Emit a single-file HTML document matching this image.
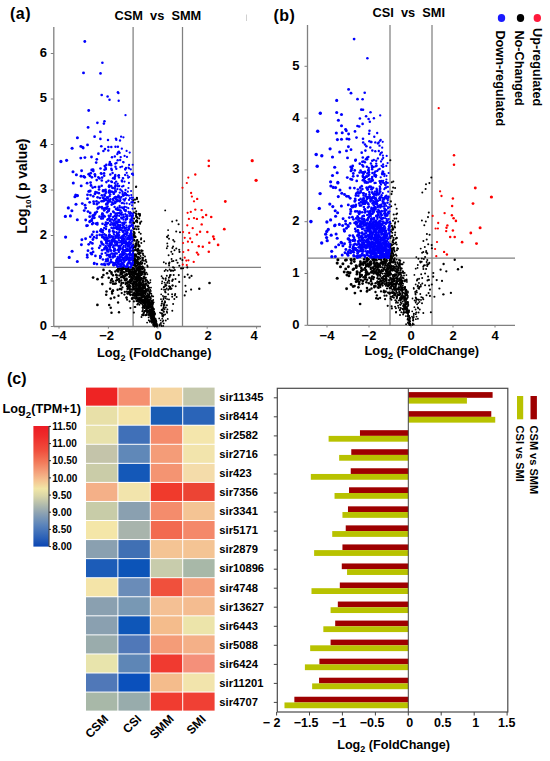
<!DOCTYPE html><html><head><meta charset="utf-8"><style>html,body{margin:0;padding:0;background:#fff;}svg{display:block;}text{font-family:"Liberation Sans",sans-serif;}</style></head><body><svg width="550" height="761" viewBox="0 0 550 761"><rect width="550" height="761" fill="#fff"/><text x="10" y="18.7" font-size="16" letter-spacing="0.5" font-family="Liberation Sans, sans-serif" font-weight="bold">(a)</text><text x="273.4" y="20.6" font-size="16" letter-spacing="0.5" font-family="Liberation Sans, sans-serif" font-weight="bold">(b)</text><text x="7" y="383.5" font-size="16" font-family="Liberation Sans, sans-serif" font-weight="bold">(c)</text><line x1="246.5" y1="14.5" x2="246.5" y2="21" stroke="#d0d0d0" stroke-width="1"/><text x="114.5" y="20.3" font-size="12.8" font-family="Liberation Sans, sans-serif" font-weight="bold" xml:space="preserve">CSM  vs  SMM</text><text x="372.5" y="17" font-size="12.8" font-family="Liberation Sans, sans-serif" font-weight="bold" xml:space="preserve">CSI  vs  SMI</text><line x1="133.1" y1="27" x2="133.1" y2="326.5" stroke="#808080" stroke-width="1.25"/><line x1="182.5" y1="27" x2="182.5" y2="326.5" stroke="#808080" stroke-width="1.25"/><line x1="53.8" y1="267.4" x2="261" y2="267.4" stroke="#808080" stroke-width="1.25"/><line x1="53.8" y1="27" x2="53.8" y2="326.5" stroke="#808080" stroke-width="1.3"/><line x1="53.8" y1="326.5" x2="261" y2="326.5" stroke="#808080" stroke-width="1.3"/><line x1="50.8" y1="326.5" x2="53.8" y2="326.5" stroke="#808080" stroke-width="1"/><text x="47.0" y="329.9" text-anchor="end" font-size="13" font-family="Liberation Sans, sans-serif" font-weight="bold">0</text><line x1="50.8" y1="281.0" x2="53.8" y2="281.0" stroke="#808080" stroke-width="1"/><text x="47.0" y="284.4" text-anchor="end" font-size="13" font-family="Liberation Sans, sans-serif" font-weight="bold">1</text><line x1="50.8" y1="235.5" x2="53.8" y2="235.5" stroke="#808080" stroke-width="1"/><text x="47.0" y="238.9" text-anchor="end" font-size="13" font-family="Liberation Sans, sans-serif" font-weight="bold">2</text><line x1="50.8" y1="190.0" x2="53.8" y2="190.0" stroke="#808080" stroke-width="1"/><text x="47.0" y="193.4" text-anchor="end" font-size="13" font-family="Liberation Sans, sans-serif" font-weight="bold">3</text><line x1="50.8" y1="144.5" x2="53.8" y2="144.5" stroke="#808080" stroke-width="1"/><text x="47.0" y="147.9" text-anchor="end" font-size="13" font-family="Liberation Sans, sans-serif" font-weight="bold">4</text><line x1="50.8" y1="99.0" x2="53.8" y2="99.0" stroke="#808080" stroke-width="1"/><text x="47.0" y="102.4" text-anchor="end" font-size="13" font-family="Liberation Sans, sans-serif" font-weight="bold">5</text><line x1="50.8" y1="53.5" x2="53.8" y2="53.5" stroke="#808080" stroke-width="1"/><text x="47.0" y="56.9" text-anchor="end" font-size="13" font-family="Liberation Sans, sans-serif" font-weight="bold">6</text><line x1="59.0" y1="326.5" x2="59.0" y2="328.7" stroke="#808080" stroke-width="1"/><text x="59.0" y="339.8" text-anchor="middle" font-size="13" font-family="Liberation Sans, sans-serif" font-weight="bold">−4</text><line x1="108.4" y1="326.5" x2="108.4" y2="328.7" stroke="#808080" stroke-width="1"/><text x="106.6" y="339.8" text-anchor="middle" font-size="13" font-family="Liberation Sans, sans-serif" font-weight="bold">−2</text><line x1="157.8" y1="326.5" x2="157.8" y2="328.7" stroke="#808080" stroke-width="1"/><text x="158.1" y="339.8" text-anchor="middle" font-size="13" font-family="Liberation Sans, sans-serif" font-weight="bold">0</text><line x1="207.2" y1="326.5" x2="207.2" y2="328.7" stroke="#808080" stroke-width="1"/><text x="208.2" y="339.8" text-anchor="middle" font-size="13" font-family="Liberation Sans, sans-serif" font-weight="bold">2</text><line x1="256.6" y1="326.5" x2="256.6" y2="328.7" stroke="#808080" stroke-width="1"/><text x="254.1" y="339.8" text-anchor="middle" font-size="13" font-family="Liberation Sans, sans-serif" font-weight="bold">4</text><line x1="390.0" y1="25" x2="390.0" y2="325.3" stroke="#808080" stroke-width="1.25"/><line x1="432.0" y1="25" x2="432.0" y2="325.3" stroke="#808080" stroke-width="1.25"/><line x1="307.5" y1="258.0" x2="515" y2="258.0" stroke="#808080" stroke-width="1.25"/><line x1="307.5" y1="25" x2="307.5" y2="325.3" stroke="#808080" stroke-width="1.3"/><line x1="307.5" y1="325.3" x2="515" y2="325.3" stroke="#808080" stroke-width="1.3"/><line x1="304.5" y1="325.3" x2="307.5" y2="325.3" stroke="#808080" stroke-width="1"/><text x="299.4" y="328.7" text-anchor="end" font-size="13" font-family="Liberation Sans, sans-serif" font-weight="bold">0</text><line x1="304.5" y1="273.5" x2="307.5" y2="273.5" stroke="#808080" stroke-width="1"/><text x="299.4" y="276.9" text-anchor="end" font-size="13" font-family="Liberation Sans, sans-serif" font-weight="bold">1</text><line x1="304.5" y1="221.7" x2="307.5" y2="221.7" stroke="#808080" stroke-width="1"/><text x="299.4" y="225.1" text-anchor="end" font-size="13" font-family="Liberation Sans, sans-serif" font-weight="bold">2</text><line x1="304.5" y1="169.9" x2="307.5" y2="169.9" stroke="#808080" stroke-width="1"/><text x="299.4" y="173.3" text-anchor="end" font-size="13" font-family="Liberation Sans, sans-serif" font-weight="bold">3</text><line x1="304.5" y1="118.1" x2="307.5" y2="118.1" stroke="#808080" stroke-width="1"/><text x="299.4" y="121.5" text-anchor="end" font-size="13" font-family="Liberation Sans, sans-serif" font-weight="bold">4</text><line x1="304.5" y1="66.3" x2="307.5" y2="66.3" stroke="#808080" stroke-width="1"/><text x="299.4" y="69.7" text-anchor="end" font-size="13" font-family="Liberation Sans, sans-serif" font-weight="bold">5</text><line x1="327.0" y1="325.3" x2="327.0" y2="327.5" stroke="#808080" stroke-width="1"/><text x="327.0" y="340.3" text-anchor="middle" font-size="13" font-family="Liberation Sans, sans-serif" font-weight="bold">−4</text><line x1="369.0" y1="325.3" x2="369.0" y2="327.5" stroke="#808080" stroke-width="1"/><text x="369.0" y="340.3" text-anchor="middle" font-size="13" font-family="Liberation Sans, sans-serif" font-weight="bold">−2</text><line x1="411.0" y1="325.3" x2="411.0" y2="327.5" stroke="#808080" stroke-width="1"/><text x="411.0" y="340.3" text-anchor="middle" font-size="13" font-family="Liberation Sans, sans-serif" font-weight="bold">0</text><line x1="453.0" y1="325.3" x2="453.0" y2="327.5" stroke="#808080" stroke-width="1"/><text x="453.0" y="340.3" text-anchor="middle" font-size="13" font-family="Liberation Sans, sans-serif" font-weight="bold">2</text><line x1="495.0" y1="325.3" x2="495.0" y2="327.5" stroke="#808080" stroke-width="1"/><text x="495.0" y="340.3" text-anchor="middle" font-size="13" font-family="Liberation Sans, sans-serif" font-weight="bold">4</text><g fill="#000"><circle cx="149.8" cy="321.8" r="0.94"/><circle cx="155.0" cy="323.1" r="0.9"/><circle cx="154.1" cy="322.3" r="0.91"/><circle cx="154.1" cy="324.7" r="0.91"/><circle cx="156.8" cy="325.1" r="0.89"/><circle cx="155.1" cy="324.5" r="0.9"/><circle cx="155.9" cy="320.2" r="0.89"/><circle cx="153.3" cy="325.5" r="0.91"/><circle cx="154.0" cy="315.4" r="0.91"/><circle cx="155.1" cy="324.8" r="0.9"/><circle cx="152.3" cy="318.3" r="0.92"/><circle cx="155.7" cy="326.2" r="0.9"/><circle cx="147.1" cy="322.6" r="0.96"/><circle cx="154.1" cy="318.0" r="0.91"/><circle cx="154.6" cy="326.5" r="0.9"/><circle cx="154.3" cy="317.7" r="0.91"/><circle cx="154.6" cy="324.5" r="0.9"/><circle cx="150.5" cy="316.4" r="0.94"/><circle cx="153.9" cy="319.9" r="0.91"/><circle cx="155.1" cy="320.5" r="0.9"/><circle cx="151.0" cy="318.4" r="0.93"/><circle cx="156.7" cy="323.9" r="0.89"/><circle cx="151.3" cy="316.6" r="0.93"/><circle cx="148.8" cy="320.2" r="0.95"/><circle cx="156.5" cy="324.4" r="0.89"/><circle cx="153.4" cy="315.6" r="0.91"/><circle cx="154.8" cy="326.0" r="0.9"/><circle cx="141.5" cy="317.0" r="1.01"/><circle cx="155.7" cy="324.8" r="0.9"/><circle cx="154.1" cy="324.7" r="0.91"/><circle cx="152.0" cy="322.8" r="0.92"/><circle cx="155.7" cy="325.6" r="0.9"/><circle cx="145.6" cy="315.2" r="0.97"/><circle cx="154.4" cy="317.7" r="0.91"/><circle cx="155.7" cy="322.3" r="0.9"/><circle cx="156.1" cy="321.0" r="0.89"/><circle cx="156.7" cy="325.8" r="0.89"/><circle cx="154.7" cy="319.6" r="0.9"/><circle cx="153.3" cy="321.7" r="0.91"/><circle cx="153.3" cy="317.8" r="0.91"/><circle cx="153.9" cy="318.6" r="0.91"/><circle cx="155.9" cy="324.6" r="0.89"/><circle cx="151.7" cy="315.5" r="0.93"/><circle cx="154.3" cy="323.2" r="0.91"/><circle cx="154.1" cy="320.4" r="0.91"/><circle cx="156.6" cy="326.5" r="0.89"/><circle cx="153.1" cy="320.9" r="0.92"/><circle cx="148.7" cy="317.4" r="0.95"/><circle cx="156.8" cy="325.4" r="0.89"/><circle cx="152.8" cy="317.5" r="0.92"/><circle cx="153.4" cy="315.6" r="0.91"/><circle cx="151.3" cy="316.5" r="0.93"/><circle cx="156.7" cy="326.2" r="0.89"/><circle cx="154.6" cy="324.5" r="0.9"/><circle cx="154.6" cy="318.8" r="0.9"/><circle cx="154.7" cy="321.8" r="0.9"/><circle cx="153.6" cy="318.6" r="0.91"/><circle cx="153.7" cy="321.3" r="0.91"/><circle cx="156.1" cy="324.3" r="0.89"/><circle cx="156.3" cy="325.0" r="0.89"/><circle cx="153.2" cy="316.3" r="0.92"/><circle cx="152.4" cy="320.4" r="0.92"/><circle cx="154.7" cy="318.6" r="0.9"/><circle cx="156.6" cy="323.5" r="0.89"/><circle cx="155.5" cy="321.6" r="0.9"/><circle cx="151.6" cy="320.0" r="0.93"/><circle cx="151.3" cy="319.3" r="0.93"/><circle cx="152.2" cy="318.4" r="0.92"/><circle cx="156.4" cy="326.1" r="0.89"/><circle cx="156.3" cy="321.9" r="0.89"/><circle cx="154.6" cy="321.4" r="0.9"/><circle cx="150.1" cy="321.0" r="0.94"/><circle cx="153.9" cy="323.5" r="0.91"/><circle cx="151.7" cy="316.0" r="0.93"/><circle cx="155.7" cy="318.8" r="0.9"/><circle cx="157.2" cy="326.2" r="0.88"/><circle cx="152.8" cy="319.6" r="0.92"/><circle cx="154.5" cy="324.4" r="0.91"/><circle cx="152.3" cy="322.5" r="0.92"/><circle cx="154.3" cy="316.9" r="0.91"/><circle cx="156.6" cy="325.6" r="0.89"/><circle cx="154.5" cy="326.0" r="0.91"/><circle cx="153.1" cy="324.3" r="0.92"/><circle cx="154.1" cy="323.9" r="0.91"/><circle cx="153.6" cy="321.7" r="0.91"/><circle cx="154.0" cy="320.7" r="0.91"/><circle cx="153.7" cy="317.5" r="0.91"/><circle cx="155.7" cy="326.0" r="0.9"/><circle cx="155.7" cy="325.4" r="0.9"/><circle cx="152.6" cy="320.0" r="0.92"/><circle cx="153.4" cy="322.4" r="0.91"/><circle cx="152.7" cy="316.8" r="0.92"/><circle cx="156.9" cy="325.5" r="0.89"/><circle cx="153.8" cy="319.0" r="0.91"/><circle cx="156.4" cy="321.8" r="0.89"/><circle cx="156.1" cy="324.8" r="0.89"/><circle cx="155.9" cy="320.5" r="0.89"/><circle cx="156.5" cy="324.6" r="0.89"/><circle cx="151.3" cy="321.8" r="0.93"/><circle cx="151.8" cy="316.6" r="0.93"/><circle cx="153.9" cy="322.5" r="0.91"/><circle cx="157.1" cy="326.3" r="0.89"/><circle cx="152.6" cy="321.2" r="0.92"/><circle cx="152.1" cy="317.4" r="0.92"/><circle cx="156.2" cy="325.1" r="0.89"/><circle cx="156.1" cy="325.3" r="0.89"/><circle cx="150.4" cy="315.7" r="0.94"/><circle cx="151.0" cy="315.8" r="0.93"/><circle cx="154.9" cy="323.0" r="0.9"/><circle cx="153.3" cy="320.8" r="0.91"/><circle cx="156.2" cy="325.8" r="0.89"/><circle cx="151.1" cy="318.0" r="0.93"/><circle cx="156.3" cy="324.7" r="0.89"/><circle cx="152.7" cy="315.2" r="0.92"/><circle cx="143.5" cy="315.2" r="0.99"/><circle cx="155.3" cy="320.2" r="0.9"/><circle cx="153.0" cy="315.9" r="0.92"/><circle cx="153.9" cy="318.2" r="0.91"/><circle cx="150.6" cy="316.8" r="0.94"/><circle cx="152.6" cy="317.6" r="0.92"/><circle cx="149.7" cy="306.4" r="0.94"/><circle cx="151.0" cy="312.1" r="0.93"/><circle cx="147.9" cy="312.4" r="0.96"/><circle cx="150.2" cy="310.9" r="0.94"/><circle cx="150.6" cy="307.3" r="0.94"/><circle cx="152.0" cy="307.7" r="0.92"/><circle cx="145.3" cy="305.3" r="0.98"/><circle cx="152.2" cy="314.8" r="0.92"/><circle cx="142.7" cy="304.7" r="1.0"/><circle cx="151.4" cy="310.6" r="0.93"/><circle cx="149.9" cy="307.3" r="0.94"/><circle cx="149.7" cy="312.3" r="0.94"/><circle cx="151.9" cy="311.7" r="0.93"/><circle cx="149.0" cy="306.8" r="0.95"/><circle cx="150.5" cy="304.1" r="0.94"/><circle cx="144.5" cy="307.9" r="0.98"/><circle cx="150.7" cy="306.0" r="0.93"/><circle cx="151.1" cy="306.9" r="0.93"/><circle cx="142.6" cy="314.9" r="1.0"/><circle cx="151.0" cy="307.2" r="0.93"/><circle cx="151.3" cy="312.8" r="0.93"/><circle cx="150.4" cy="310.6" r="0.94"/><circle cx="152.6" cy="312.7" r="0.92"/><circle cx="152.1" cy="314.1" r="0.92"/><circle cx="147.7" cy="306.1" r="0.96"/><circle cx="146.8" cy="314.9" r="0.96"/><circle cx="147.2" cy="308.7" r="0.96"/><circle cx="154.2" cy="311.4" r="0.91"/><circle cx="152.8" cy="313.7" r="0.92"/><circle cx="151.9" cy="311.9" r="0.93"/><circle cx="153.6" cy="312.7" r="0.91"/><circle cx="145.7" cy="310.6" r="0.97"/><circle cx="149.5" cy="307.8" r="0.94"/><circle cx="153.7" cy="308.6" r="0.91"/><circle cx="151.2" cy="303.9" r="0.93"/><circle cx="148.5" cy="307.6" r="0.95"/><circle cx="149.4" cy="304.1" r="0.94"/><circle cx="155.1" cy="313.3" r="0.9"/><circle cx="151.2" cy="310.3" r="0.93"/><circle cx="152.5" cy="305.7" r="0.92"/><circle cx="151.6" cy="312.1" r="0.93"/><circle cx="145.8" cy="310.7" r="0.97"/><circle cx="153.8" cy="314.1" r="0.91"/><circle cx="143.3" cy="306.7" r="0.99"/><circle cx="153.6" cy="312.5" r="0.91"/><circle cx="153.7" cy="313.4" r="0.91"/><circle cx="149.0" cy="315.0" r="0.95"/><circle cx="139.4" cy="304.7" r="1.02"/><circle cx="151.5" cy="310.7" r="0.93"/><circle cx="144.4" cy="311.5" r="0.98"/><circle cx="151.4" cy="314.7" r="0.93"/><circle cx="142.9" cy="309.9" r="0.99"/><circle cx="151.4" cy="311.2" r="0.93"/><circle cx="146.3" cy="306.4" r="0.97"/><circle cx="151.4" cy="310.9" r="0.93"/><circle cx="151.4" cy="304.9" r="0.93"/><circle cx="144.0" cy="306.1" r="0.99"/><circle cx="149.0" cy="315.0" r="0.95"/><circle cx="146.4" cy="306.5" r="0.97"/><circle cx="133.9" cy="312.6" r="1.06"/><circle cx="154.0" cy="309.3" r="0.91"/><circle cx="148.4" cy="308.4" r="0.95"/><circle cx="148.1" cy="305.1" r="0.95"/><circle cx="149.4" cy="313.0" r="0.94"/><circle cx="152.5" cy="314.6" r="0.92"/><circle cx="152.5" cy="306.5" r="0.92"/><circle cx="146.6" cy="306.2" r="0.97"/><circle cx="147.3" cy="307.6" r="0.96"/><circle cx="153.4" cy="315.1" r="0.91"/><circle cx="142.7" cy="307.7" r="1.0"/><circle cx="130.4" cy="308.1" r="1.09"/><circle cx="152.6" cy="311.6" r="0.92"/><circle cx="148.3" cy="311.5" r="0.95"/><circle cx="149.4" cy="310.1" r="0.94"/><circle cx="148.4" cy="307.8" r="0.95"/><circle cx="146.3" cy="307.3" r="0.97"/><circle cx="150.3" cy="307.5" r="0.94"/><circle cx="150.8" cy="312.9" r="0.93"/><circle cx="144.3" cy="312.1" r="0.98"/><circle cx="155.0" cy="314.6" r="0.9"/><circle cx="137.3" cy="304.5" r="1.04"/><circle cx="153.0" cy="312.5" r="0.92"/><circle cx="145.8" cy="304.1" r="0.97"/><circle cx="152.8" cy="314.7" r="0.92"/><circle cx="150.5" cy="310.8" r="0.94"/><circle cx="147.3" cy="304.3" r="0.96"/><circle cx="152.0" cy="307.5" r="0.92"/><circle cx="151.6" cy="313.9" r="0.93"/><circle cx="148.0" cy="306.6" r="0.96"/><circle cx="148.5" cy="305.9" r="0.95"/><circle cx="146.6" cy="311.1" r="0.97"/><circle cx="151.8" cy="312.7" r="0.93"/><circle cx="151.3" cy="312.9" r="0.93"/><circle cx="149.8" cy="313.3" r="0.94"/><circle cx="152.8" cy="309.8" r="0.92"/><circle cx="152.2" cy="313.6" r="0.92"/><circle cx="146.7" cy="314.8" r="0.97"/><circle cx="143.4" cy="313.6" r="0.99"/><circle cx="152.3" cy="307.3" r="0.92"/><circle cx="148.9" cy="304.5" r="0.95"/><circle cx="151.5" cy="312.2" r="0.93"/><circle cx="153.0" cy="310.9" r="0.92"/><circle cx="149.3" cy="310.6" r="0.95"/><circle cx="144.8" cy="304.6" r="0.98"/><circle cx="144.4" cy="307.8" r="0.98"/><circle cx="143.8" cy="313.0" r="0.99"/><circle cx="152.9" cy="307.6" r="0.92"/><circle cx="152.4" cy="310.4" r="0.92"/><circle cx="147.8" cy="304.3" r="0.96"/><circle cx="153.7" cy="313.7" r="0.91"/><circle cx="147.3" cy="312.2" r="0.96"/><circle cx="143.0" cy="306.0" r="0.99"/><circle cx="150.5" cy="306.7" r="0.94"/><circle cx="152.6" cy="312.0" r="0.92"/><circle cx="150.3" cy="306.0" r="0.94"/><circle cx="152.7" cy="308.8" r="0.92"/><circle cx="150.2" cy="306.1" r="0.94"/><circle cx="151.2" cy="310.9" r="0.93"/><circle cx="151.9" cy="311.6" r="0.93"/><circle cx="134.6" cy="307.0" r="1.06"/><circle cx="152.1" cy="308.1" r="0.92"/><circle cx="150.1" cy="313.9" r="0.94"/><circle cx="151.8" cy="309.7" r="0.93"/><circle cx="150.9" cy="309.4" r="0.93"/><circle cx="144.9" cy="303.8" r="0.98"/><circle cx="147.8" cy="304.4" r="0.96"/><circle cx="144.3" cy="306.1" r="0.98"/><circle cx="154.4" cy="312.8" r="0.91"/><circle cx="153.8" cy="313.6" r="0.91"/><circle cx="154.4" cy="314.0" r="0.91"/><circle cx="142.1" cy="315.0" r="1.0"/><circle cx="152.4" cy="312.2" r="0.92"/><circle cx="149.7" cy="305.7" r="0.94"/><circle cx="143.8" cy="315.0" r="0.99"/><circle cx="147.8" cy="308.2" r="0.96"/><circle cx="146.1" cy="314.8" r="0.97"/><circle cx="144.3" cy="307.8" r="0.98"/><circle cx="149.3" cy="314.3" r="0.95"/><circle cx="148.0" cy="310.8" r="0.96"/><circle cx="146.3" cy="309.8" r="0.97"/><circle cx="151.2" cy="307.6" r="0.93"/><circle cx="150.7" cy="305.4" r="0.93"/><circle cx="145.7" cy="310.5" r="0.97"/><circle cx="144.7" cy="311.1" r="0.98"/><circle cx="147.5" cy="304.5" r="0.96"/><circle cx="149.7" cy="311.2" r="0.94"/><circle cx="152.7" cy="304.2" r="0.92"/><circle cx="149.0" cy="310.9" r="0.95"/><circle cx="146.1" cy="308.2" r="0.97"/><circle cx="150.2" cy="313.9" r="0.94"/><circle cx="151.5" cy="310.5" r="0.93"/><circle cx="142.6" cy="307.7" r="1.0"/><circle cx="150.6" cy="312.4" r="0.94"/><circle cx="150.4" cy="313.7" r="0.94"/><circle cx="147.9" cy="310.8" r="0.96"/><circle cx="151.0" cy="310.5" r="0.93"/><circle cx="153.7" cy="315.0" r="0.91"/><circle cx="151.8" cy="311.4" r="0.93"/><circle cx="150.3" cy="310.7" r="0.94"/><circle cx="146.9" cy="313.0" r="0.96"/><circle cx="135.3" cy="307.0" r="1.05"/><circle cx="152.5" cy="311.0" r="0.92"/><circle cx="151.3" cy="315.0" r="0.93"/><circle cx="152.4" cy="308.9" r="0.92"/><circle cx="146.4" cy="307.7" r="0.97"/><circle cx="152.8" cy="310.2" r="0.92"/><circle cx="149.1" cy="313.6" r="0.95"/><circle cx="150.5" cy="313.4" r="0.94"/><circle cx="147.9" cy="304.4" r="0.96"/><circle cx="150.5" cy="311.5" r="0.94"/><circle cx="147.7" cy="310.4" r="0.96"/><circle cx="151.8" cy="308.9" r="0.93"/><circle cx="151.0" cy="312.1" r="0.93"/><circle cx="146.1" cy="306.2" r="0.97"/><circle cx="149.9" cy="309.6" r="0.94"/><circle cx="154.2" cy="314.1" r="0.91"/><circle cx="152.5" cy="312.1" r="0.92"/><circle cx="142.3" cy="311.2" r="1.0"/><circle cx="144.5" cy="304.1" r="0.98"/><circle cx="153.2" cy="309.1" r="0.92"/><circle cx="144.4" cy="295.9" r="0.98"/><circle cx="139.5" cy="294.0" r="1.02"/><circle cx="131.8" cy="298.5" r="1.08"/><circle cx="145.8" cy="297.2" r="0.97"/><circle cx="145.8" cy="298.9" r="0.97"/><circle cx="147.9" cy="299.7" r="0.96"/><circle cx="138.1" cy="300.1" r="1.03"/><circle cx="153.2" cy="302.6" r="0.92"/><circle cx="150.1" cy="303.5" r="0.94"/><circle cx="135.5" cy="298.8" r="1.05"/><circle cx="130.6" cy="295.1" r="1.09"/><circle cx="144.8" cy="296.2" r="0.98"/><circle cx="150.6" cy="302.1" r="0.94"/><circle cx="148.7" cy="301.5" r="0.95"/><circle cx="151.4" cy="303.5" r="0.93"/><circle cx="153.2" cy="296.4" r="0.92"/><circle cx="142.0" cy="301.5" r="1.0"/><circle cx="147.8" cy="299.9" r="0.96"/><circle cx="137.9" cy="294.5" r="1.03"/><circle cx="151.3" cy="293.7" r="0.93"/><circle cx="145.7" cy="303.7" r="0.97"/><circle cx="136.4" cy="301.1" r="1.04"/><circle cx="143.1" cy="294.1" r="0.99"/><circle cx="149.6" cy="293.0" r="0.94"/><circle cx="134.6" cy="295.7" r="1.06"/><circle cx="147.1" cy="302.2" r="0.96"/><circle cx="134.0" cy="297.9" r="1.06"/><circle cx="147.0" cy="300.1" r="0.96"/><circle cx="144.3" cy="302.6" r="0.98"/><circle cx="140.4" cy="295.7" r="1.01"/><circle cx="153.2" cy="300.0" r="0.92"/><circle cx="137.4" cy="300.0" r="1.04"/><circle cx="146.2" cy="296.3" r="0.97"/><circle cx="139.0" cy="298.9" r="1.02"/><circle cx="136.8" cy="298.7" r="1.04"/><circle cx="136.9" cy="297.4" r="1.04"/><circle cx="118.1" cy="302.5" r="1.19"/><circle cx="147.4" cy="300.6" r="0.96"/><circle cx="143.5" cy="299.9" r="0.99"/><circle cx="149.0" cy="297.3" r="0.95"/><circle cx="142.6" cy="295.1" r="1.0"/><circle cx="147.8" cy="298.2" r="0.96"/><circle cx="129.8" cy="294.5" r="1.1"/><circle cx="148.9" cy="294.7" r="0.95"/><circle cx="136.3" cy="296.3" r="1.05"/><circle cx="141.9" cy="295.7" r="1.0"/><circle cx="136.9" cy="301.0" r="1.04"/><circle cx="139.1" cy="295.0" r="1.02"/><circle cx="142.4" cy="292.4" r="1.0"/><circle cx="150.6" cy="303.4" r="0.94"/><circle cx="136.2" cy="296.0" r="1.05"/><circle cx="147.4" cy="297.3" r="0.96"/><circle cx="148.6" cy="302.7" r="0.95"/><circle cx="132.8" cy="294.6" r="1.07"/><circle cx="140.8" cy="300.1" r="1.01"/><circle cx="149.0" cy="297.4" r="0.95"/><circle cx="146.4" cy="301.5" r="0.97"/><circle cx="146.9" cy="299.0" r="0.96"/><circle cx="127.6" cy="293.7" r="1.11"/><circle cx="151.9" cy="301.5" r="0.93"/><circle cx="145.3" cy="293.5" r="0.98"/><circle cx="141.2" cy="293.6" r="1.01"/><circle cx="134.5" cy="292.9" r="1.06"/><circle cx="146.2" cy="301.2" r="0.97"/><circle cx="144.9" cy="293.2" r="0.98"/><circle cx="151.7" cy="295.5" r="0.93"/><circle cx="143.0" cy="292.5" r="0.99"/><circle cx="150.2" cy="293.3" r="0.94"/><circle cx="138.2" cy="298.9" r="1.03"/><circle cx="144.6" cy="292.8" r="0.98"/><circle cx="144.2" cy="297.6" r="0.98"/><circle cx="145.3" cy="299.9" r="0.98"/><circle cx="139.7" cy="300.6" r="1.02"/><circle cx="144.9" cy="300.8" r="0.98"/><circle cx="146.3" cy="302.5" r="0.97"/><circle cx="129.6" cy="301.3" r="1.1"/><circle cx="142.1" cy="295.8" r="1.0"/><circle cx="142.9" cy="295.7" r="0.99"/><circle cx="144.0" cy="302.2" r="0.99"/><circle cx="136.0" cy="293.3" r="1.05"/><circle cx="129.3" cy="293.8" r="1.1"/><circle cx="140.4" cy="302.8" r="1.01"/><circle cx="127.1" cy="299.7" r="1.12"/><circle cx="146.0" cy="302.5" r="0.97"/><circle cx="149.5" cy="297.3" r="0.94"/><circle cx="137.0" cy="294.0" r="1.04"/><circle cx="126.6" cy="297.4" r="1.12"/><circle cx="149.4" cy="301.9" r="0.94"/><circle cx="144.3" cy="303.1" r="0.98"/><circle cx="134.4" cy="295.8" r="1.06"/><circle cx="143.2" cy="294.0" r="0.99"/><circle cx="149.8" cy="296.9" r="0.94"/><circle cx="148.8" cy="296.3" r="0.95"/><circle cx="135.8" cy="294.2" r="1.05"/><circle cx="143.9" cy="294.0" r="0.99"/><circle cx="151.5" cy="302.9" r="0.93"/><circle cx="148.6" cy="300.0" r="0.95"/><circle cx="144.3" cy="301.5" r="0.98"/><circle cx="142.2" cy="299.5" r="1.0"/><circle cx="145.6" cy="293.1" r="0.97"/><circle cx="151.6" cy="303.7" r="0.93"/><circle cx="137.3" cy="295.2" r="1.04"/><circle cx="145.1" cy="303.6" r="0.98"/><circle cx="142.1" cy="297.3" r="1.0"/><circle cx="148.9" cy="302.7" r="0.95"/><circle cx="143.4" cy="302.6" r="0.99"/><circle cx="149.7" cy="299.5" r="0.94"/><circle cx="141.6" cy="299.8" r="1.0"/><circle cx="149.3" cy="303.0" r="0.95"/><circle cx="138.0" cy="303.7" r="1.03"/><circle cx="126.4" cy="297.8" r="1.12"/><circle cx="144.2" cy="301.5" r="0.98"/><circle cx="136.2" cy="297.7" r="1.05"/><circle cx="137.6" cy="294.7" r="1.04"/><circle cx="138.2" cy="293.3" r="1.03"/><circle cx="153.0" cy="303.7" r="0.92"/><circle cx="124.4" cy="294.6" r="1.14"/><circle cx="137.0" cy="292.4" r="1.04"/><circle cx="148.9" cy="295.6" r="0.95"/><circle cx="150.1" cy="302.8" r="0.94"/><circle cx="137.6" cy="293.9" r="1.04"/><circle cx="142.9" cy="300.7" r="0.99"/><circle cx="147.0" cy="295.9" r="0.96"/><circle cx="140.0" cy="298.0" r="1.02"/><circle cx="134.9" cy="295.2" r="1.06"/><circle cx="151.3" cy="300.5" r="0.93"/><circle cx="144.2" cy="303.2" r="0.98"/><circle cx="140.9" cy="295.3" r="1.01"/><circle cx="146.1" cy="302.8" r="0.97"/><circle cx="143.4" cy="295.9" r="0.99"/><circle cx="149.6" cy="300.9" r="0.94"/><circle cx="149.3" cy="296.3" r="0.95"/><circle cx="140.4" cy="302.9" r="1.01"/><circle cx="141.1" cy="293.4" r="1.01"/><circle cx="144.6" cy="298.5" r="0.98"/><circle cx="133.5" cy="294.4" r="1.07"/><circle cx="133.9" cy="301.4" r="1.06"/><circle cx="132.1" cy="298.9" r="1.08"/><circle cx="145.7" cy="298.7" r="0.97"/><circle cx="137.1" cy="293.9" r="1.04"/><circle cx="142.7" cy="294.6" r="1.0"/><circle cx="127.5" cy="293.3" r="1.11"/><circle cx="141.7" cy="299.0" r="1.0"/><circle cx="142.6" cy="294.2" r="1.0"/><circle cx="142.3" cy="294.1" r="1.0"/><circle cx="140.1" cy="300.7" r="1.02"/><circle cx="142.6" cy="302.2" r="1.0"/><circle cx="149.2" cy="294.8" r="0.95"/><circle cx="143.4" cy="296.4" r="0.99"/><circle cx="142.8" cy="300.8" r="1.0"/><circle cx="132.8" cy="294.8" r="1.07"/><circle cx="144.0" cy="300.1" r="0.99"/><circle cx="148.2" cy="300.5" r="0.95"/><circle cx="138.2" cy="301.8" r="1.03"/><circle cx="139.7" cy="301.9" r="1.02"/><circle cx="150.3" cy="299.7" r="0.94"/><circle cx="152.3" cy="300.9" r="0.92"/><circle cx="148.3" cy="294.8" r="0.95"/><circle cx="147.3" cy="298.7" r="0.96"/><circle cx="146.6" cy="295.7" r="0.97"/><circle cx="132.3" cy="297.9" r="1.08"/><circle cx="140.4" cy="293.8" r="1.01"/><circle cx="141.2" cy="298.2" r="1.01"/><circle cx="141.3" cy="301.6" r="1.01"/><circle cx="142.7" cy="294.2" r="1.0"/><circle cx="148.7" cy="300.3" r="0.95"/><circle cx="153.7" cy="302.3" r="0.91"/><circle cx="135.1" cy="295.1" r="1.05"/><circle cx="121.7" cy="293.1" r="1.16"/><circle cx="133.8" cy="293.4" r="1.06"/><circle cx="130.8" cy="294.5" r="1.09"/><circle cx="128.9" cy="292.6" r="1.1"/><circle cx="147.4" cy="295.3" r="0.96"/><circle cx="142.6" cy="293.8" r="1.0"/><circle cx="144.5" cy="296.9" r="0.98"/><circle cx="144.6" cy="303.6" r="0.98"/><circle cx="143.8" cy="295.8" r="0.99"/><circle cx="141.9" cy="300.3" r="1.0"/><circle cx="139.9" cy="298.5" r="1.02"/><circle cx="149.7" cy="302.3" r="0.94"/><circle cx="145.5" cy="294.3" r="0.97"/><circle cx="147.7" cy="293.5" r="0.96"/><circle cx="145.7" cy="299.1" r="0.97"/><circle cx="141.6" cy="295.8" r="1.0"/><circle cx="142.6" cy="296.7" r="1.0"/><circle cx="144.6" cy="299.1" r="0.98"/><circle cx="145.6" cy="298.8" r="0.97"/><circle cx="141.4" cy="294.5" r="1.01"/><circle cx="148.7" cy="303.3" r="0.95"/><circle cx="147.5" cy="298.9" r="0.96"/><circle cx="140.0" cy="294.2" r="1.02"/><circle cx="137.5" cy="300.7" r="1.04"/><circle cx="149.7" cy="296.8" r="0.94"/><circle cx="147.9" cy="302.7" r="0.96"/><circle cx="144.4" cy="296.6" r="0.98"/><circle cx="143.6" cy="292.7" r="0.99"/><circle cx="139.0" cy="294.1" r="1.02"/><circle cx="150.9" cy="298.1" r="0.93"/><circle cx="134.7" cy="293.3" r="1.06"/><circle cx="129.9" cy="292.6" r="1.09"/><circle cx="151.9" cy="303.0" r="0.93"/><circle cx="152.9" cy="302.1" r="0.92"/><circle cx="139.5" cy="297.4" r="1.02"/><circle cx="147.6" cy="301.4" r="0.96"/><circle cx="138.3" cy="295.6" r="1.03"/><circle cx="152.0" cy="296.3" r="0.92"/><circle cx="144.5" cy="303.1" r="0.98"/><circle cx="147.3" cy="297.3" r="0.96"/><circle cx="133.0" cy="295.5" r="1.07"/><circle cx="146.6" cy="302.1" r="0.97"/><circle cx="150.5" cy="297.9" r="0.94"/><circle cx="148.1" cy="301.6" r="0.95"/><circle cx="114.3" cy="297.5" r="1.21"/><circle cx="141.4" cy="303.5" r="1.01"/><circle cx="141.5" cy="297.6" r="1.01"/><circle cx="139.9" cy="299.2" r="1.02"/><circle cx="145.5" cy="300.9" r="0.97"/><circle cx="138.1" cy="298.1" r="1.03"/><circle cx="140.7" cy="292.9" r="1.01"/><circle cx="143.1" cy="303.3" r="0.99"/><circle cx="139.2" cy="293.3" r="1.02"/><circle cx="152.2" cy="302.0" r="0.92"/><circle cx="147.1" cy="298.7" r="0.96"/><circle cx="148.1" cy="295.4" r="0.95"/><circle cx="138.5" cy="301.5" r="1.03"/><circle cx="147.2" cy="296.8" r="0.96"/><circle cx="144.3" cy="297.1" r="0.98"/><circle cx="145.4" cy="301.9" r="0.98"/><circle cx="135.5" cy="298.3" r="1.05"/><circle cx="141.7" cy="301.6" r="1.0"/><circle cx="145.6" cy="284.6" r="0.97"/><circle cx="133.5" cy="289.4" r="1.07"/><circle cx="146.2" cy="291.0" r="0.97"/><circle cx="148.6" cy="290.0" r="0.95"/><circle cx="131.9" cy="292.0" r="1.08"/><circle cx="145.4" cy="283.7" r="0.98"/><circle cx="149.0" cy="283.4" r="0.95"/><circle cx="126.0" cy="283.2" r="1.12"/><circle cx="114.8" cy="283.8" r="1.21"/><circle cx="143.9" cy="285.9" r="0.99"/><circle cx="146.6" cy="291.7" r="0.97"/><circle cx="145.0" cy="292.2" r="0.98"/><circle cx="135.2" cy="288.8" r="1.05"/><circle cx="145.1" cy="281.8" r="0.98"/><circle cx="132.8" cy="283.8" r="1.07"/><circle cx="128.3" cy="291.8" r="1.11"/><circle cx="142.5" cy="282.5" r="1.0"/><circle cx="112.0" cy="291.8" r="1.23"/><circle cx="121.4" cy="283.9" r="1.16"/><circle cx="126.4" cy="283.1" r="1.12"/><circle cx="143.2" cy="286.5" r="0.99"/><circle cx="141.5" cy="288.2" r="1.01"/><circle cx="143.4" cy="290.7" r="0.99"/><circle cx="135.9" cy="285.2" r="1.05"/><circle cx="142.8" cy="286.8" r="1.0"/><circle cx="130.7" cy="281.5" r="1.09"/><circle cx="128.5" cy="281.6" r="1.11"/><circle cx="141.9" cy="291.4" r="1.0"/><circle cx="136.2" cy="290.5" r="1.05"/><circle cx="145.0" cy="290.7" r="0.98"/><circle cx="135.5" cy="281.5" r="1.05"/><circle cx="127.8" cy="287.7" r="1.11"/><circle cx="147.3" cy="290.8" r="0.96"/><circle cx="127.0" cy="286.2" r="1.12"/><circle cx="133.6" cy="282.6" r="1.07"/><circle cx="139.0" cy="287.5" r="1.02"/><circle cx="143.0" cy="285.1" r="0.99"/><circle cx="134.3" cy="283.1" r="1.06"/><circle cx="139.9" cy="282.7" r="1.02"/><circle cx="141.1" cy="283.9" r="1.01"/><circle cx="139.8" cy="285.5" r="1.02"/><circle cx="147.7" cy="286.0" r="0.96"/><circle cx="128.8" cy="288.0" r="1.1"/><circle cx="148.0" cy="281.6" r="0.96"/><circle cx="138.9" cy="288.9" r="1.03"/><circle cx="133.0" cy="284.6" r="1.07"/><circle cx="136.6" cy="281.4" r="1.04"/><circle cx="129.0" cy="286.2" r="1.1"/><circle cx="145.0" cy="287.6" r="0.98"/><circle cx="140.8" cy="285.7" r="1.01"/><circle cx="135.3" cy="281.2" r="1.05"/><circle cx="151.0" cy="287.6" r="0.93"/><circle cx="139.2" cy="290.7" r="1.02"/><circle cx="132.0" cy="283.6" r="1.08"/><circle cx="150.2" cy="289.8" r="0.94"/><circle cx="144.7" cy="287.6" r="0.98"/><circle cx="117.6" cy="289.7" r="1.19"/><circle cx="149.7" cy="291.6" r="0.94"/><circle cx="130.4" cy="283.0" r="1.09"/><circle cx="140.7" cy="288.3" r="1.01"/><circle cx="138.0" cy="290.2" r="1.03"/><circle cx="122.4" cy="287.4" r="1.15"/><circle cx="147.6" cy="288.9" r="0.96"/><circle cx="119.3" cy="281.0" r="1.18"/><circle cx="140.5" cy="288.7" r="1.01"/><circle cx="131.0" cy="283.5" r="1.09"/><circle cx="136.1" cy="282.0" r="1.05"/><circle cx="136.5" cy="288.6" r="1.04"/><circle cx="123.5" cy="282.9" r="1.14"/><circle cx="149.4" cy="287.6" r="0.94"/><circle cx="124.8" cy="291.9" r="1.13"/><circle cx="135.6" cy="288.1" r="1.05"/><circle cx="141.3" cy="290.4" r="1.01"/><circle cx="133.6" cy="282.0" r="1.07"/><circle cx="143.6" cy="287.5" r="0.99"/><circle cx="139.2" cy="286.4" r="1.02"/><circle cx="121.4" cy="289.5" r="1.16"/><circle cx="143.1" cy="284.2" r="0.99"/><circle cx="139.2" cy="286.0" r="1.02"/><circle cx="142.4" cy="288.3" r="1.0"/><circle cx="135.8" cy="282.4" r="1.05"/><circle cx="144.7" cy="288.0" r="0.98"/><circle cx="113.0" cy="290.8" r="1.22"/><circle cx="140.5" cy="290.3" r="1.01"/><circle cx="133.9" cy="283.3" r="1.06"/><circle cx="130.1" cy="286.2" r="1.09"/><circle cx="141.3" cy="290.3" r="1.01"/><circle cx="137.6" cy="292.3" r="1.04"/><circle cx="136.8" cy="288.2" r="1.04"/><circle cx="143.2" cy="287.5" r="0.99"/><circle cx="143.9" cy="287.9" r="0.99"/><circle cx="141.7" cy="291.8" r="1.0"/><circle cx="127.9" cy="288.6" r="1.11"/><circle cx="140.5" cy="287.2" r="1.01"/><circle cx="140.8" cy="289.0" r="1.01"/><circle cx="142.3" cy="285.4" r="1.0"/><circle cx="129.5" cy="286.7" r="1.1"/><circle cx="136.0" cy="288.5" r="1.05"/><circle cx="145.1" cy="292.3" r="0.98"/><circle cx="139.5" cy="291.2" r="1.02"/><circle cx="144.2" cy="284.6" r="0.98"/><circle cx="140.6" cy="284.4" r="1.01"/><circle cx="142.9" cy="282.4" r="0.99"/><circle cx="129.1" cy="282.2" r="1.1"/><circle cx="146.4" cy="289.3" r="0.97"/><circle cx="137.1" cy="288.3" r="1.04"/><circle cx="135.1" cy="286.0" r="1.05"/><circle cx="149.3" cy="287.7" r="0.95"/><circle cx="138.8" cy="289.2" r="1.03"/><circle cx="148.2" cy="289.3" r="0.95"/><circle cx="139.2" cy="287.3" r="1.02"/><circle cx="129.8" cy="290.0" r="1.1"/><circle cx="141.4" cy="291.6" r="1.01"/><circle cx="136.8" cy="289.0" r="1.04"/><circle cx="145.0" cy="288.6" r="0.98"/><circle cx="113.0" cy="283.7" r="1.22"/><circle cx="132.2" cy="289.4" r="1.08"/><circle cx="145.1" cy="292.2" r="0.98"/><circle cx="133.5" cy="287.0" r="1.07"/><circle cx="133.8" cy="281.4" r="1.06"/><circle cx="129.3" cy="286.3" r="1.1"/><circle cx="140.5" cy="288.6" r="1.01"/><circle cx="140.2" cy="289.8" r="1.02"/><circle cx="120.8" cy="285.7" r="1.16"/><circle cx="148.4" cy="282.6" r="0.95"/><circle cx="135.4" cy="282.1" r="1.05"/><circle cx="142.3" cy="291.5" r="1.0"/><circle cx="142.0" cy="288.4" r="1.0"/><circle cx="143.0" cy="290.9" r="0.99"/><circle cx="143.4" cy="291.4" r="0.99"/><circle cx="143.6" cy="284.0" r="0.99"/><circle cx="147.3" cy="282.0" r="0.96"/><circle cx="135.1" cy="284.3" r="1.05"/><circle cx="143.8" cy="287.2" r="0.99"/><circle cx="144.4" cy="286.2" r="0.98"/><circle cx="133.7" cy="286.9" r="1.07"/><circle cx="134.6" cy="286.5" r="1.06"/><circle cx="136.9" cy="283.6" r="1.04"/><circle cx="136.6" cy="282.5" r="1.04"/><circle cx="136.8" cy="289.7" r="1.04"/><circle cx="150.3" cy="282.4" r="0.94"/><circle cx="130.6" cy="286.7" r="1.09"/><circle cx="140.6" cy="291.1" r="1.01"/><circle cx="141.7" cy="284.5" r="1.0"/><circle cx="137.6" cy="281.0" r="1.04"/><circle cx="148.8" cy="287.5" r="0.95"/><circle cx="139.1" cy="291.7" r="1.02"/><circle cx="115.8" cy="283.4" r="1.2"/><circle cx="136.1" cy="285.8" r="1.05"/><circle cx="127.5" cy="283.1" r="1.11"/><circle cx="138.6" cy="291.1" r="1.03"/><circle cx="139.9" cy="284.2" r="1.02"/><circle cx="137.5" cy="292.2" r="1.04"/><circle cx="143.3" cy="286.1" r="0.99"/><circle cx="149.4" cy="291.9" r="0.94"/><circle cx="137.8" cy="288.9" r="1.03"/><circle cx="144.2" cy="292.0" r="0.98"/><circle cx="139.9" cy="284.8" r="1.02"/><circle cx="126.8" cy="291.6" r="1.12"/><circle cx="143.8" cy="290.9" r="0.99"/><circle cx="130.8" cy="289.6" r="1.09"/><circle cx="135.2" cy="290.9" r="1.05"/><circle cx="136.6" cy="291.7" r="1.04"/><circle cx="127.9" cy="286.2" r="1.11"/><circle cx="138.3" cy="288.8" r="1.03"/><circle cx="130.0" cy="291.9" r="1.09"/><circle cx="136.8" cy="284.3" r="1.04"/><circle cx="143.0" cy="290.3" r="0.99"/><circle cx="140.5" cy="287.1" r="1.01"/><circle cx="134.4" cy="283.1" r="1.06"/><circle cx="127.6" cy="282.1" r="1.11"/><circle cx="139.6" cy="289.3" r="1.02"/><circle cx="142.7" cy="289.3" r="1.0"/><circle cx="133.2" cy="283.5" r="1.07"/><circle cx="143.4" cy="287.7" r="0.99"/><circle cx="137.5" cy="288.6" r="1.04"/><circle cx="130.2" cy="282.8" r="1.09"/><circle cx="132.7" cy="285.8" r="1.07"/><circle cx="145.0" cy="284.7" r="0.98"/><circle cx="136.8" cy="286.1" r="1.04"/><circle cx="129.8" cy="288.5" r="1.1"/><circle cx="145.6" cy="289.8" r="0.97"/><circle cx="113.0" cy="281.4" r="1.22"/><circle cx="142.4" cy="281.4" r="1.0"/><circle cx="141.2" cy="288.2" r="1.01"/><circle cx="119.8" cy="289.0" r="1.17"/><circle cx="141.2" cy="283.4" r="1.01"/><circle cx="147.8" cy="286.5" r="0.96"/><circle cx="136.3" cy="282.3" r="1.05"/><circle cx="125.7" cy="284.2" r="1.13"/><circle cx="140.8" cy="282.8" r="1.01"/><circle cx="148.1" cy="285.5" r="0.95"/><circle cx="143.0" cy="287.3" r="0.99"/><circle cx="138.7" cy="282.8" r="1.03"/><circle cx="102.3" cy="284.1" r="1.31"/><circle cx="142.6" cy="290.2" r="1.0"/><circle cx="145.4" cy="291.3" r="0.98"/><circle cx="150.8" cy="290.9" r="0.93"/><circle cx="132.0" cy="289.7" r="1.08"/><circle cx="142.7" cy="286.2" r="1.0"/><circle cx="136.5" cy="284.5" r="1.04"/><circle cx="120.8" cy="288.9" r="1.16"/><circle cx="133.4" cy="283.7" r="1.07"/><circle cx="145.9" cy="291.8" r="0.97"/><circle cx="136.4" cy="284.9" r="1.04"/><circle cx="140.6" cy="288.8" r="1.01"/><circle cx="139.6" cy="282.0" r="1.02"/><circle cx="146.9" cy="285.0" r="0.96"/><circle cx="127.8" cy="284.0" r="1.11"/><circle cx="129.2" cy="288.8" r="1.1"/><circle cx="133.1" cy="287.5" r="1.07"/><circle cx="127.0" cy="282.5" r="1.12"/><circle cx="121.9" cy="282.8" r="1.16"/><circle cx="140.8" cy="290.0" r="1.01"/><circle cx="127.4" cy="289.1" r="1.11"/><circle cx="145.1" cy="286.8" r="0.98"/><circle cx="142.2" cy="291.0" r="1.0"/><circle cx="134.8" cy="289.1" r="1.06"/><circle cx="149.1" cy="291.2" r="0.95"/><circle cx="129.2" cy="284.5" r="1.1"/><circle cx="143.4" cy="281.4" r="0.99"/><circle cx="144.8" cy="285.7" r="0.98"/><circle cx="137.2" cy="285.7" r="1.04"/><circle cx="133.7" cy="284.9" r="1.07"/><circle cx="140.1" cy="288.7" r="1.02"/><circle cx="139.9" cy="282.2" r="1.02"/><circle cx="143.8" cy="286.0" r="0.99"/><circle cx="140.0" cy="291.7" r="1.02"/><circle cx="135.9" cy="282.8" r="1.05"/><circle cx="144.5" cy="290.8" r="0.98"/><circle cx="132.9" cy="284.5" r="1.07"/><circle cx="136.5" cy="291.5" r="1.04"/><circle cx="138.6" cy="285.9" r="1.03"/><circle cx="133.8" cy="288.4" r="1.06"/><circle cx="137.4" cy="289.4" r="1.04"/><circle cx="138.5" cy="284.1" r="1.03"/><circle cx="139.2" cy="282.9" r="1.02"/><circle cx="145.8" cy="291.2" r="0.97"/><circle cx="136.7" cy="292.0" r="1.04"/><circle cx="141.5" cy="291.1" r="1.01"/><circle cx="146.7" cy="283.4" r="0.97"/><circle cx="131.5" cy="281.4" r="1.08"/><circle cx="142.1" cy="284.9" r="1.0"/><circle cx="136.6" cy="284.9" r="1.04"/><circle cx="119.4" cy="282.0" r="1.18"/><circle cx="133.4" cy="272.9" r="1.07"/><circle cx="140.0" cy="269.5" r="1.02"/><circle cx="138.8" cy="276.5" r="1.03"/><circle cx="121.8" cy="272.7" r="1.16"/><circle cx="127.1" cy="274.6" r="1.12"/><circle cx="144.4" cy="273.8" r="0.98"/><circle cx="140.0" cy="268.9" r="1.02"/><circle cx="128.0" cy="267.6" r="1.11"/><circle cx="121.6" cy="276.7" r="1.16"/><circle cx="118.1" cy="271.6" r="1.19"/><circle cx="130.7" cy="276.6" r="1.09"/><circle cx="144.3" cy="274.8" r="0.98"/><circle cx="122.5" cy="273.8" r="1.15"/><circle cx="139.4" cy="279.6" r="1.02"/><circle cx="141.2" cy="275.0" r="1.01"/><circle cx="103.4" cy="275.0" r="1.3"/><circle cx="133.9" cy="275.5" r="1.06"/><circle cx="146.6" cy="279.9" r="0.97"/><circle cx="121.6" cy="271.7" r="1.16"/><circle cx="139.6" cy="277.2" r="1.02"/><circle cx="122.5" cy="268.3" r="1.15"/><circle cx="132.0" cy="278.3" r="1.08"/><circle cx="145.4" cy="273.4" r="0.98"/><circle cx="124.7" cy="280.0" r="1.13"/><circle cx="136.0" cy="274.7" r="1.05"/><circle cx="129.7" cy="269.5" r="1.1"/><circle cx="140.0" cy="272.1" r="1.02"/><circle cx="125.2" cy="274.9" r="1.13"/><circle cx="137.7" cy="280.2" r="1.03"/><circle cx="134.6" cy="279.6" r="1.06"/><circle cx="132.6" cy="269.4" r="1.07"/><circle cx="142.5" cy="280.8" r="1.0"/><circle cx="127.3" cy="269.0" r="1.11"/><circle cx="131.2" cy="269.4" r="1.08"/><circle cx="145.1" cy="273.2" r="0.98"/><circle cx="127.4" cy="268.5" r="1.11"/><circle cx="131.8" cy="273.1" r="1.08"/><circle cx="136.4" cy="273.9" r="1.04"/><circle cx="128.3" cy="271.6" r="1.11"/><circle cx="141.3" cy="272.4" r="1.01"/><circle cx="136.9" cy="277.1" r="1.04"/><circle cx="142.7" cy="267.5" r="1.0"/><circle cx="129.0" cy="273.8" r="1.1"/><circle cx="116.1" cy="274.8" r="1.2"/><circle cx="125.1" cy="279.2" r="1.13"/><circle cx="138.3" cy="278.7" r="1.03"/><circle cx="136.5" cy="278.3" r="1.04"/><circle cx="103.5" cy="269.9" r="1.3"/><circle cx="138.9" cy="280.5" r="1.03"/><circle cx="141.3" cy="275.0" r="1.01"/><circle cx="136.1" cy="270.9" r="1.05"/><circle cx="125.7" cy="268.3" r="1.13"/><circle cx="126.2" cy="270.2" r="1.12"/><circle cx="143.5" cy="267.9" r="0.99"/><circle cx="134.5" cy="270.7" r="1.06"/><circle cx="140.5" cy="271.4" r="1.01"/><circle cx="143.5" cy="268.2" r="0.99"/><circle cx="141.1" cy="278.6" r="1.01"/><circle cx="145.2" cy="274.6" r="0.98"/><circle cx="137.3" cy="273.9" r="1.04"/><circle cx="124.3" cy="277.8" r="1.14"/><circle cx="137.3" cy="279.4" r="1.04"/><circle cx="144.7" cy="269.5" r="0.98"/><circle cx="116.1" cy="280.6" r="1.2"/><circle cx="139.4" cy="270.6" r="1.02"/><circle cx="145.6" cy="280.5" r="0.97"/><circle cx="141.1" cy="274.1" r="1.01"/><circle cx="136.8" cy="279.8" r="1.04"/><circle cx="146.4" cy="272.6" r="0.97"/><circle cx="108.7" cy="277.8" r="1.26"/><circle cx="137.6" cy="275.7" r="1.04"/><circle cx="139.6" cy="279.0" r="1.02"/><circle cx="126.8" cy="279.8" r="1.12"/><circle cx="145.3" cy="279.4" r="0.98"/><circle cx="137.1" cy="277.2" r="1.04"/><circle cx="139.0" cy="280.2" r="1.02"/><circle cx="135.1" cy="278.4" r="1.05"/><circle cx="139.9" cy="270.8" r="1.02"/><circle cx="142.9" cy="278.8" r="0.99"/><circle cx="142.4" cy="272.3" r="1.0"/><circle cx="141.4" cy="278.6" r="1.01"/><circle cx="134.1" cy="276.6" r="1.06"/><circle cx="130.5" cy="276.5" r="1.09"/><circle cx="138.0" cy="275.6" r="1.03"/><circle cx="116.8" cy="270.3" r="1.2"/><circle cx="125.5" cy="268.6" r="1.13"/><circle cx="124.7" cy="272.5" r="1.13"/><circle cx="138.1" cy="270.4" r="1.03"/><circle cx="141.5" cy="267.4" r="1.01"/><circle cx="133.4" cy="268.0" r="1.07"/><circle cx="141.6" cy="271.5" r="1.0"/><circle cx="134.6" cy="271.2" r="1.06"/><circle cx="141.7" cy="267.7" r="1.0"/><circle cx="135.2" cy="274.1" r="1.05"/><circle cx="130.4" cy="280.4" r="1.09"/><circle cx="144.1" cy="272.4" r="0.99"/><circle cx="130.9" cy="271.5" r="1.09"/><circle cx="141.8" cy="273.2" r="1.0"/><circle cx="144.6" cy="277.7" r="0.98"/><circle cx="138.7" cy="273.3" r="1.03"/><circle cx="136.5" cy="278.3" r="1.04"/><circle cx="132.8" cy="275.3" r="1.07"/><circle cx="141.3" cy="273.1" r="1.01"/><circle cx="123.0" cy="275.8" r="1.15"/><circle cx="131.8" cy="274.6" r="1.08"/><circle cx="124.0" cy="278.0" r="1.14"/><circle cx="144.3" cy="278.0" r="0.98"/><circle cx="129.2" cy="274.0" r="1.1"/><circle cx="144.8" cy="277.9" r="0.98"/><circle cx="140.8" cy="278.1" r="1.01"/><circle cx="130.9" cy="279.4" r="1.09"/><circle cx="139.9" cy="273.3" r="1.02"/><circle cx="141.2" cy="274.3" r="1.01"/><circle cx="136.8" cy="278.9" r="1.04"/><circle cx="141.7" cy="271.5" r="1.0"/><circle cx="147.3" cy="274.2" r="0.96"/><circle cx="134.5" cy="269.4" r="1.06"/><circle cx="140.1" cy="278.7" r="1.02"/><circle cx="116.7" cy="275.2" r="1.2"/><circle cx="130.0" cy="273.3" r="1.09"/><circle cx="140.0" cy="280.1" r="1.02"/><circle cx="147.1" cy="280.8" r="0.96"/><circle cx="145.9" cy="277.7" r="0.97"/><circle cx="142.3" cy="274.1" r="1.0"/><circle cx="129.3" cy="269.8" r="1.1"/><circle cx="141.0" cy="268.9" r="1.01"/><circle cx="138.3" cy="268.6" r="1.03"/><circle cx="138.1" cy="274.9" r="1.03"/><circle cx="123.4" cy="272.0" r="1.14"/><circle cx="136.1" cy="277.8" r="1.05"/><circle cx="143.2" cy="280.2" r="0.99"/><circle cx="115.3" cy="271.5" r="1.21"/><circle cx="143.5" cy="267.6" r="0.99"/><circle cx="111.2" cy="280.3" r="1.24"/><circle cx="136.8" cy="268.8" r="1.04"/><circle cx="139.3" cy="280.9" r="1.02"/><circle cx="138.4" cy="268.7" r="1.03"/><circle cx="122.7" cy="277.2" r="1.15"/><circle cx="130.1" cy="271.5" r="1.09"/><circle cx="137.4" cy="273.7" r="1.04"/><circle cx="132.6" cy="271.1" r="1.07"/><circle cx="139.9" cy="280.9" r="1.02"/><circle cx="136.9" cy="274.8" r="1.04"/><circle cx="134.4" cy="273.1" r="1.06"/><circle cx="116.8" cy="277.5" r="1.2"/><circle cx="142.3" cy="269.2" r="1.0"/><circle cx="125.7" cy="274.8" r="1.13"/><circle cx="123.7" cy="276.6" r="1.14"/><circle cx="129.9" cy="280.3" r="1.09"/><circle cx="140.2" cy="274.6" r="1.02"/><circle cx="131.7" cy="277.6" r="1.08"/><circle cx="121.0" cy="274.4" r="1.16"/><circle cx="143.6" cy="276.8" r="0.99"/><circle cx="142.3" cy="272.9" r="1.0"/><circle cx="142.7" cy="272.5" r="1.0"/><circle cx="126.0" cy="280.1" r="1.12"/><circle cx="121.0" cy="277.4" r="1.16"/><circle cx="121.5" cy="273.2" r="1.16"/><circle cx="131.8" cy="277.1" r="1.08"/><circle cx="130.2" cy="280.4" r="1.09"/><circle cx="134.4" cy="274.0" r="1.06"/><circle cx="121.9" cy="270.7" r="1.16"/><circle cx="133.5" cy="276.4" r="1.07"/><circle cx="135.7" cy="272.7" r="1.05"/><circle cx="138.9" cy="277.6" r="1.03"/><circle cx="136.5" cy="269.1" r="1.04"/><circle cx="138.9" cy="273.7" r="1.03"/><circle cx="130.1" cy="276.0" r="1.09"/><circle cx="126.6" cy="273.8" r="1.12"/><circle cx="128.9" cy="272.0" r="1.1"/><circle cx="137.9" cy="267.5" r="1.03"/><circle cx="139.8" cy="276.0" r="1.02"/><circle cx="140.9" cy="274.9" r="1.01"/><circle cx="134.6" cy="271.6" r="1.06"/><circle cx="139.7" cy="280.7" r="1.02"/><circle cx="138.8" cy="276.3" r="1.03"/><circle cx="123.4" cy="268.1" r="1.14"/><circle cx="134.3" cy="276.9" r="1.06"/><circle cx="124.9" cy="276.5" r="1.13"/><circle cx="138.9" cy="275.4" r="1.03"/><circle cx="134.9" cy="270.7" r="1.06"/><circle cx="134.4" cy="272.4" r="1.06"/><circle cx="143.3" cy="278.6" r="0.99"/><circle cx="117.8" cy="270.9" r="1.19"/><circle cx="144.3" cy="271.1" r="0.98"/><circle cx="139.5" cy="279.3" r="1.02"/><circle cx="121.3" cy="280.5" r="1.16"/><circle cx="144.4" cy="277.1" r="0.98"/><circle cx="125.4" cy="280.6" r="1.13"/><circle cx="136.2" cy="277.3" r="1.05"/><circle cx="136.1" cy="276.8" r="1.05"/><circle cx="144.7" cy="271.0" r="0.98"/><circle cx="132.7" cy="277.6" r="1.07"/><circle cx="126.7" cy="271.3" r="1.12"/><circle cx="121.6" cy="270.2" r="1.16"/><circle cx="138.1" cy="280.1" r="1.03"/><circle cx="125.0" cy="268.9" r="1.13"/><circle cx="150.4" cy="280.1" r="0.94"/><circle cx="117.2" cy="279.7" r="1.19"/><circle cx="121.7" cy="268.0" r="1.16"/><circle cx="130.0" cy="274.9" r="1.09"/><circle cx="136.5" cy="271.7" r="1.04"/><circle cx="122.3" cy="269.2" r="1.15"/><circle cx="133.2" cy="278.8" r="1.07"/><circle cx="138.3" cy="278.6" r="1.03"/><circle cx="141.8" cy="277.9" r="1.0"/><circle cx="136.7" cy="274.6" r="1.04"/><circle cx="137.0" cy="280.2" r="1.04"/><circle cx="135.7" cy="279.3" r="1.05"/><circle cx="141.9" cy="272.0" r="1.0"/><circle cx="139.8" cy="280.7" r="1.02"/><circle cx="120.5" cy="270.6" r="1.17"/><circle cx="126.5" cy="275.4" r="1.12"/><circle cx="126.4" cy="269.1" r="1.12"/><circle cx="132.2" cy="280.4" r="1.08"/><circle cx="139.0" cy="268.2" r="1.02"/><circle cx="140.6" cy="278.8" r="1.01"/><circle cx="136.5" cy="268.8" r="1.04"/><circle cx="131.4" cy="274.6" r="1.08"/><circle cx="134.1" cy="276.0" r="1.06"/><circle cx="136.8" cy="270.5" r="1.04"/><circle cx="118.1" cy="268.9" r="1.19"/><circle cx="129.1" cy="271.1" r="1.1"/><circle cx="126.8" cy="270.7" r="1.12"/><circle cx="140.6" cy="272.2" r="1.01"/><circle cx="138.6" cy="273.0" r="1.03"/><circle cx="133.2" cy="273.6" r="1.07"/><circle cx="141.4" cy="273.8" r="1.01"/><circle cx="119.1" cy="268.9" r="1.18"/><circle cx="141.2" cy="274.1" r="1.01"/><circle cx="126.1" cy="270.9" r="1.12"/><circle cx="129.3" cy="276.9" r="1.1"/><circle cx="143.3" cy="271.4" r="0.99"/><circle cx="120.5" cy="272.9" r="1.17"/><circle cx="128.3" cy="269.2" r="1.11"/><circle cx="131.8" cy="271.9" r="1.08"/><circle cx="138.7" cy="274.8" r="1.03"/><circle cx="130.8" cy="271.2" r="1.09"/><circle cx="137.1" cy="278.2" r="1.04"/><circle cx="136.2" cy="277.7" r="1.05"/><circle cx="119.4" cy="275.4" r="1.18"/><circle cx="139.2" cy="268.4" r="1.02"/><circle cx="143.2" cy="268.6" r="0.99"/><circle cx="123.2" cy="269.2" r="1.15"/><circle cx="133.0" cy="272.1" r="1.07"/><circle cx="129.1" cy="271.1" r="1.1"/><circle cx="138.0" cy="274.2" r="1.03"/><circle cx="132.9" cy="268.7" r="1.07"/><circle cx="132.8" cy="275.2" r="1.07"/><circle cx="126.7" cy="278.6" r="1.12"/><circle cx="132.8" cy="272.3" r="1.07"/><circle cx="129.9" cy="272.2" r="1.09"/><circle cx="140.3" cy="277.2" r="1.01"/><circle cx="120.0" cy="268.7" r="1.17"/><circle cx="132.4" cy="279.1" r="1.08"/><circle cx="118.4" cy="270.6" r="1.18"/><circle cx="122.3" cy="277.0" r="1.15"/><circle cx="142.0" cy="268.3" r="1.0"/><circle cx="144.2" cy="278.2" r="0.98"/><circle cx="138.8" cy="271.8" r="1.03"/><circle cx="140.9" cy="273.4" r="1.01"/><circle cx="111.6" cy="273.7" r="1.24"/><circle cx="137.8" cy="269.8" r="1.03"/><circle cx="134.6" cy="272.4" r="1.06"/><circle cx="132.6" cy="267.7" r="1.07"/><circle cx="131.4" cy="278.4" r="1.08"/><circle cx="141.3" cy="279.8" r="1.01"/><circle cx="134.4" cy="268.9" r="1.06"/><circle cx="125.3" cy="268.8" r="1.13"/><circle cx="141.5" cy="274.9" r="1.01"/><circle cx="137.8" cy="258.3" r="1.03"/><circle cx="134.7" cy="259.9" r="1.06"/><circle cx="143.0" cy="257.7" r="0.99"/><circle cx="139.0" cy="262.9" r="1.02"/><circle cx="134.8" cy="254.7" r="1.06"/><circle cx="140.8" cy="266.8" r="1.01"/><circle cx="134.3" cy="262.0" r="1.06"/><circle cx="135.0" cy="256.0" r="1.06"/><circle cx="142.2" cy="257.8" r="1.0"/><circle cx="135.3" cy="266.5" r="1.05"/><circle cx="140.5" cy="255.9" r="1.01"/><circle cx="138.6" cy="254.3" r="1.03"/><circle cx="140.5" cy="262.4" r="1.01"/><circle cx="135.0" cy="261.8" r="1.06"/><circle cx="133.6" cy="258.4" r="1.07"/><circle cx="143.4" cy="255.3" r="0.99"/><circle cx="142.1" cy="266.6" r="1.0"/><circle cx="140.1" cy="263.3" r="1.02"/><circle cx="133.1" cy="258.5" r="1.07"/><circle cx="137.2" cy="259.6" r="1.04"/><circle cx="135.5" cy="254.2" r="1.05"/><circle cx="133.4" cy="264.3" r="1.07"/><circle cx="144.8" cy="263.7" r="0.98"/><circle cx="136.1" cy="265.5" r="1.05"/><circle cx="134.2" cy="258.7" r="1.06"/><circle cx="139.5" cy="254.2" r="1.02"/><circle cx="133.3" cy="254.0" r="1.07"/><circle cx="138.9" cy="262.7" r="1.03"/><circle cx="136.2" cy="255.1" r="1.05"/><circle cx="133.2" cy="260.3" r="1.07"/><circle cx="136.2" cy="255.9" r="1.05"/><circle cx="139.9" cy="264.8" r="1.02"/><circle cx="137.1" cy="260.0" r="1.04"/><circle cx="134.3" cy="255.8" r="1.06"/><circle cx="137.5" cy="262.0" r="1.04"/><circle cx="145.7" cy="259.7" r="0.97"/><circle cx="137.1" cy="262.2" r="1.04"/><circle cx="142.3" cy="263.5" r="1.0"/><circle cx="133.7" cy="256.7" r="1.07"/><circle cx="142.4" cy="260.3" r="1.0"/><circle cx="147.3" cy="265.4" r="0.96"/><circle cx="134.2" cy="259.4" r="1.06"/><circle cx="138.1" cy="264.1" r="1.03"/><circle cx="145.7" cy="260.9" r="0.97"/><circle cx="140.3" cy="258.5" r="1.01"/><circle cx="134.8" cy="255.1" r="1.06"/><circle cx="138.1" cy="263.7" r="1.03"/><circle cx="136.1" cy="266.9" r="1.05"/><circle cx="136.4" cy="256.3" r="1.04"/><circle cx="138.8" cy="259.8" r="1.03"/><circle cx="135.8" cy="260.5" r="1.05"/><circle cx="133.2" cy="265.1" r="1.07"/><circle cx="134.3" cy="263.3" r="1.06"/><circle cx="134.6" cy="264.6" r="1.06"/><circle cx="139.7" cy="267.2" r="1.02"/><circle cx="135.1" cy="259.2" r="1.05"/><circle cx="137.0" cy="261.0" r="1.04"/><circle cx="135.5" cy="261.4" r="1.05"/><circle cx="138.8" cy="257.6" r="1.03"/><circle cx="138.3" cy="266.5" r="1.03"/><circle cx="139.1" cy="263.7" r="1.02"/><circle cx="133.7" cy="258.5" r="1.07"/><circle cx="142.8" cy="253.8" r="1.0"/><circle cx="142.9" cy="258.9" r="0.99"/><circle cx="139.4" cy="266.3" r="1.02"/><circle cx="139.3" cy="257.8" r="1.02"/><circle cx="143.9" cy="260.7" r="0.99"/><circle cx="146.4" cy="262.0" r="0.97"/><circle cx="142.3" cy="260.3" r="1.0"/><circle cx="142.2" cy="262.5" r="1.0"/><circle cx="140.8" cy="261.5" r="1.01"/><circle cx="142.6" cy="266.6" r="1.0"/><circle cx="147.6" cy="266.8" r="0.96"/><circle cx="135.0" cy="258.0" r="1.06"/><circle cx="145.0" cy="256.4" r="0.98"/><circle cx="134.5" cy="259.1" r="1.06"/><circle cx="137.6" cy="264.4" r="1.04"/><circle cx="135.3" cy="263.0" r="1.05"/><circle cx="140.1" cy="266.3" r="1.02"/><circle cx="136.0" cy="261.6" r="1.05"/><circle cx="137.7" cy="265.3" r="1.03"/><circle cx="137.8" cy="263.2" r="1.03"/><circle cx="141.3" cy="264.1" r="1.01"/><circle cx="135.0" cy="265.7" r="1.06"/><circle cx="137.9" cy="261.7" r="1.03"/><circle cx="135.3" cy="260.0" r="1.05"/><circle cx="138.1" cy="257.1" r="1.03"/><circle cx="135.0" cy="264.8" r="1.06"/><circle cx="134.5" cy="261.0" r="1.06"/><circle cx="134.6" cy="261.5" r="1.06"/><circle cx="137.2" cy="257.2" r="1.04"/><circle cx="139.0" cy="267.0" r="1.02"/><circle cx="136.7" cy="263.3" r="1.04"/><circle cx="139.1" cy="253.9" r="1.02"/><circle cx="141.2" cy="267.3" r="1.01"/><circle cx="133.1" cy="250.9" r="1.07"/><circle cx="144.2" cy="241.2" r="0.98"/><circle cx="137.3" cy="240.1" r="1.04"/><circle cx="133.4" cy="250.3" r="1.07"/><circle cx="139.6" cy="246.4" r="1.02"/><circle cx="133.9" cy="247.3" r="1.06"/><circle cx="137.1" cy="250.2" r="1.04"/><circle cx="135.6" cy="243.9" r="1.05"/><circle cx="138.6" cy="250.1" r="1.03"/><circle cx="136.6" cy="250.2" r="1.04"/><circle cx="137.8" cy="249.4" r="1.03"/><circle cx="133.9" cy="240.1" r="1.06"/><circle cx="133.3" cy="236.0" r="1.07"/><circle cx="135.4" cy="245.7" r="1.05"/><circle cx="135.2" cy="237.3" r="1.05"/><circle cx="134.7" cy="240.6" r="1.06"/><circle cx="141.3" cy="243.0" r="1.01"/><circle cx="136.4" cy="244.1" r="1.04"/><circle cx="141.5" cy="251.6" r="1.01"/><circle cx="133.5" cy="240.0" r="1.07"/><circle cx="141.0" cy="239.4" r="1.01"/><circle cx="134.4" cy="236.6" r="1.06"/><circle cx="139.4" cy="245.6" r="1.02"/><circle cx="137.6" cy="253.3" r="1.04"/><circle cx="134.0" cy="239.9" r="1.06"/><circle cx="137.6" cy="250.8" r="1.04"/><circle cx="133.8" cy="237.5" r="1.06"/><circle cx="139.8" cy="250.7" r="1.02"/><circle cx="137.6" cy="251.1" r="1.04"/><circle cx="138.2" cy="244.1" r="1.03"/><circle cx="139.3" cy="252.7" r="1.02"/><circle cx="138.6" cy="241.8" r="1.03"/><circle cx="137.3" cy="250.5" r="1.04"/><circle cx="133.5" cy="253.7" r="1.07"/><circle cx="133.9" cy="246.3" r="1.06"/><circle cx="138.6" cy="246.4" r="1.03"/><circle cx="135.6" cy="246.8" r="1.05"/><circle cx="136.3" cy="242.0" r="1.05"/><circle cx="135.1" cy="249.8" r="1.05"/><circle cx="135.9" cy="249.2" r="1.05"/><circle cx="136.6" cy="245.8" r="1.04"/><circle cx="138.2" cy="242.2" r="1.03"/><circle cx="135.4" cy="247.6" r="1.05"/><circle cx="133.8" cy="250.7" r="1.06"/><circle cx="133.1" cy="248.9" r="1.07"/><circle cx="133.4" cy="244.9" r="1.07"/><circle cx="133.5" cy="239.7" r="1.07"/><circle cx="136.3" cy="243.7" r="1.05"/><circle cx="142.6" cy="250.7" r="1.0"/><circle cx="141.4" cy="250.3" r="1.01"/><circle cx="138.8" cy="252.4" r="1.03"/><circle cx="135.6" cy="236.9" r="1.05"/><circle cx="138.1" cy="248.8" r="1.03"/><circle cx="142.7" cy="253.4" r="1.0"/><circle cx="137.1" cy="240.3" r="1.04"/><circle cx="140.7" cy="253.1" r="1.01"/><circle cx="138.4" cy="244.9" r="1.03"/><circle cx="141.2" cy="238.3" r="1.01"/><circle cx="135.6" cy="250.1" r="1.05"/><circle cx="141.3" cy="221.5" r="1.01"/><circle cx="135.8" cy="221.4" r="1.05"/><circle cx="134.7" cy="228.7" r="1.06"/><circle cx="139.9" cy="214.2" r="1.02"/><circle cx="133.7" cy="222.8" r="1.07"/><circle cx="134.1" cy="223.0" r="1.06"/><circle cx="136.0" cy="215.7" r="1.05"/><circle cx="133.8" cy="228.5" r="1.06"/><circle cx="133.2" cy="227.8" r="1.07"/><circle cx="138.6" cy="226.5" r="1.03"/><circle cx="135.8" cy="213.4" r="1.05"/><circle cx="137.2" cy="222.1" r="1.04"/><circle cx="136.4" cy="220.8" r="1.04"/><circle cx="139.1" cy="232.2" r="1.02"/><circle cx="137.1" cy="220.7" r="1.04"/><circle cx="133.6" cy="234.3" r="1.07"/><circle cx="137.3" cy="226.6" r="1.04"/><circle cx="136.7" cy="216.9" r="1.04"/><circle cx="138.5" cy="213.9" r="1.03"/><circle cx="140.1" cy="223.8" r="1.02"/><circle cx="134.3" cy="232.5" r="1.06"/><circle cx="134.5" cy="235.5" r="1.06"/><circle cx="136.5" cy="229.2" r="1.04"/><circle cx="140.1" cy="222.4" r="1.02"/><circle cx="133.8" cy="231.7" r="1.06"/><circle cx="133.9" cy="228.8" r="1.06"/><circle cx="140.7" cy="233.7" r="1.01"/><circle cx="137.5" cy="217.9" r="1.04"/><circle cx="134.2" cy="235.0" r="1.06"/><circle cx="133.6" cy="222.6" r="1.07"/><circle cx="139.2" cy="218.6" r="1.02"/><circle cx="138.6" cy="229.1" r="1.03"/><circle cx="136.3" cy="216.9" r="1.05"/><circle cx="134.1" cy="218.6" r="1.06"/><circle cx="140.0" cy="215.6" r="1.02"/><circle cx="139.8" cy="213.9" r="1.02"/><circle cx="136.4" cy="214.2" r="1.04"/><circle cx="139.6" cy="215.7" r="1.02"/><circle cx="136.7" cy="220.2" r="1.04"/><circle cx="133.6" cy="223.4" r="1.07"/><circle cx="135.6" cy="226.4" r="1.05"/><circle cx="134.6" cy="233.3" r="1.06"/><circle cx="134.0" cy="212.6" r="1.06"/><circle cx="138.3" cy="201.7" r="1.03"/><circle cx="133.3" cy="200.3" r="1.07"/><circle cx="137.0" cy="199.1" r="1.04"/><circle cx="136.2" cy="211.3" r="1.05"/><circle cx="135.0" cy="208.5" r="1.06"/><circle cx="136.9" cy="198.0" r="1.04"/><circle cx="136.9" cy="197.7" r="1.04"/><circle cx="135.0" cy="199.6" r="1.06"/><circle cx="134.8" cy="202.7" r="1.06"/><circle cx="136.2" cy="186.6" r="1.05"/><circle cx="136.0" cy="187.0" r="1.05"/><circle cx="111.9" cy="279.0" r="1.23"/><circle cx="110.1" cy="288.8" r="1.25"/><circle cx="113.0" cy="275.2" r="1.22"/><circle cx="110.7" cy="307.8" r="1.24"/><circle cx="93.1" cy="277.6" r="1.38"/><circle cx="112.2" cy="293.6" r="1.23"/><circle cx="109.2" cy="304.9" r="1.25"/><circle cx="97.5" cy="279.2" r="1.34"/><circle cx="97.4" cy="304.9" r="1.34"/><circle cx="110.6" cy="282.6" r="1.24"/><circle cx="118.9" cy="279.0" r="1.18"/><circle cx="111.5" cy="312.8" r="1.24"/><circle cx="111.4" cy="272.2" r="1.24"/><circle cx="110.8" cy="298.6" r="1.24"/><circle cx="118.5" cy="295.8" r="1.18"/><circle cx="119.0" cy="312.3" r="1.18"/><circle cx="102.1" cy="277.3" r="1.31"/><circle cx="109.7" cy="271.0" r="1.25"/><circle cx="106.5" cy="291.4" r="1.27"/><circle cx="107.1" cy="273.2" r="1.27"/><circle cx="106.2" cy="294.7" r="1.28"/><circle cx="112.9" cy="290.4" r="1.23"/><circle cx="159.2" cy="318.4" r="0.89"/><circle cx="161.7" cy="326.1" r="0.91"/><circle cx="163.3" cy="320.5" r="0.92"/><circle cx="163.8" cy="314.9" r="0.93"/><circle cx="161.1" cy="313.2" r="0.91"/><circle cx="163.7" cy="323.4" r="0.93"/><circle cx="163.2" cy="325.9" r="0.92"/><circle cx="162.2" cy="318.7" r="0.91"/><circle cx="162.3" cy="315.3" r="0.91"/><circle cx="159.6" cy="325.5" r="0.89"/><circle cx="162.4" cy="316.3" r="0.92"/><circle cx="167.8" cy="318.9" r="0.96"/><circle cx="163.4" cy="315.3" r="0.92"/><circle cx="165.1" cy="314.4" r="0.94"/><circle cx="159.3" cy="324.9" r="0.89"/><circle cx="162.5" cy="313.7" r="0.92"/><circle cx="160.2" cy="323.9" r="0.9"/><circle cx="160.6" cy="320.3" r="0.9"/><circle cx="162.6" cy="321.6" r="0.92"/><circle cx="165.8" cy="320.5" r="0.94"/><circle cx="163.0" cy="316.6" r="0.92"/><circle cx="161.8" cy="313.8" r="0.91"/><circle cx="162.0" cy="313.4" r="0.91"/><circle cx="161.0" cy="323.0" r="0.9"/><circle cx="161.2" cy="325.1" r="0.91"/><circle cx="166.9" cy="305.3" r="0.95"/><circle cx="166.8" cy="311.5" r="0.95"/><circle cx="162.3" cy="309.4" r="0.91"/><circle cx="160.0" cy="312.6" r="0.9"/><circle cx="162.2" cy="301.2" r="0.91"/><circle cx="163.7" cy="304.4" r="0.93"/><circle cx="163.5" cy="307.5" r="0.92"/><circle cx="169.0" cy="299.4" r="0.97"/><circle cx="173.1" cy="304.1" r="1.0"/><circle cx="161.8" cy="303.6" r="0.91"/><circle cx="165.2" cy="302.2" r="0.94"/><circle cx="164.4" cy="303.0" r="0.93"/><circle cx="163.8" cy="306.9" r="0.93"/><circle cx="167.4" cy="309.4" r="0.95"/><circle cx="165.8" cy="307.5" r="0.94"/><circle cx="163.4" cy="299.3" r="0.92"/><circle cx="172.3" cy="310.8" r="0.99"/><circle cx="163.6" cy="305.4" r="0.92"/><circle cx="163.5" cy="311.5" r="0.92"/><circle cx="164.7" cy="305.1" r="0.93"/><circle cx="162.7" cy="310.2" r="0.92"/><circle cx="162.1" cy="301.7" r="0.91"/><circle cx="161.2" cy="305.5" r="0.91"/><circle cx="162.5" cy="309.5" r="0.92"/><circle cx="164.9" cy="301.2" r="0.93"/><circle cx="167.1" cy="312.8" r="0.95"/><circle cx="163.9" cy="311.7" r="0.93"/><circle cx="163.7" cy="308.3" r="0.93"/><circle cx="161.7" cy="303.6" r="0.91"/><circle cx="164.6" cy="309.3" r="0.93"/><circle cx="163.9" cy="304.4" r="0.93"/><circle cx="161.6" cy="310.0" r="0.91"/><circle cx="167.1" cy="299.1" r="0.95"/><circle cx="165.2" cy="286.0" r="0.94"/><circle cx="161.0" cy="299.2" r="0.9"/><circle cx="165.6" cy="289.8" r="0.94"/><circle cx="163.6" cy="298.2" r="0.92"/><circle cx="164.1" cy="289.8" r="0.93"/><circle cx="170.2" cy="286.7" r="0.98"/><circle cx="170.1" cy="287.5" r="0.97"/><circle cx="174.3" cy="298.9" r="1.01"/><circle cx="174.8" cy="295.2" r="1.01"/><circle cx="165.9" cy="296.6" r="0.94"/><circle cx="165.6" cy="292.4" r="0.94"/><circle cx="170.8" cy="288.9" r="0.98"/><circle cx="162.9" cy="295.9" r="0.92"/><circle cx="164.1" cy="286.7" r="0.93"/><circle cx="172.2" cy="296.7" r="0.99"/><circle cx="172.1" cy="294.3" r="0.99"/><circle cx="166.7" cy="288.5" r="0.95"/><circle cx="169.7" cy="286.8" r="0.97"/><circle cx="199.3" cy="288.8" r="1.2"/><circle cx="164.2" cy="296.7" r="0.93"/><circle cx="165.6" cy="298.3" r="0.94"/><circle cx="171.5" cy="288.5" r="0.99"/><circle cx="168.2" cy="289.7" r="0.96"/><circle cx="175.2" cy="294.1" r="1.01"/><circle cx="169.1" cy="286.3" r="0.97"/><circle cx="165.1" cy="291.7" r="0.94"/><circle cx="176.6" cy="296.9" r="1.02"/><circle cx="161.6" cy="289.2" r="0.91"/><circle cx="169.3" cy="288.7" r="0.97"/><circle cx="172.8" cy="285.6" r="1.0"/><circle cx="168.2" cy="294.3" r="0.96"/><circle cx="163.7" cy="287.4" r="0.93"/><circle cx="175.7" cy="286.2" r="1.02"/><circle cx="161.2" cy="294.3" r="0.91"/><circle cx="169.2" cy="283.1" r="0.97"/><circle cx="162.5" cy="277.9" r="0.92"/><circle cx="163.6" cy="278.7" r="0.92"/><circle cx="161.9" cy="283.3" r="0.91"/><circle cx="173.3" cy="270.8" r="1.0"/><circle cx="164.6" cy="271.0" r="0.93"/><circle cx="173.7" cy="275.0" r="1.0"/><circle cx="165.8" cy="269.7" r="0.94"/><circle cx="181.1" cy="268.4" r="1.06"/><circle cx="174.0" cy="267.8" r="1.0"/><circle cx="175.5" cy="278.9" r="1.02"/><circle cx="170.7" cy="274.9" r="0.98"/><circle cx="169.3" cy="280.9" r="0.97"/><circle cx="168.6" cy="280.2" r="0.96"/><circle cx="170.8" cy="270.8" r="0.98"/><circle cx="172.6" cy="280.0" r="0.99"/><circle cx="167.7" cy="282.0" r="0.96"/><circle cx="162.2" cy="281.4" r="0.91"/><circle cx="174.8" cy="270.0" r="1.01"/><circle cx="165.8" cy="278.3" r="0.94"/><circle cx="169.6" cy="269.5" r="0.97"/><circle cx="183.0" cy="268.3" r="1.07"/><circle cx="169.9" cy="275.2" r="0.97"/><circle cx="178.8" cy="275.1" r="1.04"/><circle cx="169.8" cy="276.8" r="0.97"/><circle cx="172.0" cy="270.4" r="0.99"/><circle cx="166.4" cy="285.5" r="0.95"/><circle cx="165.7" cy="280.0" r="0.94"/><circle cx="165.5" cy="284.6" r="0.94"/><circle cx="167.1" cy="282.9" r="0.95"/><circle cx="166.8" cy="275.8" r="0.95"/><circle cx="172.2" cy="281.0" r="0.99"/><circle cx="168.9" cy="277.7" r="0.97"/><circle cx="161.6" cy="276.2" r="0.91"/><circle cx="172.8" cy="279.6" r="1.0"/><circle cx="179.2" cy="281.9" r="1.04"/><circle cx="164.6" cy="282.6" r="0.93"/><circle cx="165.5" cy="284.5" r="0.94"/><circle cx="172.3" cy="285.5" r="0.99"/><circle cx="170.9" cy="270.4" r="0.98"/><circle cx="167.6" cy="270.8" r="0.96"/><circle cx="189.5" cy="277.7" r="1.12"/><circle cx="172.5" cy="254.0" r="0.99"/><circle cx="169.2" cy="263.2" r="0.97"/><circle cx="172.4" cy="248.0" r="0.99"/><circle cx="182.4" cy="260.0" r="1.07"/><circle cx="169.1" cy="265.5" r="0.97"/><circle cx="173.4" cy="260.9" r="1.0"/><circle cx="169.5" cy="262.5" r="0.97"/><circle cx="173.0" cy="267.2" r="1.0"/><circle cx="168.6" cy="255.2" r="0.96"/><circle cx="176.3" cy="248.4" r="1.02"/><circle cx="179.2" cy="249.7" r="1.04"/><circle cx="167.6" cy="246.3" r="0.96"/><circle cx="166.8" cy="248.2" r="0.95"/><circle cx="177.6" cy="262.7" r="1.03"/><circle cx="179.3" cy="265.7" r="1.05"/><circle cx="172.0" cy="261.3" r="0.99"/><circle cx="171.6" cy="258.9" r="0.99"/><circle cx="171.3" cy="251.8" r="0.98"/><circle cx="180.4" cy="258.6" r="1.05"/><circle cx="174.5" cy="250.3" r="1.01"/><circle cx="169.0" cy="263.8" r="0.97"/><circle cx="163.8" cy="262.3" r="0.93"/><circle cx="173.1" cy="246.4" r="1.0"/><circle cx="179.5" cy="251.9" r="1.05"/><circle cx="165.9" cy="263.5" r="0.94"/><circle cx="176.3" cy="260.3" r="1.02"/><circle cx="174.4" cy="241.6" r="1.01"/><circle cx="167.0" cy="236.6" r="0.95"/><circle cx="176.2" cy="231.6" r="1.02"/><circle cx="176.6" cy="220.4" r="1.02"/><circle cx="168.1" cy="230.1" r="0.96"/><circle cx="180.0" cy="232.2" r="1.05"/><circle cx="167.3" cy="243.4" r="0.95"/><circle cx="178.6" cy="224.2" r="1.04"/><circle cx="169.0" cy="238.8" r="0.97"/><circle cx="167.3" cy="237.3" r="0.95"/><circle cx="165.2" cy="210.4" r="0.94"/><circle cx="168.2" cy="235.5" r="0.96"/><circle cx="172.2" cy="221.6" r="0.99"/><circle cx="173.2" cy="239.9" r="1.0"/><circle cx="209.5" cy="283.0" r="1.3"/><circle cx="184.7" cy="276.9" r="1.05"/><circle cx="187.7" cy="274.6" r="1.05"/><circle cx="191.5" cy="275.9" r="1.1"/><circle cx="185.4" cy="285.8" r="1.05"/><circle cx="186.0" cy="291.5" r="1.05"/><circle cx="191.1" cy="289.6" r="1.1"/><circle cx="184.7" cy="295.4" r="1.05"/><circle cx="187.3" cy="267.4" r="1.05"/><circle cx="406.1" cy="324.2" r="0.92"/><circle cx="410.5" cy="324.8" r="0.88"/><circle cx="409.7" cy="319.6" r="0.89"/><circle cx="409.2" cy="317.7" r="0.9"/><circle cx="407.9" cy="316.7" r="0.91"/><circle cx="407.6" cy="316.1" r="0.91"/><circle cx="396.0" cy="312.4" r="1.02"/><circle cx="410.2" cy="321.6" r="0.89"/><circle cx="408.1" cy="315.4" r="0.91"/><circle cx="408.9" cy="319.4" r="0.9"/><circle cx="409.3" cy="322.5" r="0.9"/><circle cx="409.3" cy="318.1" r="0.9"/><circle cx="410.2" cy="318.0" r="0.89"/><circle cx="410.2" cy="323.9" r="0.89"/><circle cx="408.7" cy="316.2" r="0.9"/><circle cx="407.2" cy="313.2" r="0.91"/><circle cx="409.5" cy="320.8" r="0.89"/><circle cx="409.9" cy="323.8" r="0.89"/><circle cx="403.1" cy="314.5" r="0.95"/><circle cx="404.1" cy="312.7" r="0.94"/><circle cx="407.9" cy="322.3" r="0.91"/><circle cx="409.1" cy="324.0" r="0.9"/><circle cx="405.7" cy="312.4" r="0.93"/><circle cx="409.3" cy="324.8" r="0.9"/><circle cx="407.9" cy="312.4" r="0.91"/><circle cx="409.9" cy="325.2" r="0.89"/><circle cx="408.9" cy="319.8" r="0.9"/><circle cx="400.0" cy="315.1" r="0.98"/><circle cx="402.8" cy="309.2" r="0.95"/><circle cx="406.6" cy="310.4" r="0.92"/><circle cx="405.2" cy="309.4" r="0.93"/><circle cx="395.1" cy="306.7" r="1.02"/><circle cx="398.9" cy="300.6" r="0.99"/><circle cx="407.8" cy="306.2" r="0.91"/><circle cx="398.1" cy="305.8" r="1.0"/><circle cx="405.6" cy="306.8" r="0.93"/><circle cx="399.8" cy="310.3" r="0.98"/><circle cx="407.3" cy="303.6" r="0.91"/><circle cx="407.7" cy="302.2" r="0.91"/><circle cx="400.1" cy="309.7" r="0.98"/><circle cx="408.7" cy="312.3" r="0.9"/><circle cx="408.4" cy="304.9" r="0.9"/><circle cx="405.4" cy="305.4" r="0.93"/><circle cx="404.5" cy="305.1" r="0.94"/><circle cx="396.5" cy="301.2" r="1.01"/><circle cx="404.0" cy="305.6" r="0.94"/><circle cx="406.0" cy="307.2" r="0.93"/><circle cx="406.0" cy="304.4" r="0.93"/><circle cx="403.1" cy="305.9" r="0.95"/><circle cx="408.0" cy="303.5" r="0.91"/><circle cx="402.2" cy="308.6" r="0.96"/><circle cx="405.8" cy="304.4" r="0.93"/><circle cx="400.7" cy="308.0" r="0.97"/><circle cx="408.1" cy="304.9" r="0.91"/><circle cx="395.3" cy="300.3" r="1.02"/><circle cx="407.4" cy="308.9" r="0.91"/><circle cx="405.5" cy="308.2" r="0.93"/><circle cx="403.9" cy="311.0" r="0.94"/><circle cx="407.8" cy="302.5" r="0.91"/><circle cx="401.3" cy="312.2" r="0.97"/><circle cx="391.9" cy="308.4" r="1.05"/><circle cx="404.3" cy="299.5" r="0.94"/><circle cx="391.4" cy="299.8" r="1.06"/><circle cx="406.1" cy="299.8" r="0.92"/><circle cx="409.1" cy="310.5" r="0.9"/><circle cx="400.8" cy="302.2" r="0.97"/><circle cx="400.4" cy="304.8" r="0.98"/><circle cx="387.7" cy="305.8" r="1.09"/><circle cx="360.1" cy="304.0" r="1.34"/><circle cx="406.5" cy="312.0" r="0.92"/><circle cx="405.5" cy="299.6" r="0.93"/><circle cx="406.7" cy="304.0" r="0.92"/><circle cx="391.6" cy="306.2" r="1.06"/><circle cx="408.5" cy="312.2" r="0.9"/><circle cx="407.3" cy="306.8" r="0.91"/><circle cx="395.9" cy="308.2" r="1.02"/><circle cx="398.7" cy="307.8" r="0.99"/><circle cx="406.9" cy="308.0" r="0.92"/><circle cx="403.4" cy="309.3" r="0.95"/><circle cx="406.2" cy="309.8" r="0.92"/><circle cx="396.0" cy="302.7" r="1.02"/><circle cx="407.6" cy="311.5" r="0.91"/><circle cx="396.1" cy="312.1" r="1.02"/><circle cx="393.7" cy="288.0" r="1.04"/><circle cx="400.8" cy="290.1" r="0.97"/><circle cx="397.9" cy="294.9" r="1.0"/><circle cx="392.5" cy="293.1" r="1.05"/><circle cx="374.3" cy="287.2" r="1.21"/><circle cx="403.6" cy="292.7" r="0.95"/><circle cx="397.0" cy="292.8" r="1.01"/><circle cx="400.0" cy="287.8" r="0.98"/><circle cx="401.9" cy="287.4" r="0.96"/><circle cx="397.8" cy="289.6" r="1.0"/><circle cx="406.7" cy="294.0" r="0.92"/><circle cx="396.2" cy="291.5" r="1.01"/><circle cx="346.6" cy="288.8" r="1.46"/><circle cx="405.3" cy="293.2" r="0.93"/><circle cx="407.5" cy="295.3" r="0.91"/><circle cx="383.6" cy="291.9" r="1.13"/><circle cx="405.1" cy="298.4" r="0.93"/><circle cx="390.9" cy="296.8" r="1.06"/><circle cx="396.8" cy="298.6" r="1.01"/><circle cx="392.3" cy="289.8" r="1.05"/><circle cx="400.0" cy="298.7" r="0.98"/><circle cx="400.2" cy="298.9" r="0.98"/><circle cx="399.3" cy="294.6" r="0.99"/><circle cx="387.0" cy="288.5" r="1.1"/><circle cx="405.1" cy="299.2" r="0.93"/><circle cx="402.2" cy="288.4" r="0.96"/><circle cx="405.4" cy="290.4" r="0.93"/><circle cx="401.8" cy="289.6" r="0.96"/><circle cx="402.2" cy="291.3" r="0.96"/><circle cx="400.1" cy="297.9" r="0.98"/><circle cx="358.4" cy="287.3" r="1.36"/><circle cx="397.0" cy="297.3" r="1.01"/><circle cx="384.6" cy="292.1" r="1.12"/><circle cx="367.0" cy="288.0" r="1.28"/><circle cx="354.9" cy="293.1" r="1.39"/><circle cx="405.6" cy="298.7" r="0.93"/><circle cx="397.9" cy="294.2" r="1.0"/><circle cx="378.7" cy="287.8" r="1.17"/><circle cx="393.6" cy="292.3" r="1.04"/><circle cx="406.0" cy="294.8" r="0.93"/><circle cx="395.7" cy="293.4" r="1.02"/><circle cx="402.6" cy="298.2" r="0.96"/><circle cx="398.5" cy="294.9" r="0.99"/><circle cx="393.0" cy="289.7" r="1.04"/><circle cx="392.3" cy="297.0" r="1.05"/><circle cx="404.4" cy="299.1" r="0.94"/><circle cx="396.2" cy="289.9" r="1.01"/><circle cx="390.6" cy="298.5" r="1.06"/><circle cx="381.0" cy="291.4" r="1.15"/><circle cx="384.5" cy="295.7" r="1.12"/><circle cx="366.9" cy="291.4" r="1.28"/><circle cx="389.2" cy="293.2" r="1.08"/><circle cx="385.8" cy="291.4" r="1.11"/><circle cx="407.8" cy="297.5" r="0.91"/><circle cx="402.2" cy="294.1" r="0.96"/><circle cx="399.2" cy="292.4" r="0.99"/><circle cx="392.4" cy="292.3" r="1.05"/><circle cx="376.2" cy="298.3" r="1.19"/><circle cx="402.5" cy="287.5" r="0.96"/><circle cx="391.2" cy="288.1" r="1.06"/><circle cx="369.6" cy="289.7" r="1.25"/><circle cx="400.3" cy="293.8" r="0.98"/><circle cx="406.8" cy="298.5" r="0.92"/><circle cx="378.1" cy="298.8" r="1.18"/><circle cx="402.8" cy="290.1" r="0.95"/><circle cx="387.8" cy="292.6" r="1.09"/><circle cx="406.1" cy="289.6" r="0.92"/><circle cx="383.9" cy="290.6" r="1.12"/><circle cx="395.7" cy="295.1" r="1.02"/><circle cx="400.1" cy="293.5" r="0.98"/><circle cx="353.1" cy="286.5" r="1.4"/><circle cx="394.2" cy="294.3" r="1.03"/><circle cx="399.9" cy="289.3" r="0.98"/><circle cx="401.3" cy="296.0" r="0.97"/><circle cx="389.2" cy="292.5" r="1.08"/><circle cx="394.1" cy="295.4" r="1.03"/><circle cx="395.0" cy="287.8" r="1.03"/><circle cx="396.4" cy="296.6" r="1.01"/><circle cx="367.4" cy="290.6" r="1.27"/><circle cx="404.4" cy="297.5" r="0.94"/><circle cx="399.4" cy="291.5" r="0.98"/><circle cx="400.4" cy="293.9" r="0.98"/><circle cx="400.3" cy="298.2" r="0.98"/><circle cx="371.5" cy="288.4" r="1.24"/><circle cx="376.9" cy="295.4" r="1.19"/><circle cx="401.7" cy="290.6" r="0.96"/><circle cx="392.7" cy="296.1" r="1.05"/><circle cx="386.5" cy="295.7" r="1.1"/><circle cx="385.1" cy="299.2" r="1.11"/><circle cx="389.5" cy="288.1" r="1.07"/><circle cx="403.8" cy="296.8" r="0.95"/><circle cx="398.2" cy="288.7" r="1.0"/><circle cx="392.2" cy="292.4" r="1.05"/><circle cx="377.8" cy="287.4" r="1.18"/><circle cx="402.2" cy="292.3" r="0.96"/><circle cx="394.7" cy="289.9" r="1.03"/><circle cx="393.1" cy="292.7" r="1.04"/><circle cx="401.5" cy="298.0" r="0.97"/><circle cx="384.5" cy="292.5" r="1.12"/><circle cx="400.9" cy="298.8" r="0.97"/><circle cx="390.0" cy="288.3" r="1.07"/><circle cx="391.0" cy="286.6" r="1.06"/><circle cx="401.4" cy="297.8" r="0.97"/><circle cx="404.0" cy="289.6" r="0.94"/><circle cx="395.2" cy="294.8" r="1.02"/><circle cx="395.5" cy="287.5" r="1.02"/><circle cx="375.5" cy="292.0" r="1.2"/><circle cx="402.4" cy="295.9" r="0.96"/><circle cx="394.0" cy="288.3" r="1.03"/><circle cx="405.3" cy="295.2" r="0.93"/><circle cx="380.1" cy="298.0" r="1.16"/><circle cx="403.1" cy="296.1" r="0.95"/><circle cx="395.5" cy="288.0" r="1.02"/><circle cx="399.6" cy="295.2" r="0.98"/><circle cx="397.2" cy="296.3" r="1.0"/><circle cx="405.8" cy="291.3" r="0.93"/><circle cx="389.5" cy="293.7" r="1.07"/><circle cx="404.5" cy="297.5" r="0.94"/><circle cx="360.8" cy="291.0" r="1.33"/><circle cx="401.7" cy="288.7" r="0.96"/><circle cx="405.2" cy="293.7" r="0.93"/><circle cx="393.9" cy="292.5" r="1.03"/><circle cx="398.9" cy="287.5" r="0.99"/><circle cx="405.5" cy="291.5" r="0.93"/><circle cx="379.4" cy="285.6" r="1.17"/><circle cx="378.4" cy="278.8" r="1.17"/><circle cx="360.1" cy="275.0" r="1.34"/><circle cx="396.4" cy="283.0" r="1.01"/><circle cx="383.4" cy="278.8" r="1.13"/><circle cx="360.7" cy="280.1" r="1.34"/><circle cx="377.1" cy="274.3" r="1.19"/><circle cx="384.4" cy="275.8" r="1.12"/><circle cx="394.3" cy="278.7" r="1.03"/><circle cx="389.8" cy="274.9" r="1.07"/><circle cx="372.2" cy="276.4" r="1.23"/><circle cx="375.6" cy="283.2" r="1.2"/><circle cx="381.9" cy="283.6" r="1.14"/><circle cx="356.1" cy="281.7" r="1.38"/><circle cx="397.1" cy="283.2" r="1.01"/><circle cx="351.1" cy="284.5" r="1.42"/><circle cx="392.7" cy="275.2" r="1.05"/><circle cx="395.8" cy="284.3" r="1.02"/><circle cx="369.3" cy="273.5" r="1.26"/><circle cx="397.6" cy="279.5" r="1.0"/><circle cx="386.5" cy="278.5" r="1.1"/><circle cx="386.3" cy="284.0" r="1.1"/><circle cx="359.2" cy="282.1" r="1.35"/><circle cx="365.1" cy="279.3" r="1.3"/><circle cx="361.7" cy="275.6" r="1.33"/><circle cx="393.8" cy="277.9" r="1.04"/><circle cx="362.6" cy="283.6" r="1.32"/><circle cx="361.7" cy="275.1" r="1.33"/><circle cx="378.6" cy="283.7" r="1.17"/><circle cx="394.2" cy="278.9" r="1.03"/><circle cx="346.9" cy="275.0" r="1.46"/><circle cx="394.2" cy="275.7" r="1.03"/><circle cx="365.8" cy="277.4" r="1.29"/><circle cx="401.6" cy="283.0" r="0.97"/><circle cx="373.3" cy="279.0" r="1.22"/><circle cx="378.0" cy="274.3" r="1.18"/><circle cx="394.6" cy="284.1" r="1.03"/><circle cx="382.2" cy="283.4" r="1.14"/><circle cx="357.4" cy="281.1" r="1.36"/><circle cx="372.1" cy="283.6" r="1.23"/><circle cx="399.2" cy="284.5" r="0.99"/><circle cx="381.6" cy="281.2" r="1.15"/><circle cx="392.4" cy="279.0" r="1.05"/><circle cx="392.3" cy="284.7" r="1.05"/><circle cx="392.9" cy="279.3" r="1.04"/><circle cx="392.2" cy="284.5" r="1.05"/><circle cx="389.6" cy="274.3" r="1.07"/><circle cx="388.4" cy="276.5" r="1.08"/><circle cx="390.3" cy="283.8" r="1.07"/><circle cx="389.2" cy="280.7" r="1.08"/><circle cx="394.3" cy="274.9" r="1.03"/><circle cx="385.0" cy="279.2" r="1.12"/><circle cx="379.1" cy="285.6" r="1.17"/><circle cx="348.9" cy="275.9" r="1.44"/><circle cx="395.5" cy="274.9" r="1.02"/><circle cx="393.6" cy="275.6" r="1.04"/><circle cx="383.7" cy="278.7" r="1.13"/><circle cx="366.1" cy="274.4" r="1.29"/><circle cx="380.3" cy="284.7" r="1.16"/><circle cx="379.9" cy="275.0" r="1.16"/><circle cx="378.9" cy="282.6" r="1.17"/><circle cx="401.3" cy="283.9" r="0.97"/><circle cx="386.5" cy="282.1" r="1.1"/><circle cx="379.0" cy="282.1" r="1.17"/><circle cx="396.6" cy="277.4" r="1.01"/><circle cx="385.9" cy="280.4" r="1.11"/><circle cx="390.4" cy="278.2" r="1.07"/><circle cx="391.8" cy="285.2" r="1.05"/><circle cx="392.7" cy="282.1" r="1.05"/><circle cx="400.8" cy="279.7" r="0.97"/><circle cx="393.1" cy="275.3" r="1.04"/><circle cx="399.2" cy="278.3" r="0.99"/><circle cx="385.8" cy="275.0" r="1.11"/><circle cx="371.5" cy="278.3" r="1.24"/><circle cx="392.4" cy="278.2" r="1.05"/><circle cx="385.9" cy="276.7" r="1.11"/><circle cx="396.8" cy="278.0" r="1.01"/><circle cx="382.6" cy="282.6" r="1.14"/><circle cx="377.5" cy="281.4" r="1.18"/><circle cx="386.8" cy="280.1" r="1.1"/><circle cx="396.1" cy="278.6" r="1.01"/><circle cx="389.2" cy="285.2" r="1.08"/><circle cx="365.2" cy="276.1" r="1.29"/><circle cx="380.4" cy="281.3" r="1.16"/><circle cx="359.2" cy="284.2" r="1.35"/><circle cx="400.6" cy="286.2" r="0.97"/><circle cx="379.4" cy="286.0" r="1.17"/><circle cx="384.7" cy="284.2" r="1.12"/><circle cx="382.3" cy="280.3" r="1.14"/><circle cx="377.9" cy="273.5" r="1.18"/><circle cx="366.0" cy="275.0" r="1.29"/><circle cx="381.8" cy="283.8" r="1.14"/><circle cx="398.6" cy="284.6" r="0.99"/><circle cx="391.5" cy="282.4" r="1.06"/><circle cx="389.0" cy="280.0" r="1.08"/><circle cx="389.0" cy="285.4" r="1.08"/><circle cx="391.9" cy="281.1" r="1.05"/><circle cx="401.7" cy="281.3" r="0.96"/><circle cx="388.0" cy="286.2" r="1.09"/><circle cx="389.8" cy="283.0" r="1.07"/><circle cx="393.4" cy="278.8" r="1.04"/><circle cx="382.8" cy="278.5" r="1.14"/><circle cx="388.3" cy="284.3" r="1.09"/><circle cx="392.9" cy="286.0" r="1.04"/><circle cx="377.6" cy="282.3" r="1.18"/><circle cx="399.7" cy="274.6" r="0.98"/><circle cx="371.0" cy="281.2" r="1.24"/><circle cx="391.1" cy="279.8" r="1.06"/><circle cx="394.2" cy="283.9" r="1.03"/><circle cx="389.1" cy="275.1" r="1.08"/><circle cx="366.4" cy="282.3" r="1.28"/><circle cx="393.9" cy="281.5" r="1.03"/><circle cx="381.6" cy="278.0" r="1.15"/><circle cx="363.0" cy="280.7" r="1.31"/><circle cx="379.5" cy="283.2" r="1.17"/><circle cx="380.4" cy="276.1" r="1.16"/><circle cx="393.9" cy="286.2" r="1.03"/><circle cx="380.4" cy="285.2" r="1.16"/><circle cx="371.1" cy="279.9" r="1.24"/><circle cx="390.7" cy="274.2" r="1.06"/><circle cx="386.6" cy="283.1" r="1.1"/><circle cx="390.8" cy="284.2" r="1.06"/><circle cx="360.1" cy="276.9" r="1.34"/><circle cx="380.5" cy="280.2" r="1.16"/><circle cx="394.8" cy="276.0" r="1.03"/><circle cx="400.5" cy="285.6" r="0.97"/><circle cx="398.9" cy="284.3" r="0.99"/><circle cx="388.9" cy="274.6" r="1.08"/><circle cx="366.9" cy="274.2" r="1.28"/><circle cx="401.4" cy="283.0" r="0.97"/><circle cx="399.1" cy="279.0" r="0.99"/><circle cx="388.2" cy="282.8" r="1.09"/><circle cx="383.7" cy="280.8" r="1.13"/><circle cx="354.5" cy="286.1" r="1.39"/><circle cx="377.8" cy="275.8" r="1.18"/><circle cx="387.2" cy="275.6" r="1.09"/><circle cx="390.9" cy="284.1" r="1.06"/><circle cx="391.0" cy="282.8" r="1.06"/><circle cx="355.4" cy="279.0" r="1.38"/><circle cx="393.3" cy="284.1" r="1.04"/><circle cx="386.0" cy="285.8" r="1.11"/><circle cx="394.0" cy="280.6" r="1.03"/><circle cx="386.1" cy="277.3" r="1.11"/><circle cx="392.4" cy="279.8" r="1.05"/><circle cx="389.7" cy="273.8" r="1.07"/><circle cx="362.9" cy="281.0" r="1.31"/><circle cx="375.7" cy="286.1" r="1.2"/><circle cx="386.3" cy="273.7" r="1.1"/><circle cx="394.6" cy="280.2" r="1.03"/><circle cx="391.9" cy="285.7" r="1.05"/><circle cx="384.0" cy="276.4" r="1.12"/><circle cx="337.2" cy="278.2" r="1.55"/><circle cx="388.1" cy="274.7" r="1.09"/><circle cx="369.4" cy="277.8" r="1.26"/><circle cx="367.1" cy="279.8" r="1.28"/><circle cx="387.2" cy="276.0" r="1.09"/><circle cx="391.6" cy="283.2" r="1.06"/><circle cx="357.4" cy="279.2" r="1.36"/><circle cx="382.8" cy="283.2" r="1.14"/><circle cx="384.7" cy="281.8" r="1.12"/><circle cx="397.2" cy="281.9" r="1.01"/><circle cx="379.6" cy="282.1" r="1.16"/><circle cx="386.3" cy="283.9" r="1.1"/><circle cx="356.9" cy="274.2" r="1.37"/><circle cx="368.3" cy="274.2" r="1.27"/><circle cx="392.3" cy="282.3" r="1.05"/><circle cx="368.9" cy="283.3" r="1.26"/><circle cx="395.1" cy="274.2" r="1.02"/><circle cx="371.3" cy="284.6" r="1.24"/><circle cx="387.5" cy="285.4" r="1.09"/><circle cx="404.6" cy="280.3" r="0.94"/><circle cx="401.2" cy="280.6" r="0.97"/><circle cx="383.1" cy="276.8" r="1.13"/><circle cx="399.4" cy="279.3" r="0.99"/><circle cx="377.3" cy="278.1" r="1.19"/><circle cx="395.9" cy="286.0" r="1.02"/><circle cx="363.6" cy="277.2" r="1.31"/><circle cx="357.6" cy="281.0" r="1.36"/><circle cx="387.9" cy="274.3" r="1.09"/><circle cx="396.5" cy="284.5" r="1.01"/><circle cx="374.2" cy="285.9" r="1.21"/><circle cx="373.8" cy="277.2" r="1.22"/><circle cx="382.6" cy="273.6" r="1.14"/><circle cx="397.2" cy="278.9" r="1.0"/><circle cx="358.5" cy="278.9" r="1.35"/><circle cx="382.6" cy="285.6" r="1.14"/><circle cx="378.3" cy="284.4" r="1.18"/><circle cx="390.4" cy="277.8" r="1.07"/><circle cx="375.3" cy="268.5" r="1.2"/><circle cx="359.9" cy="264.6" r="1.34"/><circle cx="384.8" cy="259.2" r="1.12"/><circle cx="384.9" cy="273.5" r="1.12"/><circle cx="366.3" cy="265.4" r="1.28"/><circle cx="372.5" cy="272.2" r="1.23"/><circle cx="377.6" cy="272.7" r="1.18"/><circle cx="394.2" cy="267.1" r="1.03"/><circle cx="377.7" cy="263.5" r="1.18"/><circle cx="381.1" cy="259.1" r="1.15"/><circle cx="390.9" cy="262.0" r="1.06"/><circle cx="389.5" cy="260.5" r="1.07"/><circle cx="370.1" cy="264.1" r="1.25"/><circle cx="390.2" cy="270.6" r="1.07"/><circle cx="382.9" cy="263.9" r="1.13"/><circle cx="399.7" cy="260.2" r="0.98"/><circle cx="367.8" cy="264.1" r="1.27"/><circle cx="395.4" cy="264.2" r="1.02"/><circle cx="369.7" cy="262.5" r="1.25"/><circle cx="367.3" cy="264.5" r="1.28"/><circle cx="381.6" cy="270.0" r="1.15"/><circle cx="376.2" cy="273.4" r="1.2"/><circle cx="373.1" cy="258.1" r="1.22"/><circle cx="376.8" cy="263.2" r="1.19"/><circle cx="363.3" cy="264.8" r="1.31"/><circle cx="362.6" cy="263.6" r="1.32"/><circle cx="380.6" cy="272.2" r="1.16"/><circle cx="389.3" cy="271.8" r="1.08"/><circle cx="385.2" cy="260.8" r="1.11"/><circle cx="376.6" cy="262.9" r="1.19"/><circle cx="386.9" cy="270.2" r="1.1"/><circle cx="380.8" cy="262.7" r="1.15"/><circle cx="382.5" cy="263.6" r="1.14"/><circle cx="373.5" cy="263.1" r="1.22"/><circle cx="345.7" cy="268.9" r="1.47"/><circle cx="399.5" cy="272.4" r="0.98"/><circle cx="378.7" cy="272.5" r="1.17"/><circle cx="380.6" cy="273.3" r="1.15"/><circle cx="384.1" cy="258.5" r="1.12"/><circle cx="342.9" cy="263.7" r="1.5"/><circle cx="384.7" cy="262.5" r="1.12"/><circle cx="366.0" cy="270.3" r="1.29"/><circle cx="388.4" cy="273.0" r="1.08"/><circle cx="382.1" cy="263.7" r="1.14"/><circle cx="376.5" cy="270.3" r="1.19"/><circle cx="366.5" cy="271.8" r="1.28"/><circle cx="377.6" cy="266.7" r="1.18"/><circle cx="385.1" cy="263.1" r="1.11"/><circle cx="380.6" cy="272.9" r="1.15"/><circle cx="365.1" cy="268.0" r="1.3"/><circle cx="360.4" cy="261.5" r="1.34"/><circle cx="377.5" cy="267.5" r="1.18"/><circle cx="373.9" cy="269.2" r="1.22"/><circle cx="369.4" cy="264.7" r="1.26"/><circle cx="366.8" cy="260.3" r="1.28"/><circle cx="388.3" cy="272.7" r="1.09"/><circle cx="383.5" cy="269.0" r="1.13"/><circle cx="391.4" cy="267.1" r="1.06"/><circle cx="361.5" cy="270.4" r="1.33"/><circle cx="392.8" cy="266.5" r="1.04"/><circle cx="359.6" cy="266.0" r="1.35"/><circle cx="373.8" cy="259.8" r="1.22"/><circle cx="385.3" cy="264.2" r="1.11"/><circle cx="390.2" cy="266.5" r="1.07"/><circle cx="389.4" cy="263.0" r="1.08"/><circle cx="379.7" cy="271.1" r="1.16"/><circle cx="392.0" cy="268.6" r="1.05"/><circle cx="361.3" cy="271.0" r="1.33"/><circle cx="374.7" cy="260.5" r="1.21"/><circle cx="351.2" cy="263.3" r="1.42"/><circle cx="370.7" cy="262.1" r="1.24"/><circle cx="396.5" cy="271.4" r="1.01"/><circle cx="353.9" cy="268.8" r="1.4"/><circle cx="361.1" cy="264.5" r="1.33"/><circle cx="390.1" cy="259.1" r="1.07"/><circle cx="366.3" cy="266.3" r="1.28"/><circle cx="393.5" cy="268.3" r="1.04"/><circle cx="382.3" cy="267.3" r="1.14"/><circle cx="385.8" cy="263.3" r="1.11"/><circle cx="385.1" cy="265.5" r="1.11"/><circle cx="376.0" cy="263.4" r="1.2"/><circle cx="350.1" cy="272.8" r="1.43"/><circle cx="359.7" cy="272.8" r="1.34"/><circle cx="387.1" cy="268.2" r="1.1"/><circle cx="371.8" cy="271.2" r="1.23"/><circle cx="384.9" cy="263.1" r="1.12"/><circle cx="374.8" cy="266.0" r="1.21"/><circle cx="373.3" cy="270.7" r="1.22"/><circle cx="367.3" cy="272.5" r="1.27"/><circle cx="379.8" cy="258.7" r="1.16"/><circle cx="388.6" cy="269.5" r="1.08"/><circle cx="380.4" cy="263.5" r="1.16"/><circle cx="370.8" cy="268.9" r="1.24"/><circle cx="378.7" cy="266.7" r="1.17"/><circle cx="365.9" cy="272.4" r="1.29"/><circle cx="370.9" cy="264.0" r="1.24"/><circle cx="393.0" cy="269.8" r="1.04"/><circle cx="391.6" cy="262.1" r="1.06"/><circle cx="367.1" cy="258.2" r="1.28"/><circle cx="382.9" cy="264.9" r="1.13"/><circle cx="372.4" cy="259.0" r="1.23"/><circle cx="394.5" cy="260.0" r="1.03"/><circle cx="388.9" cy="265.7" r="1.08"/><circle cx="365.2" cy="262.0" r="1.29"/><circle cx="340.5" cy="266.8" r="1.52"/><circle cx="357.1" cy="271.5" r="1.37"/><circle cx="374.9" cy="258.9" r="1.21"/><circle cx="389.6" cy="258.2" r="1.07"/><circle cx="382.9" cy="271.1" r="1.13"/><circle cx="373.7" cy="270.9" r="1.22"/><circle cx="348.4" cy="266.7" r="1.45"/><circle cx="368.7" cy="266.6" r="1.26"/><circle cx="389.6" cy="267.2" r="1.07"/><circle cx="373.2" cy="260.6" r="1.22"/><circle cx="382.6" cy="270.8" r="1.14"/><circle cx="385.9" cy="262.2" r="1.11"/><circle cx="361.3" cy="267.9" r="1.33"/><circle cx="347.7" cy="272.3" r="1.45"/><circle cx="384.4" cy="261.3" r="1.12"/><circle cx="371.3" cy="272.3" r="1.24"/><circle cx="346.4" cy="259.9" r="1.46"/><circle cx="365.5" cy="270.0" r="1.29"/><circle cx="395.6" cy="264.2" r="1.02"/><circle cx="384.6" cy="267.3" r="1.12"/><circle cx="393.0" cy="266.5" r="1.04"/><circle cx="365.0" cy="262.7" r="1.3"/><circle cx="398.9" cy="264.7" r="0.99"/><circle cx="360.6" cy="263.1" r="1.34"/><circle cx="393.1" cy="261.3" r="1.04"/><circle cx="400.9" cy="273.0" r="0.97"/><circle cx="377.3" cy="263.9" r="1.19"/><circle cx="374.2" cy="262.1" r="1.21"/><circle cx="375.8" cy="271.5" r="1.2"/><circle cx="390.9" cy="269.7" r="1.06"/><circle cx="395.5" cy="271.5" r="1.02"/><circle cx="379.4" cy="259.1" r="1.17"/><circle cx="399.8" cy="265.0" r="0.98"/><circle cx="370.6" cy="264.7" r="1.25"/><circle cx="363.6" cy="263.3" r="1.31"/><circle cx="379.1" cy="258.3" r="1.17"/><circle cx="386.9" cy="260.9" r="1.1"/><circle cx="364.2" cy="259.2" r="1.3"/><circle cx="337.9" cy="259.7" r="1.54"/><circle cx="376.0" cy="259.4" r="1.2"/><circle cx="344.2" cy="271.9" r="1.48"/><circle cx="392.8" cy="270.5" r="1.04"/><circle cx="394.3" cy="270.2" r="1.03"/><circle cx="365.2" cy="262.6" r="1.29"/><circle cx="389.7" cy="265.8" r="1.07"/><circle cx="375.0" cy="272.2" r="1.21"/><circle cx="376.0" cy="266.8" r="1.2"/><circle cx="373.1" cy="268.1" r="1.22"/><circle cx="356.1" cy="265.6" r="1.38"/><circle cx="383.0" cy="262.0" r="1.13"/><circle cx="387.7" cy="272.4" r="1.09"/><circle cx="392.1" cy="269.7" r="1.05"/><circle cx="384.0" cy="261.4" r="1.12"/><circle cx="370.7" cy="261.5" r="1.24"/><circle cx="354.3" cy="259.4" r="1.39"/><circle cx="366.3" cy="264.8" r="1.28"/><circle cx="381.3" cy="260.5" r="1.15"/><circle cx="351.0" cy="259.3" r="1.42"/><circle cx="378.9" cy="270.1" r="1.17"/><circle cx="390.2" cy="260.9" r="1.07"/><circle cx="377.4" cy="269.1" r="1.18"/><circle cx="388.2" cy="263.7" r="1.09"/><circle cx="379.2" cy="264.5" r="1.17"/><circle cx="378.5" cy="266.2" r="1.17"/><circle cx="391.4" cy="259.2" r="1.06"/><circle cx="397.5" cy="262.2" r="1.0"/><circle cx="356.2" cy="267.7" r="1.38"/><circle cx="391.3" cy="265.7" r="1.06"/><circle cx="371.2" cy="263.7" r="1.24"/><circle cx="356.5" cy="266.4" r="1.37"/><circle cx="383.9" cy="259.4" r="1.13"/><circle cx="363.1" cy="269.6" r="1.31"/><circle cx="396.6" cy="259.5" r="1.01"/><circle cx="357.1" cy="272.5" r="1.37"/><circle cx="393.8" cy="260.4" r="1.04"/><circle cx="401.8" cy="268.5" r="0.96"/><circle cx="390.1" cy="268.3" r="1.07"/><circle cx="384.0" cy="263.5" r="1.12"/><circle cx="385.6" cy="261.0" r="1.11"/><circle cx="383.9" cy="262.5" r="1.12"/><circle cx="368.6" cy="259.4" r="1.26"/><circle cx="394.9" cy="266.6" r="1.03"/><circle cx="387.9" cy="272.2" r="1.09"/><circle cx="390.3" cy="272.7" r="1.07"/><circle cx="388.0" cy="272.6" r="1.09"/><circle cx="378.1" cy="265.7" r="1.18"/><circle cx="368.4" cy="266.1" r="1.27"/><circle cx="382.0" cy="262.2" r="1.14"/><circle cx="374.4" cy="266.3" r="1.21"/><circle cx="378.6" cy="269.6" r="1.17"/><circle cx="387.3" cy="271.5" r="1.09"/><circle cx="390.3" cy="264.0" r="1.07"/><circle cx="379.3" cy="271.6" r="1.17"/><circle cx="349.4" cy="273.2" r="1.44"/><circle cx="389.4" cy="267.5" r="1.08"/><circle cx="368.1" cy="259.6" r="1.27"/><circle cx="381.3" cy="271.1" r="1.15"/><circle cx="387.8" cy="270.4" r="1.09"/><circle cx="381.7" cy="270.9" r="1.14"/><circle cx="372.7" cy="267.5" r="1.23"/><circle cx="377.4" cy="272.5" r="1.18"/><circle cx="389.2" cy="267.2" r="1.08"/><circle cx="387.9" cy="264.7" r="1.09"/><circle cx="380.0" cy="265.3" r="1.16"/><circle cx="386.4" cy="269.6" r="1.1"/><circle cx="363.7" cy="261.9" r="1.31"/><circle cx="351.3" cy="260.5" r="1.42"/><circle cx="393.1" cy="262.6" r="1.04"/><circle cx="377.3" cy="266.8" r="1.19"/><circle cx="390.2" cy="271.7" r="1.07"/><circle cx="374.4" cy="264.1" r="1.21"/><circle cx="378.4" cy="267.4" r="1.17"/><circle cx="375.4" cy="265.2" r="1.2"/><circle cx="353.0" cy="269.7" r="1.4"/><circle cx="378.8" cy="259.1" r="1.17"/><circle cx="337.2" cy="263.1" r="1.55"/><circle cx="371.8" cy="272.3" r="1.23"/><circle cx="370.7" cy="267.6" r="1.24"/><circle cx="387.1" cy="266.1" r="1.1"/><circle cx="386.0" cy="265.3" r="1.11"/><circle cx="389.9" cy="260.2" r="1.07"/><circle cx="390.1" cy="273.4" r="1.07"/><circle cx="389.2" cy="263.0" r="1.08"/><circle cx="385.9" cy="271.0" r="1.11"/><circle cx="397.4" cy="271.7" r="1.0"/><circle cx="367.1" cy="261.5" r="1.28"/><circle cx="396.9" cy="272.4" r="1.01"/><circle cx="386.3" cy="269.8" r="1.1"/><circle cx="345.5" cy="260.3" r="1.47"/><circle cx="403.4" cy="273.1" r="0.95"/><circle cx="391.1" cy="267.1" r="1.06"/><circle cx="354.3" cy="261.6" r="1.39"/><circle cx="390.6" cy="262.1" r="1.06"/><circle cx="387.8" cy="273.5" r="1.09"/><circle cx="373.7" cy="273.5" r="1.22"/><circle cx="395.6" cy="262.2" r="1.02"/><circle cx="392.0" cy="270.4" r="1.05"/><circle cx="388.3" cy="268.7" r="1.09"/><circle cx="391.2" cy="260.3" r="1.06"/><circle cx="380.6" cy="267.1" r="1.15"/><circle cx="384.6" cy="267.7" r="1.12"/><circle cx="375.6" cy="265.8" r="1.2"/><circle cx="390.9" cy="244.0" r="1.06"/><circle cx="390.9" cy="256.9" r="1.06"/><circle cx="391.8" cy="257.5" r="1.05"/><circle cx="396.9" cy="250.2" r="1.01"/><circle cx="396.0" cy="242.5" r="1.02"/><circle cx="391.9" cy="257.2" r="1.05"/><circle cx="393.1" cy="253.9" r="1.04"/><circle cx="391.7" cy="249.2" r="1.05"/><circle cx="392.0" cy="257.6" r="1.05"/><circle cx="391.7" cy="253.7" r="1.05"/><circle cx="390.4" cy="254.9" r="1.07"/><circle cx="395.0" cy="243.6" r="1.02"/><circle cx="396.6" cy="244.6" r="1.01"/><circle cx="393.9" cy="247.7" r="1.03"/><circle cx="392.1" cy="248.2" r="1.05"/><circle cx="393.7" cy="255.1" r="1.04"/><circle cx="393.8" cy="255.4" r="1.04"/><circle cx="391.8" cy="245.3" r="1.05"/><circle cx="390.0" cy="246.9" r="1.07"/><circle cx="391.3" cy="245.0" r="1.06"/><circle cx="390.4" cy="244.6" r="1.07"/><circle cx="392.0" cy="252.4" r="1.05"/><circle cx="390.9" cy="249.4" r="1.06"/><circle cx="390.9" cy="253.4" r="1.06"/><circle cx="398.0" cy="248.8" r="1.0"/><circle cx="391.7" cy="250.9" r="1.05"/><circle cx="393.6" cy="248.3" r="1.04"/><circle cx="394.2" cy="250.2" r="1.03"/><circle cx="390.3" cy="249.6" r="1.07"/><circle cx="393.5" cy="249.2" r="1.04"/><circle cx="393.1" cy="242.4" r="1.04"/><circle cx="391.1" cy="255.2" r="1.06"/><circle cx="395.8" cy="254.6" r="1.02"/><circle cx="392.6" cy="252.5" r="1.05"/><circle cx="390.3" cy="247.4" r="1.07"/><circle cx="396.5" cy="255.7" r="1.01"/><circle cx="391.5" cy="249.8" r="1.06"/><circle cx="393.0" cy="256.1" r="1.04"/><circle cx="391.2" cy="249.7" r="1.06"/><circle cx="391.4" cy="245.3" r="1.06"/><circle cx="390.0" cy="256.6" r="1.07"/><circle cx="392.3" cy="251.1" r="1.05"/><circle cx="394.6" cy="251.5" r="1.03"/><circle cx="397.3" cy="248.3" r="1.0"/><circle cx="391.9" cy="252.6" r="1.05"/><circle cx="393.2" cy="244.3" r="1.04"/><circle cx="391.3" cy="245.4" r="1.06"/><circle cx="390.1" cy="245.3" r="1.07"/><circle cx="390.5" cy="237.9" r="1.07"/><circle cx="393.5" cy="239.5" r="1.04"/><circle cx="392.8" cy="240.7" r="1.05"/><circle cx="394.5" cy="226.3" r="1.03"/><circle cx="393.7" cy="240.0" r="1.04"/><circle cx="390.3" cy="230.6" r="1.07"/><circle cx="396.5" cy="237.8" r="1.01"/><circle cx="392.4" cy="242.0" r="1.05"/><circle cx="394.9" cy="223.8" r="1.03"/><circle cx="392.6" cy="229.8" r="1.05"/><circle cx="390.8" cy="236.4" r="1.06"/><circle cx="390.6" cy="223.5" r="1.06"/><circle cx="396.9" cy="238.0" r="1.01"/><circle cx="391.1" cy="231.5" r="1.06"/><circle cx="392.1" cy="235.9" r="1.05"/><circle cx="392.3" cy="229.4" r="1.05"/><circle cx="395.2" cy="232.4" r="1.02"/><circle cx="395.2" cy="222.2" r="1.02"/><circle cx="393.4" cy="237.8" r="1.04"/><circle cx="393.2" cy="229.3" r="1.04"/><circle cx="392.3" cy="232.7" r="1.05"/><circle cx="391.9" cy="225.9" r="1.05"/><circle cx="392.6" cy="227.2" r="1.05"/><circle cx="395.8" cy="238.7" r="1.02"/><circle cx="395.0" cy="235.0" r="1.03"/><circle cx="392.9" cy="228.4" r="1.04"/><circle cx="395.0" cy="227.6" r="1.02"/><circle cx="391.2" cy="206.2" r="1.06"/><circle cx="398.2" cy="221.4" r="1.0"/><circle cx="397.1" cy="213.4" r="1.01"/><circle cx="393.0" cy="220.7" r="1.04"/><circle cx="394.5" cy="218.6" r="1.03"/><circle cx="395.2" cy="204.5" r="1.02"/><circle cx="393.7" cy="214.5" r="1.04"/><circle cx="396.3" cy="218.5" r="1.01"/><circle cx="396.3" cy="214.3" r="1.01"/><circle cx="390.9" cy="201.4" r="1.06"/><circle cx="396.6" cy="208.7" r="1.01"/><circle cx="393.1" cy="187.6" r="1.04"/><circle cx="393.3" cy="181.5" r="1.04"/><circle cx="391.8" cy="182.2" r="1.05"/><circle cx="391.5" cy="194.1" r="1.06"/><circle cx="395.1" cy="187.9" r="1.02"/><circle cx="392.1" cy="191.5" r="1.05"/><circle cx="390.3" cy="160.3" r="1.07"/><circle cx="409.1" cy="321.7" r="0.9"/><circle cx="409.2" cy="316.3" r="0.9"/><circle cx="403.2" cy="312.7" r="0.95"/><circle cx="408.1" cy="314.3" r="0.91"/><circle cx="405.9" cy="316.1" r="0.93"/><circle cx="410.2" cy="324.3" r="0.89"/><circle cx="410.2" cy="323.9" r="0.89"/><circle cx="407.8" cy="318.4" r="0.91"/><circle cx="409.7" cy="320.5" r="0.89"/><circle cx="409.5" cy="323.2" r="0.89"/><circle cx="409.2" cy="316.0" r="0.9"/><circle cx="408.0" cy="313.5" r="0.91"/><circle cx="407.5" cy="319.6" r="0.91"/><circle cx="408.2" cy="323.3" r="0.91"/><circle cx="408.4" cy="320.0" r="0.9"/><circle cx="404.0" cy="304.8" r="0.94"/><circle cx="404.0" cy="307.6" r="0.94"/><circle cx="404.7" cy="299.5" r="0.94"/><circle cx="404.2" cy="300.8" r="0.94"/><circle cx="400.2" cy="304.4" r="0.98"/><circle cx="403.9" cy="306.3" r="0.94"/><circle cx="403.9" cy="312.3" r="0.94"/><circle cx="404.8" cy="307.6" r="0.94"/><circle cx="400.2" cy="300.3" r="0.98"/><circle cx="403.5" cy="305.2" r="0.95"/><circle cx="405.5" cy="302.8" r="0.93"/><circle cx="407.3" cy="310.1" r="0.91"/><circle cx="407.3" cy="311.6" r="0.91"/><circle cx="400.8" cy="300.3" r="0.97"/><circle cx="406.9" cy="309.4" r="0.92"/><circle cx="405.6" cy="306.3" r="0.93"/><circle cx="397.9" cy="302.7" r="1.0"/><circle cx="408.3" cy="310.5" r="0.9"/><circle cx="402.7" cy="301.5" r="0.95"/><circle cx="406.0" cy="312.2" r="0.93"/><circle cx="404.0" cy="303.9" r="0.94"/><circle cx="405.1" cy="301.9" r="0.93"/><circle cx="406.0" cy="301.0" r="0.93"/><circle cx="405.3" cy="307.7" r="0.93"/><circle cx="401.7" cy="303.5" r="0.96"/><circle cx="403.6" cy="306.1" r="0.95"/><circle cx="409.0" cy="311.7" r="0.9"/><circle cx="406.6" cy="302.2" r="0.92"/><circle cx="405.0" cy="308.9" r="0.93"/><circle cx="406.8" cy="308.7" r="0.92"/><circle cx="405.6" cy="303.4" r="0.93"/><circle cx="404.2" cy="308.6" r="0.94"/><circle cx="404.9" cy="307.3" r="0.94"/><circle cx="407.8" cy="301.9" r="0.91"/><circle cx="407.7" cy="311.6" r="0.91"/><circle cx="398.7" cy="294.8" r="0.99"/><circle cx="406.6" cy="299.0" r="0.92"/><circle cx="404.2" cy="298.7" r="0.94"/><circle cx="406.3" cy="292.4" r="0.92"/><circle cx="394.8" cy="293.2" r="1.03"/><circle cx="406.7" cy="294.3" r="0.92"/><circle cx="405.1" cy="287.0" r="0.93"/><circle cx="406.0" cy="293.6" r="0.93"/><circle cx="402.5" cy="289.7" r="0.96"/><circle cx="407.9" cy="292.7" r="0.91"/><circle cx="407.9" cy="291.5" r="0.91"/><circle cx="404.9" cy="287.7" r="0.93"/><circle cx="402.7" cy="289.1" r="0.96"/><circle cx="406.7" cy="298.4" r="0.92"/><circle cx="403.9" cy="296.4" r="0.94"/><circle cx="405.9" cy="290.1" r="0.93"/><circle cx="403.9" cy="287.8" r="0.94"/><circle cx="404.9" cy="296.6" r="0.93"/><circle cx="398.6" cy="287.2" r="0.99"/><circle cx="406.8" cy="294.2" r="0.92"/><circle cx="402.2" cy="297.7" r="0.96"/><circle cx="404.8" cy="287.6" r="0.94"/><circle cx="401.1" cy="296.4" r="0.97"/><circle cx="405.9" cy="291.0" r="0.93"/><circle cx="404.9" cy="287.2" r="0.94"/><circle cx="399.6" cy="287.6" r="0.98"/><circle cx="404.3" cy="297.1" r="0.94"/><circle cx="401.8" cy="299.2" r="0.96"/><circle cx="398.7" cy="289.7" r="0.99"/><circle cx="402.3" cy="290.0" r="0.96"/><circle cx="393.9" cy="297.7" r="1.03"/><circle cx="404.9" cy="293.5" r="0.93"/><circle cx="404.8" cy="288.0" r="0.94"/><circle cx="407.9" cy="296.1" r="0.91"/><circle cx="380.3" cy="287.1" r="1.16"/><circle cx="406.6" cy="290.4" r="0.92"/><circle cx="391.2" cy="292.8" r="1.06"/><circle cx="405.6" cy="298.2" r="0.93"/><circle cx="390.1" cy="293.1" r="1.07"/><circle cx="404.8" cy="288.7" r="0.94"/><circle cx="399.8" cy="293.6" r="0.98"/><circle cx="402.4" cy="293.9" r="0.96"/><circle cx="404.7" cy="298.2" r="0.94"/><circle cx="402.3" cy="298.2" r="0.96"/><circle cx="403.7" cy="296.8" r="0.95"/><circle cx="404.8" cy="296.5" r="0.94"/><circle cx="406.9" cy="295.7" r="0.92"/><circle cx="405.2" cy="298.8" r="0.93"/><circle cx="400.4" cy="289.5" r="0.98"/><circle cx="407.0" cy="295.1" r="0.92"/><circle cx="407.1" cy="294.7" r="0.91"/><circle cx="395.9" cy="289.6" r="1.02"/><circle cx="399.4" cy="291.7" r="0.99"/><circle cx="405.2" cy="293.6" r="0.93"/><circle cx="397.0" cy="288.6" r="1.01"/><circle cx="395.8" cy="283.3" r="1.02"/><circle cx="400.8" cy="278.1" r="0.97"/><circle cx="402.8" cy="277.5" r="0.95"/><circle cx="393.8" cy="283.7" r="1.04"/><circle cx="403.6" cy="278.3" r="0.95"/><circle cx="387.6" cy="274.9" r="1.09"/><circle cx="396.8" cy="274.7" r="1.01"/><circle cx="401.7" cy="281.2" r="0.96"/><circle cx="404.2" cy="280.9" r="0.94"/><circle cx="401.6" cy="275.7" r="0.96"/><circle cx="402.0" cy="283.2" r="0.96"/><circle cx="395.8" cy="275.6" r="1.02"/><circle cx="402.8" cy="285.7" r="0.95"/><circle cx="402.6" cy="280.9" r="0.96"/><circle cx="406.1" cy="279.8" r="0.92"/><circle cx="406.7" cy="279.4" r="0.92"/><circle cx="399.9" cy="282.9" r="0.98"/><circle cx="392.1" cy="285.1" r="1.05"/><circle cx="401.0" cy="280.9" r="0.97"/><circle cx="406.9" cy="281.9" r="0.92"/><circle cx="401.9" cy="278.1" r="0.96"/><circle cx="394.6" cy="276.1" r="1.03"/><circle cx="401.9" cy="280.9" r="0.96"/><circle cx="401.3" cy="280.7" r="0.97"/><circle cx="396.0" cy="277.9" r="1.02"/><circle cx="405.0" cy="281.4" r="0.93"/><circle cx="402.2" cy="282.7" r="0.96"/><circle cx="379.6" cy="278.7" r="1.16"/><circle cx="400.2" cy="282.2" r="0.98"/><circle cx="391.4" cy="278.9" r="1.06"/><circle cx="401.6" cy="279.8" r="0.97"/><circle cx="398.8" cy="281.0" r="0.99"/><circle cx="394.3" cy="281.0" r="1.03"/><circle cx="393.6" cy="275.2" r="1.04"/><circle cx="397.1" cy="278.3" r="1.01"/><circle cx="397.4" cy="276.6" r="1.0"/><circle cx="400.3" cy="283.8" r="0.98"/><circle cx="395.6" cy="285.8" r="1.02"/><circle cx="398.7" cy="274.1" r="0.99"/><circle cx="406.7" cy="280.6" r="0.92"/><circle cx="397.7" cy="281.4" r="1.0"/><circle cx="396.9" cy="280.3" r="1.01"/><circle cx="406.4" cy="275.1" r="0.92"/><circle cx="392.8" cy="276.1" r="1.05"/><circle cx="398.4" cy="275.6" r="0.99"/><circle cx="400.9" cy="274.7" r="0.97"/><circle cx="396.2" cy="274.2" r="1.01"/><circle cx="391.0" cy="274.0" r="1.06"/><circle cx="400.8" cy="277.0" r="0.97"/><circle cx="403.1" cy="283.7" r="0.95"/><circle cx="386.0" cy="278.6" r="1.11"/><circle cx="406.0" cy="280.1" r="0.92"/><circle cx="399.5" cy="280.7" r="0.98"/><circle cx="395.3" cy="285.9" r="1.02"/><circle cx="404.0" cy="275.5" r="0.94"/><circle cx="394.8" cy="280.9" r="1.03"/><circle cx="396.4" cy="281.8" r="1.01"/><circle cx="401.2" cy="284.6" r="0.97"/><circle cx="401.1" cy="286.1" r="0.97"/><circle cx="392.4" cy="278.8" r="1.05"/><circle cx="399.4" cy="263.6" r="0.98"/><circle cx="398.9" cy="267.7" r="0.99"/><circle cx="396.5" cy="266.8" r="1.01"/><circle cx="397.6" cy="270.0" r="1.0"/><circle cx="397.7" cy="272.8" r="1.0"/><circle cx="395.9" cy="268.3" r="1.02"/><circle cx="386.4" cy="272.6" r="1.1"/><circle cx="392.9" cy="262.3" r="1.04"/><circle cx="376.6" cy="260.4" r="1.19"/><circle cx="393.6" cy="259.4" r="1.04"/><circle cx="387.6" cy="267.4" r="1.09"/><circle cx="398.4" cy="264.4" r="0.99"/><circle cx="395.2" cy="268.5" r="1.02"/><circle cx="402.7" cy="271.1" r="0.95"/><circle cx="401.7" cy="264.2" r="0.96"/><circle cx="398.7" cy="270.6" r="0.99"/><circle cx="394.4" cy="260.9" r="1.03"/><circle cx="390.7" cy="259.4" r="1.06"/><circle cx="394.7" cy="258.2" r="1.03"/><circle cx="391.4" cy="258.9" r="1.06"/><circle cx="400.6" cy="270.6" r="0.97"/><circle cx="391.9" cy="258.3" r="1.05"/><circle cx="390.3" cy="264.0" r="1.07"/><circle cx="368.3" cy="265.8" r="1.27"/><circle cx="401.0" cy="268.5" r="0.97"/><circle cx="396.7" cy="265.9" r="1.01"/><circle cx="396.4" cy="269.7" r="1.01"/><circle cx="400.5" cy="268.9" r="0.98"/><circle cx="399.0" cy="259.9" r="0.99"/><circle cx="374.2" cy="258.0" r="1.21"/><circle cx="403.7" cy="262.5" r="0.95"/><circle cx="399.9" cy="266.2" r="0.98"/><circle cx="397.9" cy="267.1" r="1.0"/><circle cx="398.6" cy="268.8" r="0.99"/><circle cx="399.5" cy="272.8" r="0.98"/><circle cx="399.3" cy="266.2" r="0.99"/><circle cx="402.5" cy="264.3" r="0.96"/><circle cx="389.8" cy="259.7" r="1.07"/><circle cx="403.2" cy="271.7" r="0.95"/><circle cx="386.6" cy="259.3" r="1.1"/><circle cx="391.3" cy="261.5" r="1.06"/><circle cx="400.8" cy="272.4" r="0.97"/><circle cx="393.6" cy="268.4" r="1.04"/><circle cx="400.3" cy="264.1" r="0.98"/><circle cx="404.7" cy="272.9" r="0.94"/><circle cx="397.5" cy="268.9" r="1.0"/><circle cx="400.3" cy="260.8" r="0.98"/><circle cx="386.1" cy="271.1" r="1.11"/><circle cx="397.7" cy="272.3" r="1.0"/><circle cx="402.4" cy="272.6" r="0.96"/><circle cx="399.9" cy="262.3" r="0.98"/><circle cx="395.0" cy="262.4" r="1.02"/><circle cx="396.1" cy="271.2" r="1.02"/><circle cx="393.3" cy="266.3" r="1.04"/><circle cx="394.5" cy="270.2" r="1.03"/><circle cx="399.1" cy="265.5" r="0.99"/><circle cx="400.5" cy="272.8" r="0.97"/><circle cx="397.7" cy="263.2" r="1.0"/><circle cx="384.8" cy="269.7" r="1.12"/><circle cx="400.5" cy="268.0" r="0.97"/><circle cx="413.8" cy="324.3" r="0.91"/><circle cx="423.3" cy="312.9" r="0.99"/><circle cx="412.0" cy="316.6" r="0.89"/><circle cx="415.7" cy="314.2" r="0.92"/><circle cx="417.9" cy="318.7" r="0.94"/><circle cx="412.7" cy="317.9" r="0.9"/><circle cx="415.9" cy="319.2" r="0.92"/><circle cx="413.7" cy="314.0" r="0.9"/><circle cx="413.9" cy="313.6" r="0.91"/><circle cx="430.9" cy="312.3" r="1.06"/><circle cx="413.3" cy="319.2" r="0.9"/><circle cx="412.3" cy="324.9" r="0.89"/><circle cx="416.5" cy="312.4" r="0.93"/><circle cx="416.2" cy="312.6" r="0.93"/><circle cx="413.7" cy="315.9" r="0.9"/><circle cx="412.2" cy="311.3" r="0.89"/><circle cx="418.6" cy="312.5" r="0.95"/><circle cx="413.7" cy="317.3" r="0.9"/><circle cx="412.8" cy="323.5" r="0.9"/><circle cx="412.9" cy="320.3" r="0.9"/><circle cx="416.5" cy="316.6" r="0.93"/><circle cx="413.3" cy="320.5" r="0.9"/><circle cx="421.0" cy="299.9" r="0.97"/><circle cx="414.6" cy="300.5" r="0.91"/><circle cx="416.2" cy="298.3" r="0.93"/><circle cx="423.3" cy="299.3" r="0.99"/><circle cx="429.9" cy="295.9" r="1.05"/><circle cx="415.7" cy="297.3" r="0.92"/><circle cx="421.3" cy="297.1" r="0.97"/><circle cx="443.4" cy="294.3" r="1.17"/><circle cx="417.1" cy="299.4" r="0.94"/><circle cx="419.8" cy="309.5" r="0.96"/><circle cx="418.3" cy="308.3" r="0.95"/><circle cx="415.7" cy="302.6" r="0.92"/><circle cx="426.5" cy="295.3" r="1.02"/><circle cx="417.1" cy="304.3" r="0.94"/><circle cx="412.5" cy="298.5" r="0.89"/><circle cx="422.7" cy="297.7" r="0.99"/><circle cx="415.6" cy="309.5" r="0.92"/><circle cx="416.2" cy="298.6" r="0.93"/><circle cx="418.2" cy="303.1" r="0.95"/><circle cx="422.0" cy="303.2" r="0.98"/><circle cx="415.6" cy="294.6" r="0.92"/><circle cx="416.5" cy="299.4" r="0.93"/><circle cx="418.8" cy="299.8" r="0.95"/><circle cx="417.8" cy="307.5" r="0.94"/><circle cx="416.0" cy="301.0" r="0.92"/><circle cx="414.4" cy="307.2" r="0.91"/><circle cx="419.5" cy="301.9" r="0.96"/><circle cx="418.8" cy="299.6" r="0.95"/><circle cx="430.0" cy="289.6" r="1.05"/><circle cx="419.3" cy="287.1" r="0.96"/><circle cx="436.7" cy="280.1" r="1.11"/><circle cx="427.5" cy="280.4" r="1.03"/><circle cx="428.6" cy="293.1" r="1.04"/><circle cx="416.9" cy="292.4" r="0.93"/><circle cx="413.7" cy="288.0" r="0.9"/><circle cx="418.3" cy="288.3" r="0.95"/><circle cx="416.9" cy="280.6" r="0.93"/><circle cx="416.6" cy="290.8" r="0.93"/><circle cx="428.9" cy="279.9" r="1.04"/><circle cx="417.5" cy="279.2" r="0.94"/><circle cx="415.4" cy="293.7" r="0.92"/><circle cx="415.7" cy="284.4" r="0.92"/><circle cx="420.3" cy="294.0" r="0.96"/><circle cx="413.8" cy="288.8" r="0.91"/><circle cx="420.8" cy="284.9" r="0.97"/><circle cx="420.8" cy="286.5" r="0.97"/><circle cx="425.1" cy="285.2" r="1.01"/><circle cx="419.1" cy="288.8" r="0.95"/><circle cx="417.4" cy="279.8" r="0.94"/><circle cx="417.9" cy="285.5" r="0.94"/><circle cx="419.4" cy="287.0" r="0.96"/><circle cx="431.8" cy="284.5" r="1.07"/><circle cx="417.6" cy="286.5" r="0.94"/><circle cx="422.3" cy="283.6" r="0.98"/><circle cx="415.1" cy="291.9" r="0.92"/><circle cx="415.8" cy="291.7" r="0.92"/><circle cx="429.1" cy="285.6" r="1.04"/><circle cx="418.9" cy="282.9" r="0.95"/><circle cx="423.2" cy="266.8" r="0.99"/><circle cx="433.3" cy="273.0" r="1.08"/><circle cx="420.1" cy="261.4" r="0.96"/><circle cx="421.7" cy="261.7" r="0.98"/><circle cx="443.6" cy="264.0" r="1.18"/><circle cx="423.9" cy="259.0" r="1.0"/><circle cx="426.1" cy="269.0" r="1.02"/><circle cx="428.1" cy="276.5" r="1.03"/><circle cx="427.2" cy="264.3" r="1.03"/><circle cx="417.5" cy="267.9" r="0.94"/><circle cx="429.3" cy="262.9" r="1.05"/><circle cx="415.7" cy="268.7" r="0.92"/><circle cx="421.2" cy="274.3" r="0.97"/><circle cx="427.3" cy="260.0" r="1.03"/><circle cx="426.7" cy="262.1" r="1.02"/><circle cx="423.8" cy="265.4" r="1.0"/><circle cx="427.2" cy="265.9" r="1.03"/><circle cx="417.8" cy="265.0" r="0.94"/><circle cx="414.4" cy="274.9" r="0.91"/><circle cx="425.1" cy="273.4" r="1.01"/><circle cx="419.1" cy="278.7" r="0.95"/><circle cx="418.4" cy="258.8" r="0.95"/><circle cx="421.9" cy="258.6" r="0.98"/><circle cx="428.4" cy="264.2" r="1.04"/><circle cx="433.2" cy="276.7" r="1.08"/><circle cx="423.4" cy="268.9" r="0.99"/><circle cx="440.6" cy="269.7" r="1.15"/><circle cx="422.2" cy="278.1" r="0.98"/><circle cx="420.5" cy="262.6" r="0.97"/><circle cx="424.9" cy="265.3" r="1.01"/><circle cx="423.3" cy="252.0" r="0.99"/><circle cx="423.4" cy="240.9" r="0.99"/><circle cx="431.7" cy="245.1" r="1.07"/><circle cx="427.2" cy="253.4" r="1.03"/><circle cx="426.2" cy="251.0" r="1.02"/><circle cx="425.1" cy="257.0" r="1.01"/><circle cx="426.7" cy="239.6" r="1.02"/><circle cx="422.1" cy="252.7" r="0.98"/><circle cx="426.9" cy="234.0" r="1.02"/><circle cx="426.2" cy="252.2" r="1.02"/><circle cx="428.2" cy="244.2" r="1.04"/><circle cx="431.9" cy="248.3" r="1.07"/><circle cx="429.6" cy="234.8" r="1.05"/><circle cx="416.3" cy="257.1" r="0.93"/><circle cx="420.7" cy="248.6" r="0.97"/><circle cx="424.8" cy="246.9" r="1.0"/><circle cx="428.0" cy="217.1" r="1.03"/><circle cx="428.8" cy="212.6" r="1.04"/><circle cx="422.3" cy="192.5" r="0.98"/><circle cx="429.4" cy="183.1" r="1.05"/><circle cx="425.8" cy="221.5" r="1.01"/><circle cx="426.0" cy="184.2" r="1.02"/><circle cx="425.6" cy="188.9" r="1.01"/><circle cx="421.9" cy="220.4" r="0.98"/><circle cx="424.3" cy="225.2" r="1.0"/><circle cx="431.3" cy="177.6" r="1.0"/><circle cx="454.7" cy="259.8" r="1.2"/><circle cx="458.0" cy="269.2" r="1.2"/><circle cx="461.8" cy="266.9" r="1.25"/><circle cx="446.3" cy="271.3" r="1.15"/><circle cx="442.0" cy="280.9" r="1.1"/><circle cx="439.4" cy="288.5" r="1.1"/><circle cx="450.9" cy="292.9" r="1.15"/><circle cx="434.4" cy="296.7" r="1.05"/></g><g fill="#0000ff"><circle cx="84.8" cy="41.5" r="1.44"/><circle cx="102.4" cy="62.7" r="1.31"/><circle cx="83.5" cy="72.9" r="1.45"/><circle cx="100.5" cy="73.4" r="1.32"/><circle cx="117.9" cy="92.3" r="1.19"/><circle cx="118.4" cy="93.1" r="1.18"/><circle cx="101.7" cy="95.0" r="1.31"/><circle cx="107.6" cy="96.6" r="1.27"/><circle cx="109.5" cy="99.7" r="1.25"/><circle cx="118.7" cy="100.8" r="1.18"/><circle cx="88.7" cy="110.5" r="1.41"/><circle cx="125.5" cy="115.2" r="1.13"/><circle cx="97.4" cy="122.8" r="1.34"/><circle cx="104.5" cy="121.2" r="1.29"/><circle cx="103.9" cy="123.6" r="1.29"/><circle cx="88.1" cy="127.4" r="1.42"/><circle cx="100.4" cy="131.9" r="1.32"/><circle cx="77.4" cy="137.8" r="1.5"/><circle cx="94.6" cy="136.7" r="1.37"/><circle cx="100.4" cy="138.9" r="1.32"/><circle cx="108.0" cy="140.1" r="1.26"/><circle cx="115.9" cy="138.6" r="1.2"/><circle cx="116.3" cy="139.7" r="1.2"/><circle cx="121.1" cy="136.7" r="1.16"/><circle cx="123.4" cy="137.3" r="1.14"/><circle cx="120.0" cy="140.5" r="1.17"/><circle cx="72.1" cy="148.3" r="1.54"/><circle cx="80.8" cy="146.4" r="1.47"/><circle cx="82.4" cy="147.1" r="1.46"/><circle cx="83.2" cy="148.0" r="1.45"/><circle cx="87.5" cy="144.9" r="1.42"/><circle cx="101.3" cy="146.3" r="1.31"/><circle cx="108.4" cy="147.1" r="1.26"/><circle cx="111.3" cy="147.1" r="1.24"/><circle cx="115.5" cy="146.8" r="1.21"/><circle cx="117.9" cy="146.8" r="1.19"/><circle cx="105.0" cy="149.1" r="1.29"/><circle cx="121.8" cy="148.7" r="1.16"/><circle cx="120.6" cy="266.5" r="1.17"/><circle cx="132.2" cy="264.9" r="1.08"/><circle cx="77.3" cy="261.4" r="1.5"/><circle cx="94.1" cy="263.7" r="1.37"/><circle cx="129.4" cy="259.2" r="1.1"/><circle cx="104.5" cy="263.9" r="1.29"/><circle cx="128.9" cy="260.1" r="1.1"/><circle cx="102.9" cy="259.5" r="1.3"/><circle cx="114.0" cy="263.0" r="1.22"/><circle cx="126.6" cy="257.7" r="1.12"/><circle cx="131.8" cy="264.5" r="1.08"/><circle cx="129.4" cy="262.8" r="1.1"/><circle cx="100.8" cy="256.7" r="1.32"/><circle cx="122.8" cy="263.1" r="1.15"/><circle cx="127.0" cy="256.6" r="1.12"/><circle cx="119.6" cy="264.3" r="1.17"/><circle cx="101.8" cy="253.8" r="1.31"/><circle cx="130.8" cy="266.8" r="1.09"/><circle cx="126.5" cy="267.2" r="1.12"/><circle cx="117.7" cy="256.9" r="1.19"/><circle cx="118.5" cy="263.8" r="1.18"/><circle cx="123.2" cy="259.2" r="1.15"/><circle cx="116.8" cy="259.4" r="1.2"/><circle cx="109.5" cy="263.0" r="1.25"/><circle cx="111.0" cy="262.1" r="1.24"/><circle cx="114.8" cy="263.9" r="1.21"/><circle cx="120.0" cy="264.6" r="1.17"/><circle cx="132.8" cy="256.3" r="1.07"/><circle cx="127.7" cy="257.7" r="1.11"/><circle cx="120.6" cy="261.0" r="1.17"/><circle cx="109.8" cy="255.3" r="1.25"/><circle cx="117.6" cy="262.6" r="1.19"/><circle cx="124.5" cy="260.8" r="1.14"/><circle cx="117.3" cy="266.5" r="1.19"/><circle cx="122.3" cy="262.7" r="1.15"/><circle cx="114.4" cy="256.4" r="1.21"/><circle cx="123.9" cy="259.1" r="1.14"/><circle cx="127.2" cy="256.9" r="1.12"/><circle cx="121.7" cy="259.9" r="1.16"/><circle cx="129.2" cy="260.0" r="1.1"/><circle cx="113.5" cy="264.2" r="1.22"/><circle cx="121.1" cy="256.8" r="1.16"/><circle cx="129.1" cy="257.6" r="1.1"/><circle cx="96.9" cy="264.1" r="1.35"/><circle cx="121.9" cy="266.5" r="1.16"/><circle cx="109.6" cy="256.8" r="1.25"/><circle cx="120.2" cy="257.6" r="1.17"/><circle cx="114.8" cy="256.2" r="1.21"/><circle cx="126.8" cy="258.7" r="1.12"/><circle cx="133.1" cy="256.4" r="1.07"/><circle cx="113.5" cy="265.0" r="1.22"/><circle cx="124.8" cy="258.5" r="1.13"/><circle cx="127.2" cy="259.6" r="1.12"/><circle cx="117.6" cy="260.9" r="1.19"/><circle cx="128.5" cy="262.1" r="1.11"/><circle cx="69.2" cy="257.4" r="1.56"/><circle cx="132.8" cy="259.6" r="1.07"/><circle cx="112.5" cy="262.5" r="1.23"/><circle cx="109.0" cy="263.9" r="1.26"/><circle cx="127.8" cy="258.5" r="1.11"/><circle cx="123.0" cy="264.2" r="1.15"/><circle cx="130.3" cy="257.9" r="1.09"/><circle cx="123.5" cy="254.7" r="1.14"/><circle cx="95.4" cy="255.9" r="1.36"/><circle cx="126.9" cy="254.4" r="1.12"/><circle cx="127.2" cy="264.4" r="1.12"/><circle cx="118.5" cy="260.9" r="1.18"/><circle cx="105.1" cy="264.9" r="1.29"/><circle cx="123.5" cy="263.9" r="1.14"/><circle cx="122.6" cy="263.6" r="1.15"/><circle cx="130.0" cy="263.1" r="1.09"/><circle cx="131.6" cy="259.7" r="1.08"/><circle cx="125.9" cy="256.3" r="1.13"/><circle cx="107.5" cy="263.8" r="1.27"/><circle cx="126.5" cy="254.8" r="1.12"/><circle cx="124.4" cy="265.9" r="1.14"/><circle cx="94.3" cy="263.1" r="1.37"/><circle cx="122.6" cy="255.1" r="1.15"/><circle cx="127.8" cy="263.4" r="1.11"/><circle cx="131.8" cy="265.5" r="1.08"/><circle cx="116.5" cy="260.5" r="1.2"/><circle cx="131.5" cy="265.4" r="1.08"/><circle cx="106.0" cy="259.5" r="1.28"/><circle cx="130.9" cy="264.0" r="1.09"/><circle cx="121.3" cy="263.6" r="1.16"/><circle cx="103.3" cy="264.5" r="1.3"/><circle cx="132.5" cy="263.5" r="1.07"/><circle cx="87.2" cy="254.9" r="1.42"/><circle cx="132.3" cy="254.2" r="1.08"/><circle cx="118.1" cy="263.8" r="1.19"/><circle cx="123.0" cy="255.0" r="1.15"/><circle cx="130.5" cy="263.0" r="1.09"/><circle cx="129.5" cy="257.5" r="1.1"/><circle cx="123.5" cy="266.2" r="1.14"/><circle cx="123.9" cy="265.2" r="1.14"/><circle cx="118.9" cy="257.9" r="1.18"/><circle cx="128.5" cy="263.5" r="1.11"/><circle cx="116.5" cy="264.9" r="1.2"/><circle cx="115.9" cy="262.8" r="1.2"/><circle cx="107.9" cy="254.7" r="1.26"/><circle cx="121.3" cy="263.7" r="1.16"/><circle cx="91.7" cy="254.2" r="1.39"/><circle cx="114.7" cy="254.8" r="1.21"/><circle cx="118.0" cy="266.6" r="1.19"/><circle cx="116.3" cy="261.0" r="1.2"/><circle cx="130.6" cy="264.7" r="1.09"/><circle cx="117.1" cy="258.7" r="1.19"/><circle cx="128.7" cy="258.0" r="1.1"/><circle cx="112.5" cy="256.8" r="1.23"/><circle cx="107.9" cy="260.6" r="1.26"/><circle cx="117.7" cy="259.0" r="1.19"/><circle cx="126.0" cy="260.0" r="1.12"/><circle cx="132.8" cy="261.8" r="1.07"/><circle cx="120.5" cy="260.1" r="1.17"/><circle cx="128.6" cy="263.1" r="1.1"/><circle cx="122.3" cy="264.2" r="1.15"/><circle cx="106.0" cy="261.3" r="1.28"/><circle cx="123.0" cy="257.7" r="1.15"/><circle cx="120.6" cy="265.9" r="1.17"/><circle cx="129.2" cy="253.8" r="1.1"/><circle cx="110.8" cy="261.9" r="1.24"/><circle cx="107.5" cy="260.4" r="1.27"/><circle cx="125.5" cy="266.8" r="1.13"/><circle cx="126.1" cy="260.2" r="1.12"/><circle cx="128.1" cy="257.9" r="1.11"/><circle cx="100.2" cy="257.9" r="1.32"/><circle cx="118.0" cy="266.4" r="1.19"/><circle cx="106.9" cy="255.2" r="1.27"/><circle cx="122.1" cy="255.7" r="1.15"/><circle cx="112.9" cy="257.5" r="1.23"/><circle cx="133.0" cy="254.9" r="1.07"/><circle cx="126.4" cy="266.7" r="1.12"/><circle cx="127.2" cy="258.0" r="1.12"/><circle cx="109.1" cy="255.8" r="1.25"/><circle cx="127.2" cy="258.5" r="1.12"/><circle cx="119.4" cy="257.5" r="1.18"/><circle cx="130.7" cy="260.2" r="1.09"/><circle cx="107.8" cy="260.5" r="1.26"/><circle cx="122.2" cy="257.8" r="1.15"/><circle cx="124.9" cy="257.7" r="1.13"/><circle cx="132.0" cy="257.8" r="1.08"/><circle cx="129.6" cy="255.7" r="1.1"/><circle cx="125.2" cy="257.0" r="1.13"/><circle cx="120.0" cy="260.8" r="1.17"/><circle cx="132.4" cy="263.0" r="1.08"/><circle cx="114.5" cy="265.0" r="1.21"/><circle cx="124.3" cy="261.9" r="1.14"/><circle cx="131.2" cy="254.4" r="1.08"/><circle cx="129.6" cy="262.3" r="1.1"/><circle cx="117.6" cy="262.5" r="1.19"/><circle cx="111.0" cy="259.8" r="1.24"/><circle cx="119.6" cy="257.7" r="1.17"/><circle cx="133.0" cy="263.6" r="1.07"/><circle cx="128.9" cy="258.6" r="1.1"/><circle cx="126.7" cy="256.6" r="1.12"/><circle cx="121.1" cy="254.1" r="1.16"/><circle cx="121.3" cy="265.8" r="1.16"/><circle cx="131.8" cy="264.5" r="1.08"/><circle cx="130.3" cy="254.9" r="1.09"/><circle cx="124.4" cy="261.5" r="1.14"/><circle cx="119.9" cy="254.6" r="1.17"/><circle cx="122.8" cy="259.1" r="1.15"/><circle cx="123.4" cy="260.0" r="1.14"/><circle cx="100.2" cy="256.0" r="1.32"/><circle cx="130.1" cy="267.3" r="1.09"/><circle cx="131.4" cy="255.0" r="1.08"/><circle cx="130.5" cy="257.8" r="1.09"/><circle cx="128.6" cy="254.5" r="1.1"/><circle cx="107.7" cy="258.8" r="1.27"/><circle cx="110.1" cy="254.8" r="1.25"/><circle cx="119.4" cy="259.8" r="1.18"/><circle cx="110.0" cy="257.2" r="1.25"/><circle cx="120.3" cy="266.3" r="1.17"/><circle cx="101.6" cy="264.3" r="1.31"/><circle cx="113.1" cy="256.2" r="1.22"/><circle cx="119.0" cy="261.7" r="1.18"/><circle cx="130.8" cy="267.3" r="1.09"/><circle cx="126.3" cy="256.0" r="1.12"/><circle cx="132.3" cy="258.7" r="1.08"/><circle cx="119.7" cy="255.8" r="1.17"/><circle cx="132.7" cy="257.9" r="1.07"/><circle cx="113.7" cy="265.3" r="1.22"/><circle cx="126.4" cy="266.4" r="1.12"/><circle cx="130.1" cy="258.0" r="1.09"/><circle cx="126.9" cy="256.1" r="1.12"/><circle cx="130.4" cy="263.0" r="1.09"/><circle cx="114.4" cy="264.3" r="1.21"/><circle cx="130.3" cy="267.2" r="1.09"/><circle cx="132.0" cy="255.6" r="1.08"/><circle cx="119.9" cy="257.4" r="1.17"/><circle cx="129.6" cy="260.9" r="1.1"/><circle cx="132.6" cy="262.3" r="1.07"/><circle cx="122.9" cy="255.0" r="1.15"/><circle cx="127.6" cy="265.6" r="1.11"/><circle cx="126.2" cy="256.5" r="1.12"/><circle cx="130.0" cy="255.5" r="1.09"/><circle cx="121.5" cy="263.5" r="1.16"/><circle cx="132.7" cy="257.2" r="1.07"/><circle cx="87.3" cy="257.3" r="1.42"/><circle cx="124.0" cy="254.5" r="1.14"/><circle cx="108.4" cy="264.4" r="1.26"/><circle cx="132.3" cy="256.2" r="1.08"/><circle cx="127.8" cy="266.6" r="1.11"/><circle cx="117.7" cy="261.4" r="1.19"/><circle cx="121.4" cy="261.2" r="1.16"/><circle cx="109.2" cy="246.6" r="1.25"/><circle cx="131.5" cy="246.6" r="1.08"/><circle cx="118.8" cy="251.9" r="1.18"/><circle cx="131.4" cy="238.5" r="1.08"/><circle cx="103.4" cy="244.6" r="1.3"/><circle cx="129.3" cy="237.6" r="1.1"/><circle cx="129.6" cy="237.5" r="1.1"/><circle cx="123.4" cy="247.4" r="1.14"/><circle cx="131.5" cy="237.6" r="1.08"/><circle cx="118.1" cy="249.7" r="1.19"/><circle cx="81.9" cy="239.7" r="1.46"/><circle cx="125.0" cy="250.8" r="1.13"/><circle cx="127.0" cy="249.8" r="1.12"/><circle cx="106.2" cy="243.1" r="1.28"/><circle cx="123.7" cy="253.0" r="1.14"/><circle cx="127.0" cy="242.5" r="1.12"/><circle cx="123.5" cy="236.1" r="1.14"/><circle cx="130.8" cy="242.8" r="1.09"/><circle cx="122.2" cy="244.2" r="1.15"/><circle cx="123.4" cy="238.2" r="1.14"/><circle cx="129.2" cy="248.0" r="1.1"/><circle cx="102.8" cy="236.9" r="1.3"/><circle cx="107.3" cy="237.9" r="1.27"/><circle cx="124.8" cy="241.3" r="1.13"/><circle cx="127.1" cy="248.5" r="1.12"/><circle cx="126.0" cy="249.4" r="1.12"/><circle cx="99.2" cy="247.8" r="1.33"/><circle cx="111.5" cy="253.4" r="1.24"/><circle cx="119.2" cy="245.8" r="1.18"/><circle cx="131.4" cy="243.6" r="1.08"/><circle cx="90.3" cy="236.8" r="1.4"/><circle cx="106.6" cy="237.4" r="1.27"/><circle cx="128.0" cy="245.6" r="1.11"/><circle cx="103.9" cy="237.8" r="1.29"/><circle cx="85.6" cy="238.8" r="1.44"/><circle cx="104.6" cy="248.1" r="1.29"/><circle cx="124.7" cy="250.1" r="1.13"/><circle cx="111.7" cy="240.2" r="1.23"/><circle cx="113.7" cy="241.0" r="1.22"/><circle cx="110.8" cy="244.9" r="1.24"/><circle cx="110.6" cy="243.4" r="1.24"/><circle cx="128.8" cy="243.5" r="1.1"/><circle cx="129.2" cy="241.4" r="1.1"/><circle cx="114.9" cy="245.5" r="1.21"/><circle cx="114.3" cy="248.7" r="1.21"/><circle cx="102.1" cy="250.3" r="1.31"/><circle cx="129.5" cy="236.6" r="1.1"/><circle cx="122.7" cy="236.5" r="1.15"/><circle cx="110.6" cy="244.7" r="1.24"/><circle cx="128.3" cy="246.3" r="1.11"/><circle cx="118.3" cy="236.9" r="1.18"/><circle cx="131.3" cy="238.1" r="1.08"/><circle cx="128.8" cy="242.8" r="1.1"/><circle cx="107.2" cy="249.0" r="1.27"/><circle cx="113.0" cy="247.1" r="1.22"/><circle cx="131.0" cy="247.6" r="1.09"/><circle cx="123.1" cy="240.2" r="1.15"/><circle cx="129.8" cy="242.4" r="1.1"/><circle cx="115.5" cy="250.3" r="1.21"/><circle cx="128.3" cy="238.4" r="1.11"/><circle cx="124.0" cy="239.1" r="1.14"/><circle cx="100.3" cy="245.7" r="1.32"/><circle cx="115.6" cy="237.6" r="1.2"/><circle cx="129.1" cy="237.2" r="1.1"/><circle cx="130.1" cy="238.5" r="1.09"/><circle cx="107.3" cy="239.0" r="1.27"/><circle cx="129.4" cy="237.9" r="1.1"/><circle cx="117.2" cy="242.8" r="1.19"/><circle cx="122.7" cy="253.2" r="1.15"/><circle cx="90.8" cy="253.1" r="1.4"/><circle cx="104.8" cy="237.5" r="1.29"/><circle cx="127.5" cy="237.5" r="1.11"/><circle cx="106.8" cy="249.9" r="1.27"/><circle cx="118.5" cy="246.5" r="1.18"/><circle cx="108.9" cy="235.9" r="1.26"/><circle cx="125.3" cy="242.1" r="1.13"/><circle cx="115.7" cy="238.1" r="1.2"/><circle cx="116.5" cy="236.7" r="1.2"/><circle cx="122.2" cy="239.3" r="1.15"/><circle cx="119.2" cy="248.2" r="1.18"/><circle cx="107.1" cy="248.1" r="1.27"/><circle cx="112.8" cy="236.8" r="1.23"/><circle cx="113.9" cy="250.7" r="1.22"/><circle cx="120.6" cy="237.3" r="1.17"/><circle cx="124.8" cy="243.0" r="1.13"/><circle cx="132.5" cy="237.3" r="1.07"/><circle cx="122.0" cy="236.3" r="1.16"/><circle cx="88.0" cy="250.7" r="1.42"/><circle cx="116.8" cy="253.5" r="1.2"/><circle cx="122.8" cy="249.6" r="1.15"/><circle cx="125.7" cy="247.1" r="1.13"/><circle cx="127.2" cy="251.0" r="1.12"/><circle cx="112.4" cy="239.7" r="1.23"/><circle cx="127.5" cy="243.4" r="1.11"/><circle cx="107.8" cy="241.0" r="1.26"/><circle cx="130.2" cy="244.6" r="1.09"/><circle cx="124.1" cy="252.4" r="1.14"/><circle cx="128.7" cy="238.7" r="1.1"/><circle cx="123.0" cy="253.0" r="1.15"/><circle cx="112.8" cy="237.0" r="1.23"/><circle cx="115.2" cy="253.3" r="1.21"/><circle cx="115.2" cy="241.4" r="1.21"/><circle cx="128.9" cy="237.0" r="1.1"/><circle cx="114.1" cy="251.1" r="1.22"/><circle cx="114.7" cy="248.6" r="1.21"/><circle cx="90.5" cy="242.4" r="1.4"/><circle cx="104.7" cy="239.4" r="1.29"/><circle cx="116.1" cy="241.8" r="1.2"/><circle cx="128.3" cy="249.7" r="1.11"/><circle cx="123.4" cy="241.9" r="1.14"/><circle cx="125.1" cy="242.7" r="1.13"/><circle cx="126.0" cy="243.8" r="1.12"/><circle cx="119.2" cy="247.1" r="1.18"/><circle cx="127.1" cy="244.2" r="1.12"/><circle cx="123.3" cy="250.6" r="1.15"/><circle cx="120.2" cy="237.8" r="1.17"/><circle cx="121.5" cy="242.0" r="1.16"/><circle cx="107.4" cy="238.5" r="1.27"/><circle cx="129.2" cy="250.7" r="1.1"/><circle cx="110.4" cy="242.8" r="1.24"/><circle cx="113.3" cy="240.7" r="1.22"/><circle cx="107.4" cy="238.0" r="1.27"/><circle cx="101.3" cy="241.7" r="1.31"/><circle cx="130.4" cy="248.7" r="1.09"/><circle cx="102.4" cy="237.2" r="1.31"/><circle cx="122.3" cy="248.6" r="1.15"/><circle cx="133.1" cy="249.4" r="1.07"/><circle cx="105.6" cy="246.1" r="1.28"/><circle cx="111.5" cy="242.4" r="1.24"/><circle cx="116.8" cy="244.2" r="1.2"/><circle cx="129.9" cy="253.5" r="1.09"/><circle cx="93.1" cy="251.9" r="1.38"/><circle cx="127.7" cy="239.4" r="1.11"/><circle cx="131.3" cy="250.5" r="1.08"/><circle cx="132.1" cy="241.5" r="1.08"/><circle cx="126.5" cy="239.0" r="1.12"/><circle cx="110.5" cy="243.8" r="1.24"/><circle cx="128.5" cy="245.6" r="1.11"/><circle cx="129.0" cy="238.5" r="1.1"/><circle cx="92.9" cy="239.5" r="1.38"/><circle cx="111.4" cy="236.3" r="1.24"/><circle cx="101.7" cy="235.5" r="1.31"/><circle cx="131.2" cy="236.0" r="1.08"/><circle cx="129.3" cy="250.9" r="1.1"/><circle cx="111.0" cy="250.7" r="1.24"/><circle cx="114.0" cy="250.5" r="1.22"/><circle cx="129.5" cy="246.3" r="1.1"/><circle cx="129.9" cy="251.8" r="1.09"/><circle cx="114.1" cy="250.4" r="1.22"/><circle cx="101.7" cy="243.0" r="1.31"/><circle cx="130.0" cy="252.8" r="1.09"/><circle cx="72.1" cy="251.2" r="1.54"/><circle cx="125.8" cy="245.4" r="1.13"/><circle cx="94.0" cy="237.2" r="1.37"/><circle cx="123.5" cy="243.0" r="1.14"/><circle cx="123.4" cy="238.0" r="1.14"/><circle cx="109.6" cy="243.7" r="1.25"/><circle cx="118.9" cy="240.3" r="1.18"/><circle cx="118.7" cy="250.0" r="1.18"/><circle cx="109.9" cy="237.5" r="1.25"/><circle cx="130.7" cy="251.2" r="1.09"/><circle cx="122.5" cy="241.0" r="1.15"/><circle cx="132.8" cy="246.3" r="1.07"/><circle cx="118.3" cy="238.2" r="1.18"/><circle cx="115.3" cy="236.6" r="1.21"/><circle cx="125.4" cy="253.5" r="1.13"/><circle cx="121.0" cy="245.5" r="1.16"/><circle cx="121.1" cy="241.0" r="1.16"/><circle cx="116.0" cy="244.6" r="1.2"/><circle cx="129.9" cy="248.9" r="1.09"/><circle cx="123.3" cy="238.8" r="1.15"/><circle cx="105.6" cy="253.0" r="1.28"/><circle cx="112.5" cy="237.8" r="1.23"/><circle cx="96.9" cy="235.6" r="1.35"/><circle cx="126.5" cy="249.7" r="1.12"/><circle cx="125.8" cy="236.9" r="1.13"/><circle cx="123.5" cy="241.7" r="1.14"/><circle cx="127.5" cy="246.7" r="1.11"/><circle cx="123.7" cy="242.9" r="1.14"/><circle cx="92.4" cy="243.4" r="1.38"/><circle cx="110.4" cy="249.8" r="1.24"/><circle cx="132.1" cy="247.3" r="1.08"/><circle cx="112.5" cy="241.6" r="1.23"/><circle cx="122.1" cy="252.0" r="1.15"/><circle cx="126.0" cy="241.2" r="1.12"/><circle cx="125.9" cy="251.1" r="1.13"/><circle cx="113.7" cy="238.9" r="1.22"/><circle cx="113.0" cy="240.2" r="1.22"/><circle cx="96.6" cy="238.0" r="1.35"/><circle cx="109.8" cy="249.3" r="1.25"/><circle cx="65.6" cy="237.1" r="1.59"/><circle cx="92.2" cy="248.6" r="1.38"/><circle cx="118.8" cy="249.1" r="1.18"/><circle cx="105.9" cy="248.2" r="1.28"/><circle cx="129.5" cy="244.8" r="1.1"/><circle cx="107.2" cy="243.5" r="1.27"/><circle cx="109.5" cy="240.7" r="1.25"/><circle cx="113.0" cy="253.7" r="1.22"/><circle cx="81.4" cy="244.7" r="1.47"/><circle cx="132.9" cy="252.8" r="1.07"/><circle cx="128.7" cy="236.3" r="1.1"/><circle cx="110.1" cy="247.1" r="1.25"/><circle cx="128.8" cy="239.0" r="1.1"/><circle cx="113.5" cy="245.5" r="1.22"/><circle cx="117.0" cy="236.0" r="1.19"/><circle cx="123.7" cy="236.8" r="1.14"/><circle cx="114.9" cy="242.8" r="1.21"/><circle cx="111.8" cy="241.4" r="1.23"/><circle cx="118.6" cy="236.7" r="1.18"/><circle cx="133.1" cy="252.6" r="1.07"/><circle cx="118.7" cy="250.6" r="1.18"/><circle cx="114.6" cy="241.0" r="1.21"/><circle cx="123.0" cy="250.7" r="1.15"/><circle cx="121.9" cy="244.0" r="1.16"/><circle cx="115.9" cy="235.9" r="1.2"/><circle cx="114.3" cy="239.5" r="1.21"/><circle cx="106.0" cy="247.2" r="1.28"/><circle cx="123.7" cy="240.8" r="1.14"/><circle cx="122.9" cy="236.2" r="1.15"/><circle cx="128.7" cy="237.1" r="1.1"/><circle cx="121.9" cy="240.2" r="1.16"/><circle cx="120.5" cy="247.8" r="1.17"/><circle cx="123.8" cy="245.9" r="1.14"/><circle cx="108.3" cy="245.4" r="1.26"/><circle cx="107.7" cy="249.8" r="1.27"/><circle cx="131.6" cy="236.4" r="1.08"/><circle cx="120.9" cy="242.4" r="1.16"/><circle cx="119.8" cy="248.4" r="1.17"/><circle cx="102.1" cy="243.7" r="1.31"/><circle cx="132.6" cy="239.8" r="1.07"/><circle cx="126.3" cy="250.9" r="1.12"/><circle cx="122.9" cy="253.5" r="1.15"/><circle cx="108.4" cy="251.5" r="1.26"/><circle cx="122.8" cy="249.3" r="1.15"/><circle cx="104.1" cy="238.1" r="1.29"/><circle cx="116.8" cy="245.3" r="1.2"/><circle cx="116.6" cy="241.6" r="1.2"/><circle cx="104.1" cy="249.2" r="1.29"/><circle cx="120.0" cy="246.4" r="1.17"/><circle cx="88.7" cy="244.3" r="1.41"/><circle cx="122.6" cy="251.8" r="1.15"/><circle cx="131.0" cy="238.4" r="1.09"/><circle cx="106.1" cy="241.0" r="1.28"/><circle cx="130.5" cy="239.9" r="1.09"/><circle cx="129.5" cy="238.5" r="1.1"/><circle cx="107.6" cy="251.2" r="1.27"/><circle cx="123.5" cy="242.9" r="1.14"/><circle cx="127.6" cy="250.8" r="1.11"/><circle cx="124.9" cy="239.1" r="1.13"/><circle cx="105.8" cy="239.7" r="1.28"/><circle cx="107.4" cy="241.2" r="1.27"/><circle cx="120.2" cy="249.6" r="1.17"/><circle cx="132.1" cy="245.6" r="1.08"/><circle cx="112.9" cy="239.5" r="1.23"/><circle cx="129.1" cy="245.0" r="1.1"/><circle cx="130.2" cy="248.1" r="1.09"/><circle cx="133.0" cy="245.2" r="1.07"/><circle cx="129.5" cy="239.5" r="1.1"/><circle cx="123.3" cy="247.1" r="1.15"/><circle cx="110.6" cy="245.1" r="1.24"/><circle cx="122.0" cy="238.2" r="1.16"/><circle cx="129.4" cy="236.2" r="1.1"/><circle cx="130.4" cy="237.5" r="1.09"/><circle cx="132.1" cy="237.9" r="1.08"/><circle cx="125.4" cy="241.4" r="1.13"/><circle cx="125.7" cy="244.2" r="1.13"/><circle cx="105.9" cy="246.9" r="1.28"/><circle cx="119.2" cy="246.0" r="1.18"/><circle cx="117.1" cy="242.4" r="1.19"/><circle cx="119.2" cy="242.4" r="1.18"/><circle cx="111.8" cy="244.0" r="1.23"/><circle cx="109.7" cy="235.1" r="1.25"/><circle cx="114.7" cy="216.0" r="1.21"/><circle cx="124.2" cy="227.4" r="1.14"/><circle cx="128.7" cy="229.9" r="1.1"/><circle cx="131.0" cy="222.8" r="1.09"/><circle cx="132.3" cy="215.9" r="1.08"/><circle cx="126.4" cy="218.9" r="1.12"/><circle cx="121.6" cy="230.2" r="1.16"/><circle cx="123.2" cy="214.7" r="1.15"/><circle cx="105.9" cy="222.6" r="1.28"/><circle cx="126.4" cy="234.2" r="1.12"/><circle cx="120.1" cy="222.1" r="1.17"/><circle cx="102.3" cy="213.9" r="1.31"/><circle cx="119.2" cy="235.1" r="1.18"/><circle cx="120.6" cy="227.7" r="1.17"/><circle cx="119.2" cy="232.2" r="1.18"/><circle cx="117.7" cy="227.4" r="1.19"/><circle cx="131.9" cy="219.3" r="1.08"/><circle cx="106.4" cy="224.3" r="1.28"/><circle cx="113.4" cy="224.1" r="1.22"/><circle cx="89.7" cy="216.7" r="1.4"/><circle cx="128.9" cy="229.1" r="1.1"/><circle cx="119.3" cy="226.3" r="1.18"/><circle cx="129.7" cy="227.0" r="1.1"/><circle cx="92.2" cy="224.1" r="1.38"/><circle cx="125.5" cy="216.4" r="1.13"/><circle cx="116.5" cy="226.6" r="1.2"/><circle cx="122.2" cy="223.0" r="1.15"/><circle cx="130.0" cy="213.4" r="1.09"/><circle cx="127.0" cy="232.2" r="1.12"/><circle cx="114.1" cy="231.8" r="1.22"/><circle cx="70.4" cy="215.9" r="1.55"/><circle cx="109.3" cy="234.5" r="1.25"/><circle cx="115.4" cy="213.8" r="1.21"/><circle cx="104.3" cy="228.0" r="1.29"/><circle cx="124.8" cy="234.5" r="1.13"/><circle cx="121.2" cy="217.7" r="1.16"/><circle cx="112.2" cy="219.6" r="1.23"/><circle cx="106.2" cy="226.5" r="1.28"/><circle cx="131.0" cy="232.7" r="1.09"/><circle cx="130.9" cy="232.0" r="1.09"/><circle cx="103.8" cy="215.8" r="1.3"/><circle cx="112.8" cy="231.0" r="1.23"/><circle cx="116.4" cy="218.1" r="1.2"/><circle cx="113.2" cy="216.9" r="1.22"/><circle cx="120.1" cy="227.2" r="1.17"/><circle cx="113.9" cy="227.6" r="1.22"/><circle cx="132.2" cy="216.8" r="1.08"/><circle cx="101.1" cy="229.2" r="1.32"/><circle cx="102.1" cy="214.6" r="1.31"/><circle cx="126.5" cy="233.6" r="1.12"/><circle cx="116.2" cy="221.4" r="1.2"/><circle cx="130.6" cy="235.2" r="1.09"/><circle cx="109.3" cy="231.4" r="1.25"/><circle cx="104.4" cy="234.4" r="1.29"/><circle cx="129.5" cy="225.7" r="1.1"/><circle cx="94.4" cy="217.8" r="1.37"/><circle cx="104.8" cy="216.5" r="1.29"/><circle cx="97.0" cy="231.9" r="1.35"/><circle cx="132.8" cy="221.0" r="1.07"/><circle cx="118.6" cy="221.0" r="1.18"/><circle cx="124.1" cy="222.3" r="1.14"/><circle cx="127.3" cy="218.2" r="1.11"/><circle cx="119.7" cy="225.4" r="1.17"/><circle cx="109.0" cy="218.4" r="1.26"/><circle cx="94.8" cy="214.5" r="1.36"/><circle cx="133.0" cy="213.6" r="1.07"/><circle cx="125.4" cy="233.7" r="1.13"/><circle cx="102.4" cy="234.8" r="1.31"/><circle cx="102.4" cy="213.9" r="1.31"/><circle cx="110.4" cy="224.7" r="1.24"/><circle cx="123.5" cy="219.7" r="1.14"/><circle cx="109.9" cy="221.0" r="1.25"/><circle cx="108.1" cy="219.2" r="1.26"/><circle cx="123.9" cy="223.5" r="1.14"/><circle cx="132.1" cy="216.7" r="1.08"/><circle cx="129.2" cy="216.0" r="1.1"/><circle cx="91.8" cy="220.8" r="1.39"/><circle cx="119.3" cy="215.7" r="1.18"/><circle cx="113.4" cy="223.4" r="1.22"/><circle cx="130.1" cy="225.9" r="1.09"/><circle cx="85.7" cy="220.0" r="1.43"/><circle cx="131.0" cy="215.5" r="1.09"/><circle cx="122.8" cy="232.0" r="1.15"/><circle cx="104.9" cy="224.7" r="1.29"/><circle cx="99.5" cy="216.7" r="1.33"/><circle cx="131.5" cy="234.1" r="1.08"/><circle cx="128.8" cy="226.6" r="1.1"/><circle cx="108.8" cy="215.8" r="1.26"/><circle cx="119.5" cy="212.9" r="1.17"/><circle cx="131.2" cy="213.1" r="1.08"/><circle cx="96.0" cy="223.7" r="1.36"/><circle cx="121.8" cy="217.8" r="1.16"/><circle cx="110.8" cy="219.5" r="1.24"/><circle cx="117.2" cy="215.3" r="1.19"/><circle cx="110.5" cy="215.9" r="1.24"/><circle cx="131.7" cy="230.5" r="1.08"/><circle cx="86.6" cy="225.7" r="1.43"/><circle cx="101.2" cy="218.6" r="1.32"/><circle cx="97.3" cy="224.4" r="1.35"/><circle cx="129.2" cy="213.7" r="1.1"/><circle cx="113.1" cy="228.5" r="1.22"/><circle cx="125.4" cy="230.9" r="1.13"/><circle cx="125.5" cy="228.3" r="1.13"/><circle cx="112.8" cy="224.1" r="1.23"/><circle cx="127.3" cy="231.9" r="1.11"/><circle cx="121.4" cy="214.5" r="1.16"/><circle cx="131.6" cy="233.7" r="1.08"/><circle cx="117.8" cy="228.3" r="1.19"/><circle cx="114.4" cy="228.0" r="1.21"/><circle cx="124.1" cy="226.7" r="1.14"/><circle cx="119.2" cy="229.5" r="1.18"/><circle cx="109.3" cy="231.4" r="1.25"/><circle cx="126.2" cy="219.1" r="1.12"/><circle cx="122.9" cy="225.8" r="1.15"/><circle cx="116.1" cy="216.4" r="1.2"/><circle cx="118.0" cy="213.1" r="1.19"/><circle cx="123.5" cy="232.2" r="1.14"/><circle cx="132.3" cy="224.3" r="1.08"/><circle cx="116.8" cy="222.4" r="1.2"/><circle cx="125.3" cy="214.2" r="1.13"/><circle cx="103.3" cy="216.6" r="1.3"/><circle cx="128.3" cy="235.5" r="1.11"/><circle cx="113.7" cy="225.5" r="1.22"/><circle cx="133.0" cy="227.7" r="1.07"/><circle cx="127.6" cy="233.1" r="1.11"/><circle cx="121.6" cy="218.0" r="1.16"/><circle cx="89.6" cy="221.8" r="1.4"/><circle cx="115.1" cy="228.1" r="1.21"/><circle cx="130.4" cy="219.4" r="1.09"/><circle cx="131.2" cy="225.6" r="1.08"/><circle cx="111.5" cy="227.7" r="1.24"/><circle cx="117.1" cy="234.0" r="1.19"/><circle cx="102.9" cy="230.2" r="1.3"/><circle cx="129.8" cy="222.6" r="1.1"/><circle cx="100.3" cy="230.7" r="1.32"/><circle cx="132.1" cy="218.3" r="1.08"/><circle cx="133.1" cy="215.5" r="1.07"/><circle cx="123.6" cy="234.7" r="1.14"/><circle cx="124.2" cy="224.2" r="1.14"/><circle cx="117.8" cy="225.8" r="1.19"/><circle cx="110.7" cy="224.4" r="1.24"/><circle cx="130.6" cy="233.7" r="1.09"/><circle cx="122.1" cy="227.9" r="1.15"/><circle cx="87.5" cy="225.6" r="1.42"/><circle cx="130.2" cy="221.8" r="1.09"/><circle cx="126.4" cy="229.5" r="1.12"/><circle cx="131.7" cy="225.0" r="1.08"/><circle cx="121.8" cy="214.6" r="1.16"/><circle cx="77.3" cy="219.8" r="1.5"/><circle cx="125.7" cy="219.9" r="1.13"/><circle cx="107.4" cy="219.8" r="1.27"/><circle cx="111.5" cy="222.6" r="1.24"/><circle cx="115.3" cy="219.6" r="1.21"/><circle cx="126.8" cy="235.0" r="1.12"/><circle cx="118.3" cy="219.9" r="1.18"/><circle cx="128.5" cy="228.7" r="1.11"/><circle cx="127.0" cy="216.8" r="1.12"/><circle cx="92.1" cy="234.7" r="1.39"/><circle cx="124.0" cy="235.4" r="1.14"/><circle cx="115.4" cy="227.6" r="1.21"/><circle cx="118.0" cy="235.5" r="1.19"/><circle cx="127.3" cy="230.1" r="1.11"/><circle cx="131.5" cy="216.9" r="1.08"/><circle cx="123.8" cy="217.7" r="1.14"/><circle cx="132.3" cy="215.8" r="1.08"/><circle cx="119.3" cy="219.9" r="1.18"/><circle cx="93.6" cy="215.2" r="1.37"/><circle cx="113.9" cy="220.8" r="1.22"/><circle cx="124.1" cy="230.3" r="1.14"/><circle cx="126.9" cy="227.5" r="1.12"/><circle cx="125.4" cy="233.5" r="1.13"/><circle cx="127.0" cy="219.2" r="1.12"/><circle cx="116.2" cy="213.4" r="1.2"/><circle cx="130.6" cy="235.0" r="1.09"/><circle cx="118.1" cy="224.9" r="1.19"/><circle cx="93.5" cy="231.8" r="1.37"/><circle cx="130.3" cy="213.9" r="1.09"/><circle cx="122.4" cy="225.1" r="1.15"/><circle cx="95.3" cy="213.5" r="1.36"/><circle cx="102.7" cy="232.2" r="1.3"/><circle cx="119.6" cy="229.6" r="1.17"/><circle cx="90.1" cy="221.1" r="1.4"/><circle cx="124.1" cy="234.3" r="1.14"/><circle cx="131.8" cy="225.8" r="1.08"/><circle cx="92.6" cy="216.0" r="1.38"/><circle cx="92.6" cy="218.3" r="1.38"/><circle cx="114.3" cy="223.3" r="1.21"/><circle cx="122.7" cy="227.8" r="1.15"/><circle cx="130.5" cy="220.8" r="1.09"/><circle cx="110.8" cy="214.0" r="1.24"/><circle cx="120.1" cy="229.6" r="1.17"/><circle cx="118.1" cy="233.5" r="1.19"/><circle cx="123.4" cy="216.5" r="1.14"/><circle cx="102.3" cy="213.9" r="1.31"/><circle cx="109.4" cy="230.0" r="1.25"/><circle cx="126.8" cy="216.2" r="1.12"/><circle cx="125.4" cy="228.2" r="1.13"/><circle cx="117.5" cy="229.3" r="1.19"/><circle cx="115.4" cy="224.9" r="1.21"/><circle cx="120.4" cy="213.7" r="1.17"/><circle cx="131.0" cy="230.7" r="1.09"/><circle cx="117.9" cy="222.4" r="1.19"/><circle cx="131.6" cy="220.6" r="1.08"/><circle cx="101.1" cy="231.5" r="1.32"/><circle cx="93.1" cy="223.2" r="1.38"/><circle cx="109.3" cy="216.7" r="1.25"/><circle cx="114.9" cy="218.9" r="1.21"/><circle cx="102.5" cy="223.7" r="1.31"/><circle cx="97.3" cy="223.1" r="1.35"/><circle cx="119.9" cy="229.8" r="1.17"/><circle cx="90.2" cy="213.0" r="1.4"/><circle cx="116.2" cy="227.5" r="1.2"/><circle cx="91.7" cy="219.9" r="1.39"/><circle cx="106.0" cy="229.0" r="1.28"/><circle cx="65.4" cy="216.4" r="1.59"/><circle cx="121.8" cy="230.4" r="1.16"/><circle cx="121.9" cy="218.5" r="1.16"/><circle cx="117.0" cy="228.9" r="1.19"/><circle cx="121.1" cy="214.2" r="1.16"/><circle cx="126.4" cy="225.7" r="1.12"/><circle cx="95.1" cy="212.9" r="1.36"/><circle cx="131.5" cy="215.9" r="1.08"/><circle cx="113.6" cy="232.8" r="1.22"/><circle cx="116.9" cy="222.2" r="1.19"/><circle cx="113.5" cy="224.8" r="1.22"/><circle cx="130.1" cy="234.1" r="1.09"/><circle cx="101.7" cy="216.8" r="1.31"/><circle cx="124.8" cy="228.3" r="1.13"/><circle cx="129.2" cy="228.0" r="1.1"/><circle cx="124.6" cy="228.3" r="1.14"/><circle cx="116.7" cy="223.3" r="1.2"/><circle cx="132.4" cy="215.2" r="1.08"/><circle cx="108.0" cy="223.0" r="1.26"/><circle cx="116.3" cy="223.0" r="1.2"/><circle cx="119.0" cy="228.9" r="1.18"/><circle cx="93.9" cy="215.6" r="1.37"/><circle cx="116.5" cy="232.3" r="1.2"/><circle cx="106.0" cy="235.4" r="1.28"/><circle cx="99.7" cy="234.8" r="1.33"/><circle cx="120.3" cy="225.0" r="1.17"/><circle cx="127.0" cy="215.0" r="1.12"/><circle cx="123.2" cy="231.1" r="1.15"/><circle cx="116.2" cy="216.5" r="1.2"/><circle cx="102.9" cy="218.5" r="1.3"/><circle cx="125.7" cy="222.5" r="1.13"/><circle cx="114.2" cy="234.6" r="1.22"/><circle cx="133.0" cy="225.8" r="1.07"/><circle cx="93.9" cy="203.7" r="1.37"/><circle cx="82.3" cy="203.6" r="1.46"/><circle cx="117.0" cy="201.2" r="1.19"/><circle cx="90.5" cy="195.1" r="1.4"/><circle cx="109.5" cy="200.6" r="1.25"/><circle cx="98.9" cy="193.2" r="1.33"/><circle cx="131.3" cy="202.4" r="1.08"/><circle cx="124.4" cy="210.1" r="1.14"/><circle cx="76.0" cy="204.3" r="1.51"/><circle cx="123.7" cy="195.0" r="1.14"/><circle cx="110.4" cy="201.6" r="1.24"/><circle cx="95.5" cy="192.0" r="1.36"/><circle cx="128.3" cy="208.2" r="1.11"/><circle cx="125.5" cy="190.0" r="1.13"/><circle cx="107.6" cy="206.5" r="1.27"/><circle cx="99.6" cy="207.2" r="1.33"/><circle cx="113.4" cy="203.7" r="1.22"/><circle cx="119.8" cy="192.6" r="1.17"/><circle cx="131.1" cy="191.0" r="1.09"/><circle cx="122.9" cy="208.0" r="1.15"/><circle cx="113.8" cy="212.3" r="1.22"/><circle cx="109.2" cy="208.9" r="1.25"/><circle cx="106.2" cy="204.4" r="1.28"/><circle cx="120.8" cy="210.7" r="1.16"/><circle cx="103.5" cy="197.9" r="1.3"/><circle cx="132.0" cy="205.3" r="1.08"/><circle cx="103.4" cy="201.1" r="1.3"/><circle cx="122.5" cy="191.9" r="1.15"/><circle cx="115.7" cy="198.7" r="1.2"/><circle cx="105.7" cy="199.0" r="1.28"/><circle cx="125.8" cy="198.3" r="1.13"/><circle cx="121.8" cy="203.2" r="1.16"/><circle cx="121.6" cy="196.8" r="1.16"/><circle cx="114.4" cy="197.7" r="1.21"/><circle cx="104.2" cy="208.4" r="1.29"/><circle cx="124.5" cy="200.7" r="1.14"/><circle cx="123.1" cy="195.5" r="1.15"/><circle cx="120.1" cy="201.0" r="1.17"/><circle cx="121.6" cy="190.6" r="1.16"/><circle cx="114.4" cy="192.5" r="1.21"/><circle cx="129.9" cy="198.2" r="1.09"/><circle cx="68.3" cy="207.9" r="1.57"/><circle cx="119.4" cy="196.8" r="1.18"/><circle cx="106.1" cy="207.9" r="1.28"/><circle cx="116.4" cy="199.6" r="1.2"/><circle cx="127.8" cy="191.7" r="1.11"/><circle cx="113.4" cy="200.4" r="1.22"/><circle cx="77.5" cy="195.5" r="1.5"/><circle cx="130.2" cy="212.0" r="1.09"/><circle cx="104.4" cy="194.7" r="1.29"/><circle cx="88.0" cy="211.6" r="1.42"/><circle cx="123.6" cy="208.5" r="1.14"/><circle cx="107.9" cy="197.9" r="1.26"/><circle cx="106.3" cy="200.3" r="1.28"/><circle cx="106.7" cy="203.5" r="1.27"/><circle cx="118.4" cy="195.4" r="1.18"/><circle cx="131.3" cy="195.1" r="1.08"/><circle cx="124.2" cy="203.6" r="1.14"/><circle cx="97.0" cy="192.6" r="1.35"/><circle cx="128.9" cy="195.6" r="1.1"/><circle cx="115.0" cy="203.1" r="1.21"/><circle cx="119.6" cy="206.0" r="1.17"/><circle cx="115.8" cy="191.4" r="1.2"/><circle cx="117.6" cy="207.7" r="1.19"/><circle cx="71.9" cy="210.8" r="1.54"/><circle cx="115.2" cy="201.7" r="1.21"/><circle cx="107.0" cy="208.2" r="1.27"/><circle cx="88.7" cy="191.4" r="1.41"/><circle cx="120.7" cy="197.8" r="1.17"/><circle cx="101.9" cy="207.0" r="1.31"/><circle cx="111.6" cy="204.8" r="1.24"/><circle cx="127.3" cy="195.2" r="1.11"/><circle cx="96.5" cy="201.4" r="1.35"/><circle cx="115.5" cy="202.6" r="1.21"/><circle cx="115.9" cy="197.0" r="1.2"/><circle cx="102.3" cy="208.4" r="1.31"/><circle cx="75.7" cy="195.1" r="1.51"/><circle cx="108.4" cy="200.2" r="1.26"/><circle cx="131.6" cy="197.5" r="1.08"/><circle cx="97.6" cy="197.3" r="1.34"/><circle cx="102.8" cy="197.6" r="1.3"/><circle cx="103.9" cy="200.7" r="1.29"/><circle cx="116.7" cy="209.2" r="1.2"/><circle cx="108.8" cy="201.2" r="1.26"/><circle cx="87.5" cy="194.8" r="1.42"/><circle cx="115.6" cy="197.0" r="1.2"/><circle cx="90.3" cy="191.0" r="1.4"/><circle cx="119.2" cy="197.7" r="1.18"/><circle cx="113.8" cy="193.9" r="1.22"/><circle cx="110.8" cy="191.5" r="1.24"/><circle cx="132.6" cy="208.7" r="1.07"/><circle cx="107.1" cy="212.3" r="1.27"/><circle cx="108.1" cy="201.7" r="1.26"/><circle cx="125.0" cy="199.4" r="1.13"/><circle cx="107.1" cy="197.2" r="1.27"/><circle cx="104.8" cy="195.7" r="1.29"/><circle cx="108.8" cy="192.6" r="1.26"/><circle cx="117.0" cy="199.4" r="1.19"/><circle cx="98.7" cy="202.6" r="1.33"/><circle cx="96.9" cy="204.2" r="1.35"/><circle cx="107.4" cy="204.0" r="1.27"/><circle cx="113.2" cy="211.4" r="1.22"/><circle cx="125.2" cy="211.0" r="1.13"/><circle cx="109.5" cy="190.5" r="1.25"/><circle cx="124.6" cy="192.8" r="1.14"/><circle cx="105.7" cy="193.1" r="1.28"/><circle cx="84.2" cy="210.6" r="1.45"/><circle cx="123.3" cy="194.3" r="1.15"/><circle cx="105.8" cy="191.6" r="1.28"/><circle cx="126.7" cy="203.4" r="1.12"/><circle cx="125.2" cy="192.9" r="1.13"/><circle cx="94.9" cy="193.9" r="1.36"/><circle cx="126.0" cy="193.8" r="1.12"/><circle cx="89.7" cy="202.3" r="1.4"/><circle cx="117.8" cy="209.5" r="1.19"/><circle cx="118.5" cy="200.4" r="1.18"/><circle cx="126.5" cy="195.1" r="1.12"/><circle cx="117.9" cy="197.0" r="1.19"/><circle cx="132.8" cy="202.0" r="1.07"/><circle cx="131.9" cy="199.5" r="1.08"/><circle cx="112.3" cy="202.5" r="1.23"/><circle cx="126.6" cy="207.3" r="1.12"/><circle cx="98.0" cy="207.8" r="1.34"/><circle cx="104.8" cy="199.8" r="1.29"/><circle cx="114.6" cy="206.9" r="1.21"/><circle cx="96.9" cy="211.8" r="1.35"/><circle cx="113.0" cy="199.0" r="1.22"/><circle cx="99.9" cy="198.0" r="1.33"/><circle cx="123.4" cy="199.3" r="1.14"/><circle cx="118.1" cy="209.9" r="1.19"/><circle cx="109.7" cy="192.5" r="1.25"/><circle cx="123.9" cy="195.4" r="1.14"/><circle cx="77.0" cy="195.8" r="1.5"/><circle cx="124.1" cy="209.4" r="1.14"/><circle cx="129.6" cy="204.1" r="1.1"/><circle cx="101.8" cy="195.2" r="1.31"/><circle cx="133.0" cy="197.7" r="1.07"/><circle cx="103.1" cy="191.2" r="1.3"/><circle cx="108.0" cy="211.0" r="1.26"/><circle cx="106.7" cy="208.8" r="1.27"/><circle cx="110.2" cy="194.4" r="1.25"/><circle cx="125.7" cy="211.3" r="1.13"/><circle cx="108.2" cy="202.6" r="1.26"/><circle cx="89.3" cy="191.2" r="1.41"/><circle cx="132.5" cy="202.2" r="1.07"/><circle cx="125.9" cy="210.2" r="1.13"/><circle cx="104.7" cy="190.5" r="1.29"/><circle cx="104.7" cy="199.3" r="1.29"/><circle cx="101.5" cy="201.3" r="1.31"/><circle cx="114.8" cy="197.6" r="1.21"/><circle cx="85.1" cy="205.2" r="1.44"/><circle cx="108.9" cy="210.7" r="1.26"/><circle cx="85.6" cy="208.1" r="1.44"/><circle cx="110.4" cy="199.2" r="1.24"/><circle cx="112.1" cy="191.8" r="1.23"/><circle cx="102.3" cy="201.0" r="1.31"/><circle cx="124.4" cy="206.9" r="1.14"/><circle cx="128.4" cy="211.8" r="1.11"/><circle cx="93.6" cy="201.6" r="1.37"/><circle cx="93.3" cy="196.3" r="1.38"/><circle cx="109.5" cy="196.2" r="1.25"/><circle cx="97.8" cy="208.6" r="1.34"/><circle cx="74.9" cy="196.7" r="1.52"/><circle cx="115.4" cy="190.5" r="1.21"/><circle cx="122.5" cy="194.1" r="1.15"/><circle cx="132.6" cy="202.4" r="1.07"/><circle cx="129.0" cy="199.9" r="1.1"/><circle cx="117.1" cy="200.4" r="1.19"/><circle cx="104.6" cy="209.8" r="1.29"/><circle cx="109.0" cy="190.9" r="1.26"/><circle cx="87.5" cy="198.7" r="1.42"/><circle cx="126.4" cy="195.2" r="1.12"/><circle cx="119.5" cy="201.3" r="1.17"/><circle cx="120.1" cy="210.5" r="1.17"/><circle cx="121.7" cy="212.4" r="1.16"/><circle cx="115.9" cy="209.0" r="1.2"/><circle cx="104.1" cy="210.4" r="1.29"/><circle cx="121.9" cy="207.5" r="1.16"/><circle cx="125.6" cy="194.3" r="1.13"/><circle cx="124.8" cy="206.8" r="1.13"/><circle cx="113.3" cy="192.4" r="1.22"/><circle cx="112.7" cy="203.4" r="1.23"/><circle cx="118.7" cy="196.9" r="1.18"/><circle cx="122.7" cy="202.9" r="1.15"/><circle cx="120.3" cy="200.0" r="1.17"/><circle cx="123.2" cy="195.6" r="1.15"/><circle cx="117.5" cy="209.5" r="1.19"/><circle cx="118.8" cy="209.9" r="1.18"/><circle cx="119.9" cy="207.6" r="1.17"/><circle cx="103.1" cy="190.2" r="1.3"/><circle cx="128.4" cy="188.0" r="1.11"/><circle cx="111.3" cy="181.5" r="1.24"/><circle cx="99.5" cy="178.4" r="1.33"/><circle cx="91.7" cy="170.0" r="1.39"/><circle cx="95.1" cy="187.0" r="1.36"/><circle cx="117.6" cy="183.7" r="1.19"/><circle cx="89.9" cy="175.8" r="1.4"/><circle cx="124.5" cy="181.6" r="1.14"/><circle cx="114.8" cy="183.1" r="1.21"/><circle cx="133.1" cy="175.0" r="1.07"/><circle cx="125.1" cy="175.0" r="1.13"/><circle cx="125.9" cy="167.9" r="1.13"/><circle cx="92.7" cy="187.6" r="1.38"/><circle cx="105.9" cy="169.1" r="1.28"/><circle cx="96.7" cy="180.1" r="1.35"/><circle cx="122.8" cy="178.1" r="1.15"/><circle cx="90.7" cy="173.2" r="1.4"/><circle cx="121.9" cy="180.3" r="1.16"/><circle cx="129.1" cy="168.5" r="1.1"/><circle cx="98.4" cy="177.4" r="1.34"/><circle cx="83.7" cy="176.5" r="1.45"/><circle cx="104.2" cy="175.8" r="1.29"/><circle cx="93.0" cy="169.6" r="1.38"/><circle cx="129.2" cy="177.0" r="1.1"/><circle cx="112.6" cy="173.1" r="1.23"/><circle cx="110.3" cy="174.4" r="1.25"/><circle cx="121.7" cy="181.1" r="1.16"/><circle cx="109.2" cy="185.5" r="1.25"/><circle cx="84.7" cy="177.3" r="1.44"/><circle cx="119.0" cy="177.4" r="1.18"/><circle cx="99.0" cy="189.5" r="1.33"/><circle cx="73.0" cy="171.8" r="1.53"/><circle cx="114.7" cy="188.5" r="1.21"/><circle cx="115.2" cy="186.8" r="1.21"/><circle cx="99.3" cy="187.1" r="1.33"/><circle cx="108.4" cy="180.8" r="1.26"/><circle cx="112.8" cy="187.9" r="1.23"/><circle cx="87.1" cy="183.2" r="1.42"/><circle cx="102.1" cy="177.6" r="1.31"/><circle cx="81.6" cy="170.8" r="1.47"/><circle cx="109.3" cy="186.9" r="1.25"/><circle cx="105.6" cy="167.8" r="1.28"/><circle cx="100.5" cy="168.5" r="1.32"/><circle cx="111.8" cy="169.9" r="1.23"/><circle cx="117.4" cy="189.1" r="1.19"/><circle cx="120.3" cy="189.5" r="1.17"/><circle cx="122.1" cy="186.6" r="1.15"/><circle cx="91.9" cy="177.3" r="1.39"/><circle cx="116.3" cy="168.7" r="1.2"/><circle cx="94.9" cy="174.3" r="1.36"/><circle cx="122.2" cy="181.5" r="1.15"/><circle cx="91.0" cy="185.5" r="1.39"/><circle cx="106.4" cy="182.1" r="1.28"/><circle cx="115.6" cy="185.3" r="1.2"/><circle cx="118.3" cy="175.8" r="1.18"/><circle cx="88.7" cy="174.2" r="1.41"/><circle cx="108.9" cy="186.5" r="1.26"/><circle cx="101.5" cy="173.7" r="1.31"/><circle cx="95.1" cy="176.1" r="1.36"/><circle cx="114.7" cy="178.7" r="1.21"/><circle cx="81.2" cy="185.9" r="1.47"/><circle cx="118.9" cy="175.3" r="1.18"/><circle cx="101.7" cy="185.7" r="1.31"/><circle cx="98.9" cy="186.9" r="1.33"/><circle cx="126.7" cy="172.8" r="1.12"/><circle cx="111.3" cy="168.7" r="1.24"/><circle cx="123.4" cy="186.0" r="1.14"/><circle cx="131.9" cy="173.9" r="1.08"/><circle cx="132.8" cy="173.5" r="1.07"/><circle cx="128.9" cy="182.9" r="1.1"/><circle cx="126.1" cy="168.2" r="1.12"/><circle cx="128.5" cy="167.7" r="1.11"/><circle cx="115.3" cy="175.0" r="1.21"/><circle cx="123.2" cy="178.4" r="1.15"/><circle cx="111.2" cy="186.1" r="1.24"/><circle cx="128.2" cy="177.7" r="1.11"/><circle cx="101.0" cy="173.2" r="1.32"/><circle cx="117.7" cy="186.2" r="1.19"/><circle cx="73.3" cy="183.0" r="1.53"/><circle cx="112.0" cy="182.0" r="1.23"/><circle cx="116.1" cy="181.6" r="1.2"/><circle cx="119.2" cy="186.0" r="1.18"/><circle cx="130.8" cy="169.4" r="1.09"/><circle cx="115.1" cy="176.2" r="1.21"/><circle cx="104.1" cy="173.4" r="1.29"/><circle cx="81.0" cy="176.2" r="1.47"/><circle cx="101.8" cy="180.5" r="1.31"/><circle cx="113.0" cy="178.3" r="1.22"/><circle cx="76.4" cy="174.8" r="1.51"/><circle cx="112.3" cy="187.7" r="1.23"/><circle cx="114.6" cy="177.4" r="1.21"/><circle cx="93.3" cy="171.0" r="1.38"/><circle cx="90.6" cy="182.6" r="1.4"/><circle cx="125.3" cy="169.5" r="1.13"/><circle cx="127.6" cy="175.6" r="1.11"/><circle cx="125.1" cy="169.2" r="1.13"/><circle cx="105.6" cy="189.8" r="1.28"/><circle cx="104.5" cy="169.7" r="1.29"/><circle cx="103.4" cy="151.0" r="1.3"/><circle cx="96.8" cy="159.3" r="1.35"/><circle cx="109.7" cy="163.4" r="1.25"/><circle cx="98.4" cy="153.7" r="1.34"/><circle cx="129.1" cy="164.9" r="1.1"/><circle cx="115.3" cy="163.6" r="1.21"/><circle cx="111.2" cy="165.3" r="1.24"/><circle cx="120.2" cy="160.0" r="1.17"/><circle cx="118.9" cy="151.8" r="1.18"/><circle cx="84.9" cy="157.6" r="1.44"/><circle cx="112.0" cy="157.3" r="1.23"/><circle cx="124.6" cy="155.9" r="1.14"/><circle cx="127.0" cy="156.9" r="1.12"/><circle cx="116.4" cy="162.9" r="1.2"/><circle cx="120.7" cy="157.1" r="1.17"/><circle cx="96.2" cy="162.6" r="1.35"/><circle cx="122.1" cy="166.6" r="1.15"/><circle cx="80.8" cy="158.1" r="1.47"/><circle cx="115.5" cy="166.7" r="1.21"/><circle cx="91.5" cy="157.0" r="1.39"/><circle cx="108.3" cy="150.6" r="1.26"/><circle cx="119.7" cy="152.8" r="1.17"/><circle cx="104.7" cy="166.1" r="1.29"/><circle cx="106.3" cy="164.9" r="1.28"/><circle cx="60.9" cy="161.5" r="1.63"/><circle cx="129.7" cy="152.6" r="1.1"/><circle cx="109.9" cy="161.9" r="1.25"/><circle cx="132.7" cy="164.7" r="1.07"/><circle cx="117.3" cy="154.1" r="1.19"/><circle cx="117.7" cy="160.2" r="1.19"/><circle cx="123.5" cy="162.3" r="1.14"/><circle cx="111.0" cy="164.1" r="1.24"/><circle cx="120.4" cy="167.1" r="1.17"/><circle cx="123.2" cy="162.1" r="1.15"/><circle cx="114.8" cy="156.5" r="1.21"/><circle cx="126.6" cy="150.9" r="1.12"/><circle cx="109.2" cy="164.7" r="1.25"/><circle cx="66.6" cy="160.3" r="1.58"/><circle cx="110.8" cy="164.7" r="1.24"/><circle cx="118.0" cy="152.5" r="1.19"/><circle cx="354.1" cy="39.1" r="1.39"/><circle cx="367.4" cy="58.2" r="1.27"/><circle cx="348.6" cy="89.4" r="1.44"/><circle cx="351.0" cy="93.2" r="1.42"/><circle cx="364.7" cy="92.8" r="1.3"/><circle cx="336.7" cy="100.4" r="1.55"/><circle cx="357.5" cy="99.2" r="1.36"/><circle cx="362.6" cy="99.2" r="1.32"/><circle cx="320.3" cy="113.2" r="1.7"/><circle cx="336.7" cy="112.5" r="1.55"/><circle cx="341.5" cy="114.4" r="1.51"/><circle cx="361.3" cy="109.7" r="1.33"/><circle cx="363.0" cy="109.7" r="1.31"/><circle cx="366.1" cy="116.2" r="1.29"/><circle cx="370.5" cy="112.3" r="1.25"/><circle cx="380.2" cy="115.4" r="1.16"/><circle cx="338.4" cy="120.2" r="1.54"/><circle cx="359.9" cy="118.5" r="1.34"/><circle cx="368.6" cy="119.1" r="1.26"/><circle cx="369.8" cy="121.7" r="1.25"/><circle cx="373.9" cy="118.3" r="1.22"/><circle cx="362.6" cy="123.9" r="1.32"/><circle cx="341.5" cy="125.8" r="1.51"/><circle cx="357.5" cy="126.0" r="1.36"/><circle cx="359.2" cy="126.5" r="1.35"/><circle cx="317.7" cy="131.3" r="1.72"/><circle cx="345.6" cy="129.4" r="1.47"/><circle cx="346.3" cy="130.8" r="1.47"/><circle cx="355.0" cy="131.4" r="1.39"/><circle cx="369.5" cy="130.8" r="1.26"/><circle cx="336.3" cy="133.0" r="1.56"/><circle cx="342.2" cy="132.8" r="1.5"/><circle cx="348.6" cy="134.0" r="1.44"/><circle cx="369.1" cy="133.7" r="1.26"/><circle cx="377.2" cy="133.0" r="1.19"/><circle cx="337.4" cy="139.6" r="1.55"/><circle cx="341.5" cy="139.3" r="1.51"/><circle cx="346.9" cy="138.9" r="1.46"/><circle cx="349.0" cy="139.3" r="1.44"/><circle cx="356.5" cy="137.6" r="1.37"/><circle cx="363.0" cy="138.8" r="1.31"/><circle cx="374.3" cy="136.7" r="1.21"/><circle cx="335.7" cy="247.0" r="1.56"/><circle cx="369.5" cy="242.5" r="1.26"/><circle cx="381.9" cy="244.7" r="1.14"/><circle cx="372.7" cy="246.8" r="1.23"/><circle cx="376.2" cy="256.5" r="1.2"/><circle cx="369.7" cy="247.5" r="1.25"/><circle cx="370.7" cy="255.0" r="1.24"/><circle cx="379.6" cy="256.7" r="1.16"/><circle cx="369.6" cy="243.6" r="1.25"/><circle cx="371.4" cy="243.4" r="1.24"/><circle cx="371.1" cy="243.5" r="1.24"/><circle cx="381.2" cy="252.7" r="1.15"/><circle cx="348.3" cy="251.7" r="1.45"/><circle cx="375.8" cy="245.8" r="1.2"/><circle cx="381.9" cy="249.3" r="1.14"/><circle cx="381.3" cy="252.7" r="1.15"/><circle cx="389.4" cy="251.1" r="1.08"/><circle cx="359.8" cy="244.7" r="1.34"/><circle cx="389.3" cy="254.7" r="1.08"/><circle cx="345.9" cy="249.5" r="1.47"/><circle cx="365.0" cy="257.1" r="1.3"/><circle cx="380.3" cy="251.2" r="1.16"/><circle cx="358.6" cy="247.3" r="1.35"/><circle cx="379.0" cy="250.5" r="1.17"/><circle cx="374.6" cy="254.4" r="1.21"/><circle cx="376.0" cy="257.2" r="1.2"/><circle cx="372.4" cy="249.9" r="1.23"/><circle cx="355.7" cy="248.4" r="1.38"/><circle cx="350.4" cy="244.8" r="1.43"/><circle cx="386.2" cy="244.2" r="1.1"/><circle cx="384.5" cy="247.3" r="1.12"/><circle cx="373.6" cy="244.7" r="1.22"/><circle cx="377.4" cy="256.3" r="1.18"/><circle cx="379.0" cy="256.6" r="1.17"/><circle cx="377.8" cy="245.7" r="1.18"/><circle cx="386.7" cy="248.5" r="1.1"/><circle cx="384.4" cy="254.1" r="1.12"/><circle cx="378.6" cy="257.2" r="1.17"/><circle cx="379.8" cy="250.3" r="1.16"/><circle cx="360.2" cy="256.6" r="1.34"/><circle cx="357.7" cy="251.0" r="1.36"/><circle cx="378.6" cy="253.0" r="1.17"/><circle cx="383.5" cy="253.6" r="1.13"/><circle cx="385.6" cy="249.7" r="1.11"/><circle cx="365.9" cy="248.5" r="1.29"/><circle cx="381.9" cy="255.6" r="1.14"/><circle cx="385.9" cy="250.7" r="1.11"/><circle cx="386.3" cy="245.5" r="1.1"/><circle cx="331.7" cy="251.3" r="1.6"/><circle cx="353.9" cy="247.9" r="1.4"/><circle cx="367.2" cy="254.9" r="1.28"/><circle cx="379.6" cy="251.9" r="1.16"/><circle cx="388.8" cy="247.3" r="1.08"/><circle cx="388.5" cy="246.4" r="1.08"/><circle cx="383.2" cy="249.0" r="1.13"/><circle cx="353.4" cy="250.1" r="1.4"/><circle cx="385.6" cy="253.4" r="1.11"/><circle cx="368.6" cy="251.8" r="1.26"/><circle cx="377.0" cy="246.6" r="1.19"/><circle cx="383.2" cy="242.8" r="1.13"/><circle cx="382.1" cy="257.1" r="1.14"/><circle cx="386.7" cy="250.1" r="1.1"/><circle cx="370.0" cy="244.0" r="1.25"/><circle cx="353.7" cy="255.4" r="1.4"/><circle cx="342.9" cy="245.8" r="1.5"/><circle cx="366.9" cy="253.5" r="1.28"/><circle cx="389.6" cy="248.7" r="1.07"/><circle cx="362.2" cy="251.3" r="1.32"/><circle cx="380.2" cy="253.5" r="1.16"/><circle cx="370.5" cy="252.7" r="1.25"/><circle cx="375.1" cy="243.5" r="1.21"/><circle cx="370.1" cy="251.1" r="1.25"/><circle cx="381.3" cy="255.4" r="1.15"/><circle cx="361.5" cy="249.7" r="1.33"/><circle cx="374.9" cy="249.3" r="1.21"/><circle cx="376.3" cy="255.3" r="1.19"/><circle cx="365.2" cy="245.2" r="1.29"/><circle cx="362.1" cy="244.5" r="1.32"/><circle cx="374.6" cy="242.6" r="1.21"/><circle cx="389.5" cy="247.7" r="1.07"/><circle cx="382.0" cy="255.9" r="1.14"/><circle cx="382.6" cy="253.1" r="1.14"/><circle cx="375.7" cy="249.9" r="1.2"/><circle cx="389.3" cy="252.0" r="1.08"/><circle cx="367.7" cy="246.6" r="1.27"/><circle cx="385.3" cy="256.1" r="1.11"/><circle cx="341.7" cy="242.9" r="1.51"/><circle cx="375.1" cy="248.9" r="1.2"/><circle cx="375.9" cy="242.5" r="1.2"/><circle cx="375.0" cy="245.4" r="1.21"/><circle cx="362.5" cy="250.0" r="1.32"/><circle cx="368.6" cy="255.7" r="1.26"/><circle cx="382.7" cy="255.8" r="1.14"/><circle cx="372.9" cy="253.9" r="1.23"/><circle cx="372.2" cy="242.9" r="1.23"/><circle cx="372.9" cy="253.4" r="1.23"/><circle cx="373.7" cy="246.7" r="1.22"/><circle cx="370.5" cy="256.3" r="1.25"/><circle cx="386.9" cy="254.1" r="1.1"/><circle cx="387.5" cy="256.6" r="1.09"/><circle cx="389.3" cy="253.8" r="1.08"/><circle cx="371.2" cy="255.3" r="1.24"/><circle cx="375.2" cy="250.6" r="1.2"/><circle cx="357.3" cy="257.7" r="1.37"/><circle cx="367.9" cy="251.4" r="1.27"/><circle cx="378.3" cy="242.9" r="1.18"/><circle cx="357.5" cy="255.5" r="1.36"/><circle cx="377.1" cy="248.8" r="1.19"/><circle cx="366.5" cy="242.4" r="1.28"/><circle cx="380.7" cy="257.8" r="1.15"/><circle cx="386.5" cy="246.4" r="1.1"/><circle cx="372.6" cy="248.6" r="1.23"/><circle cx="369.0" cy="243.3" r="1.26"/><circle cx="364.2" cy="242.8" r="1.3"/><circle cx="363.0" cy="251.5" r="1.31"/><circle cx="376.1" cy="253.7" r="1.2"/><circle cx="383.2" cy="247.3" r="1.13"/><circle cx="377.5" cy="256.9" r="1.18"/><circle cx="376.7" cy="256.1" r="1.19"/><circle cx="376.4" cy="242.5" r="1.19"/><circle cx="372.4" cy="257.1" r="1.23"/><circle cx="386.3" cy="255.5" r="1.1"/><circle cx="366.9" cy="245.8" r="1.28"/><circle cx="371.2" cy="246.7" r="1.24"/><circle cx="373.9" cy="248.1" r="1.22"/><circle cx="388.2" cy="257.9" r="1.09"/><circle cx="379.5" cy="248.7" r="1.17"/><circle cx="361.8" cy="255.4" r="1.32"/><circle cx="376.9" cy="247.7" r="1.19"/><circle cx="386.8" cy="244.5" r="1.1"/><circle cx="383.9" cy="248.3" r="1.13"/><circle cx="379.4" cy="250.3" r="1.17"/><circle cx="359.6" cy="250.8" r="1.35"/><circle cx="380.4" cy="246.9" r="1.16"/><circle cx="370.6" cy="245.6" r="1.25"/><circle cx="382.9" cy="254.7" r="1.13"/><circle cx="378.4" cy="245.6" r="1.17"/><circle cx="370.8" cy="257.2" r="1.24"/><circle cx="385.1" cy="250.1" r="1.11"/><circle cx="378.3" cy="243.3" r="1.18"/><circle cx="381.0" cy="255.9" r="1.15"/><circle cx="370.9" cy="252.4" r="1.24"/><circle cx="371.8" cy="243.9" r="1.23"/><circle cx="381.6" cy="253.3" r="1.15"/><circle cx="387.9" cy="257.6" r="1.09"/><circle cx="387.9" cy="246.5" r="1.09"/><circle cx="372.5" cy="250.7" r="1.23"/><circle cx="368.1" cy="243.3" r="1.27"/><circle cx="378.6" cy="252.8" r="1.17"/><circle cx="389.9" cy="249.7" r="1.07"/><circle cx="357.6" cy="253.2" r="1.36"/><circle cx="384.3" cy="244.0" r="1.12"/><circle cx="384.3" cy="255.9" r="1.12"/><circle cx="381.0" cy="250.5" r="1.15"/><circle cx="370.4" cy="256.9" r="1.25"/><circle cx="335.3" cy="256.5" r="1.56"/><circle cx="348.5" cy="253.1" r="1.45"/><circle cx="372.8" cy="251.4" r="1.23"/><circle cx="389.1" cy="244.4" r="1.08"/><circle cx="376.3" cy="255.4" r="1.19"/><circle cx="378.9" cy="247.0" r="1.17"/><circle cx="377.8" cy="251.1" r="1.18"/><circle cx="373.7" cy="242.6" r="1.22"/><circle cx="360.9" cy="248.8" r="1.33"/><circle cx="349.9" cy="247.0" r="1.43"/><circle cx="347.3" cy="254.0" r="1.46"/><circle cx="381.1" cy="256.0" r="1.15"/><circle cx="380.2" cy="251.8" r="1.16"/><circle cx="371.3" cy="257.2" r="1.24"/><circle cx="378.7" cy="252.7" r="1.17"/><circle cx="380.2" cy="248.5" r="1.16"/><circle cx="353.2" cy="247.0" r="1.4"/><circle cx="363.5" cy="247.4" r="1.31"/><circle cx="362.1" cy="247.4" r="1.32"/><circle cx="387.1" cy="255.4" r="1.1"/><circle cx="385.8" cy="249.1" r="1.11"/><circle cx="370.9" cy="246.1" r="1.24"/><circle cx="379.2" cy="257.9" r="1.17"/><circle cx="380.1" cy="252.5" r="1.16"/><circle cx="385.6" cy="257.1" r="1.11"/><circle cx="373.7" cy="247.7" r="1.22"/><circle cx="379.8" cy="251.4" r="1.16"/><circle cx="385.3" cy="256.2" r="1.11"/><circle cx="389.0" cy="254.6" r="1.08"/><circle cx="383.8" cy="243.3" r="1.13"/><circle cx="358.4" cy="255.9" r="1.36"/><circle cx="381.0" cy="257.2" r="1.15"/><circle cx="380.6" cy="243.4" r="1.16"/><circle cx="386.9" cy="255.7" r="1.1"/><circle cx="373.4" cy="256.5" r="1.22"/><circle cx="383.4" cy="250.6" r="1.13"/><circle cx="381.9" cy="256.4" r="1.14"/><circle cx="388.6" cy="257.3" r="1.08"/><circle cx="348.1" cy="255.4" r="1.45"/><circle cx="388.2" cy="250.4" r="1.09"/><circle cx="378.9" cy="243.8" r="1.17"/><circle cx="331.8" cy="256.7" r="1.6"/><circle cx="387.4" cy="246.4" r="1.09"/><circle cx="388.1" cy="249.9" r="1.09"/><circle cx="377.4" cy="251.5" r="1.18"/><circle cx="358.2" cy="252.1" r="1.36"/><circle cx="378.0" cy="247.9" r="1.18"/><circle cx="388.5" cy="256.8" r="1.08"/><circle cx="373.7" cy="253.3" r="1.22"/><circle cx="388.8" cy="252.2" r="1.08"/><circle cx="366.6" cy="247.1" r="1.28"/><circle cx="379.6" cy="246.8" r="1.16"/><circle cx="380.3" cy="244.5" r="1.16"/><circle cx="371.7" cy="246.2" r="1.24"/><circle cx="338.7" cy="244.8" r="1.53"/><circle cx="374.8" cy="255.2" r="1.21"/><circle cx="375.4" cy="245.0" r="1.2"/><circle cx="375.9" cy="257.2" r="1.2"/><circle cx="388.3" cy="250.8" r="1.09"/><circle cx="390.0" cy="251.1" r="1.07"/><circle cx="377.5" cy="249.7" r="1.18"/><circle cx="380.7" cy="253.0" r="1.15"/><circle cx="389.3" cy="253.0" r="1.08"/><circle cx="381.1" cy="250.3" r="1.15"/><circle cx="363.5" cy="242.4" r="1.31"/><circle cx="370.4" cy="252.7" r="1.25"/><circle cx="363.1" cy="243.0" r="1.31"/><circle cx="383.0" cy="242.7" r="1.13"/><circle cx="389.7" cy="244.9" r="1.07"/><circle cx="369.4" cy="245.4" r="1.26"/><circle cx="382.6" cy="254.3" r="1.14"/><circle cx="382.1" cy="246.2" r="1.14"/><circle cx="385.6" cy="246.9" r="1.11"/><circle cx="361.4" cy="248.2" r="1.33"/><circle cx="384.9" cy="249.5" r="1.12"/><circle cx="376.9" cy="243.0" r="1.19"/><circle cx="384.2" cy="245.0" r="1.12"/><circle cx="381.2" cy="256.4" r="1.15"/><circle cx="356.9" cy="244.7" r="1.37"/><circle cx="383.6" cy="257.5" r="1.13"/><circle cx="385.8" cy="252.6" r="1.11"/><circle cx="380.6" cy="257.0" r="1.16"/><circle cx="371.6" cy="247.6" r="1.24"/><circle cx="382.2" cy="251.6" r="1.14"/><circle cx="370.0" cy="243.5" r="1.25"/><circle cx="372.3" cy="257.3" r="1.23"/><circle cx="379.7" cy="243.0" r="1.16"/><circle cx="373.2" cy="251.6" r="1.22"/><circle cx="371.7" cy="251.7" r="1.24"/><circle cx="382.5" cy="252.5" r="1.14"/><circle cx="382.0" cy="254.9" r="1.14"/><circle cx="383.2" cy="249.8" r="1.13"/><circle cx="356.9" cy="250.5" r="1.37"/><circle cx="389.0" cy="251.3" r="1.08"/><circle cx="383.5" cy="257.4" r="1.13"/><circle cx="384.9" cy="244.8" r="1.12"/><circle cx="370.6" cy="252.6" r="1.25"/><circle cx="362.4" cy="242.5" r="1.32"/><circle cx="359.4" cy="244.6" r="1.35"/><circle cx="387.2" cy="256.5" r="1.1"/><circle cx="374.8" cy="252.3" r="1.21"/><circle cx="383.5" cy="247.5" r="1.13"/><circle cx="387.8" cy="243.5" r="1.09"/><circle cx="380.0" cy="256.5" r="1.16"/><circle cx="379.2" cy="245.7" r="1.17"/><circle cx="372.2" cy="252.9" r="1.23"/><circle cx="345.0" cy="252.7" r="1.48"/><circle cx="362.4" cy="243.0" r="1.32"/><circle cx="370.6" cy="252.2" r="1.25"/><circle cx="386.1" cy="252.1" r="1.11"/><circle cx="377.3" cy="256.0" r="1.19"/><circle cx="380.1" cy="254.1" r="1.16"/><circle cx="378.5" cy="246.9" r="1.17"/><circle cx="358.1" cy="251.9" r="1.36"/><circle cx="382.5" cy="250.4" r="1.14"/><circle cx="381.4" cy="247.2" r="1.15"/><circle cx="370.9" cy="246.2" r="1.24"/><circle cx="375.7" cy="253.7" r="1.2"/><circle cx="381.4" cy="253.5" r="1.15"/><circle cx="371.6" cy="246.1" r="1.24"/><circle cx="370.1" cy="246.0" r="1.25"/><circle cx="370.2" cy="249.8" r="1.25"/><circle cx="382.0" cy="256.0" r="1.14"/><circle cx="386.0" cy="246.3" r="1.11"/><circle cx="386.8" cy="256.5" r="1.1"/><circle cx="381.6" cy="257.9" r="1.15"/><circle cx="382.7" cy="255.7" r="1.14"/><circle cx="377.0" cy="242.8" r="1.19"/><circle cx="374.6" cy="243.5" r="1.21"/><circle cx="375.3" cy="257.4" r="1.2"/><circle cx="368.7" cy="244.5" r="1.26"/><circle cx="362.3" cy="253.5" r="1.32"/><circle cx="352.8" cy="251.6" r="1.41"/><circle cx="379.8" cy="245.0" r="1.16"/><circle cx="385.3" cy="248.4" r="1.11"/><circle cx="384.9" cy="244.2" r="1.12"/><circle cx="381.7" cy="247.1" r="1.14"/><circle cx="380.6" cy="245.4" r="1.15"/><circle cx="385.1" cy="245.0" r="1.11"/><circle cx="383.2" cy="249.5" r="1.13"/><circle cx="381.6" cy="254.1" r="1.15"/><circle cx="349.6" cy="250.1" r="1.44"/><circle cx="356.4" cy="256.4" r="1.37"/><circle cx="386.2" cy="252.2" r="1.1"/><circle cx="362.2" cy="246.0" r="1.32"/><circle cx="385.8" cy="254.0" r="1.11"/><circle cx="361.2" cy="245.8" r="1.33"/><circle cx="363.3" cy="249.8" r="1.31"/><circle cx="383.8" cy="251.1" r="1.13"/><circle cx="377.2" cy="250.2" r="1.19"/><circle cx="374.0" cy="248.9" r="1.21"/><circle cx="387.4" cy="245.7" r="1.09"/><circle cx="379.0" cy="251.7" r="1.17"/><circle cx="360.2" cy="255.5" r="1.34"/><circle cx="358.3" cy="257.1" r="1.36"/><circle cx="387.0" cy="254.1" r="1.1"/><circle cx="353.7" cy="245.0" r="1.4"/><circle cx="384.2" cy="244.6" r="1.12"/><circle cx="388.3" cy="244.8" r="1.09"/><circle cx="371.8" cy="243.3" r="1.23"/><circle cx="382.6" cy="252.1" r="1.14"/><circle cx="374.6" cy="247.7" r="1.21"/><circle cx="389.7" cy="244.1" r="1.07"/><circle cx="361.1" cy="246.0" r="1.33"/><circle cx="379.5" cy="245.8" r="1.16"/><circle cx="374.8" cy="246.8" r="1.21"/><circle cx="377.8" cy="248.4" r="1.18"/><circle cx="380.9" cy="245.2" r="1.15"/><circle cx="388.5" cy="257.7" r="1.08"/><circle cx="372.2" cy="251.4" r="1.23"/><circle cx="381.9" cy="249.6" r="1.14"/><circle cx="387.9" cy="253.5" r="1.09"/><circle cx="369.9" cy="248.0" r="1.25"/><circle cx="371.1" cy="243.9" r="1.24"/><circle cx="354.1" cy="256.2" r="1.39"/><circle cx="387.3" cy="252.0" r="1.09"/><circle cx="381.4" cy="247.9" r="1.15"/><circle cx="351.2" cy="251.1" r="1.42"/><circle cx="355.0" cy="244.0" r="1.39"/><circle cx="384.7" cy="250.6" r="1.12"/><circle cx="364.4" cy="245.3" r="1.3"/><circle cx="379.9" cy="251.8" r="1.16"/><circle cx="376.2" cy="254.9" r="1.2"/><circle cx="384.8" cy="245.9" r="1.12"/><circle cx="381.7" cy="243.3" r="1.15"/><circle cx="382.5" cy="249.4" r="1.14"/><circle cx="383.9" cy="256.0" r="1.12"/><circle cx="374.4" cy="251.3" r="1.21"/><circle cx="377.2" cy="247.0" r="1.19"/><circle cx="365.3" cy="255.5" r="1.29"/><circle cx="342.2" cy="254.9" r="1.5"/><circle cx="379.0" cy="246.2" r="1.17"/><circle cx="388.9" cy="255.6" r="1.08"/><circle cx="386.0" cy="248.5" r="1.11"/><circle cx="369.2" cy="243.3" r="1.26"/><circle cx="370.8" cy="250.6" r="1.24"/><circle cx="382.2" cy="255.2" r="1.14"/><circle cx="386.7" cy="257.8" r="1.1"/><circle cx="382.2" cy="249.0" r="1.14"/><circle cx="365.6" cy="251.2" r="1.29"/><circle cx="361.2" cy="246.7" r="1.33"/><circle cx="386.0" cy="243.4" r="1.11"/><circle cx="382.6" cy="249.6" r="1.14"/><circle cx="388.6" cy="246.8" r="1.08"/><circle cx="375.6" cy="255.5" r="1.2"/><circle cx="367.4" cy="251.5" r="1.27"/><circle cx="357.5" cy="250.3" r="1.36"/><circle cx="379.2" cy="245.9" r="1.17"/><circle cx="368.8" cy="245.1" r="1.26"/><circle cx="380.7" cy="254.7" r="1.15"/><circle cx="350.6" cy="252.9" r="1.43"/><circle cx="381.4" cy="257.0" r="1.15"/><circle cx="386.2" cy="244.0" r="1.1"/><circle cx="384.4" cy="248.3" r="1.12"/><circle cx="388.8" cy="257.7" r="1.08"/><circle cx="369.8" cy="248.5" r="1.25"/><circle cx="344.5" cy="243.7" r="1.48"/><circle cx="387.8" cy="252.9" r="1.09"/><circle cx="378.0" cy="244.3" r="1.18"/><circle cx="371.9" cy="243.1" r="1.23"/><circle cx="355.4" cy="249.7" r="1.38"/><circle cx="359.8" cy="257.0" r="1.34"/><circle cx="389.4" cy="246.2" r="1.08"/><circle cx="364.0" cy="255.4" r="1.31"/><circle cx="367.5" cy="246.8" r="1.27"/><circle cx="381.2" cy="255.7" r="1.15"/><circle cx="376.2" cy="253.8" r="1.2"/><circle cx="376.8" cy="247.9" r="1.19"/><circle cx="379.3" cy="256.2" r="1.17"/><circle cx="383.6" cy="243.2" r="1.13"/><circle cx="367.2" cy="252.7" r="1.28"/><circle cx="373.1" cy="244.1" r="1.22"/><circle cx="385.5" cy="247.1" r="1.11"/><circle cx="373.9" cy="250.0" r="1.22"/><circle cx="373.9" cy="257.2" r="1.22"/><circle cx="387.9" cy="257.2" r="1.09"/><circle cx="384.9" cy="250.6" r="1.12"/><circle cx="389.2" cy="245.0" r="1.08"/><circle cx="374.2" cy="245.4" r="1.21"/><circle cx="381.3" cy="252.9" r="1.15"/><circle cx="385.9" cy="242.6" r="1.11"/><circle cx="375.3" cy="253.9" r="1.2"/><circle cx="358.6" cy="243.1" r="1.35"/><circle cx="386.9" cy="252.8" r="1.1"/><circle cx="321.7" cy="243.0" r="1.69"/><circle cx="366.8" cy="247.7" r="1.28"/><circle cx="354.7" cy="249.0" r="1.39"/><circle cx="360.3" cy="255.8" r="1.34"/><circle cx="353.7" cy="252.3" r="1.4"/><circle cx="378.5" cy="249.1" r="1.17"/><circle cx="376.4" cy="253.5" r="1.19"/><circle cx="364.8" cy="247.0" r="1.3"/><circle cx="384.9" cy="243.2" r="1.12"/><circle cx="367.2" cy="245.0" r="1.28"/><circle cx="363.8" cy="244.0" r="1.31"/><circle cx="375.1" cy="254.1" r="1.2"/><circle cx="360.7" cy="248.5" r="1.34"/><circle cx="384.2" cy="248.1" r="1.12"/><circle cx="382.5" cy="249.2" r="1.14"/><circle cx="352.8" cy="248.6" r="1.41"/><circle cx="383.6" cy="256.6" r="1.13"/><circle cx="382.4" cy="245.7" r="1.14"/><circle cx="359.9" cy="246.6" r="1.34"/><circle cx="386.6" cy="257.2" r="1.1"/><circle cx="378.3" cy="244.5" r="1.18"/><circle cx="382.4" cy="247.9" r="1.14"/><circle cx="371.1" cy="251.1" r="1.24"/><circle cx="375.6" cy="253.7" r="1.2"/><circle cx="360.5" cy="250.9" r="1.34"/><circle cx="388.5" cy="256.4" r="1.08"/><circle cx="376.1" cy="242.4" r="1.2"/><circle cx="370.1" cy="252.0" r="1.25"/><circle cx="368.7" cy="252.5" r="1.26"/><circle cx="386.2" cy="255.2" r="1.1"/><circle cx="377.4" cy="257.1" r="1.18"/><circle cx="361.8" cy="246.7" r="1.33"/><circle cx="389.1" cy="251.3" r="1.08"/><circle cx="368.3" cy="226.3" r="1.27"/><circle cx="381.0" cy="229.2" r="1.15"/><circle cx="378.8" cy="226.4" r="1.17"/><circle cx="383.5" cy="238.1" r="1.13"/><circle cx="374.3" cy="227.8" r="1.21"/><circle cx="373.7" cy="232.0" r="1.22"/><circle cx="378.7" cy="236.4" r="1.17"/><circle cx="376.0" cy="241.4" r="1.2"/><circle cx="364.3" cy="240.3" r="1.3"/><circle cx="387.3" cy="240.9" r="1.09"/><circle cx="367.6" cy="241.5" r="1.27"/><circle cx="383.2" cy="231.1" r="1.13"/><circle cx="375.8" cy="238.0" r="1.2"/><circle cx="372.9" cy="232.7" r="1.23"/><circle cx="389.8" cy="227.0" r="1.07"/><circle cx="346.5" cy="228.3" r="1.46"/><circle cx="369.1" cy="241.6" r="1.26"/><circle cx="380.6" cy="239.0" r="1.16"/><circle cx="375.7" cy="226.6" r="1.2"/><circle cx="344.1" cy="229.8" r="1.49"/><circle cx="379.1" cy="228.1" r="1.17"/><circle cx="384.1" cy="235.7" r="1.12"/><circle cx="326.8" cy="231.4" r="1.64"/><circle cx="370.4" cy="221.8" r="1.25"/><circle cx="345.7" cy="223.9" r="1.47"/><circle cx="387.1" cy="241.2" r="1.1"/><circle cx="385.0" cy="230.1" r="1.12"/><circle cx="373.1" cy="228.1" r="1.22"/><circle cx="335.1" cy="225.0" r="1.57"/><circle cx="383.2" cy="223.7" r="1.13"/><circle cx="365.4" cy="237.2" r="1.29"/><circle cx="355.2" cy="228.9" r="1.38"/><circle cx="371.1" cy="233.3" r="1.24"/><circle cx="378.4" cy="224.6" r="1.17"/><circle cx="326.9" cy="222.0" r="1.64"/><circle cx="360.4" cy="223.2" r="1.34"/><circle cx="371.7" cy="226.8" r="1.24"/><circle cx="372.6" cy="241.7" r="1.23"/><circle cx="387.3" cy="234.9" r="1.09"/><circle cx="384.3" cy="238.7" r="1.12"/><circle cx="389.6" cy="222.4" r="1.07"/><circle cx="370.8" cy="224.3" r="1.24"/><circle cx="373.3" cy="225.0" r="1.22"/><circle cx="370.0" cy="233.8" r="1.25"/><circle cx="360.7" cy="241.1" r="1.33"/><circle cx="381.8" cy="234.7" r="1.14"/><circle cx="385.4" cy="235.3" r="1.11"/><circle cx="342.6" cy="225.6" r="1.5"/><circle cx="379.5" cy="235.3" r="1.16"/><circle cx="359.5" cy="233.1" r="1.35"/><circle cx="384.8" cy="242.0" r="1.12"/><circle cx="387.0" cy="236.1" r="1.1"/><circle cx="371.7" cy="225.7" r="1.24"/><circle cx="377.4" cy="227.8" r="1.18"/><circle cx="388.3" cy="228.9" r="1.09"/><circle cx="378.7" cy="241.4" r="1.17"/><circle cx="372.8" cy="225.6" r="1.23"/><circle cx="376.4" cy="241.0" r="1.19"/><circle cx="369.3" cy="236.4" r="1.26"/><circle cx="377.9" cy="222.9" r="1.18"/><circle cx="389.7" cy="225.7" r="1.07"/><circle cx="371.3" cy="239.3" r="1.24"/><circle cx="348.3" cy="226.5" r="1.45"/><circle cx="379.8" cy="229.0" r="1.16"/><circle cx="370.5" cy="230.3" r="1.25"/><circle cx="328.3" cy="229.4" r="1.63"/><circle cx="370.1" cy="229.6" r="1.25"/><circle cx="370.1" cy="237.3" r="1.25"/><circle cx="370.6" cy="228.1" r="1.25"/><circle cx="374.8" cy="234.8" r="1.21"/><circle cx="374.4" cy="238.7" r="1.21"/><circle cx="388.0" cy="238.6" r="1.09"/><circle cx="376.3" cy="223.4" r="1.19"/><circle cx="383.2" cy="237.4" r="1.13"/><circle cx="373.1" cy="222.7" r="1.22"/><circle cx="372.7" cy="234.4" r="1.23"/><circle cx="375.1" cy="224.2" r="1.21"/><circle cx="377.5" cy="238.8" r="1.18"/><circle cx="389.7" cy="232.5" r="1.07"/><circle cx="381.7" cy="237.6" r="1.15"/><circle cx="374.0" cy="229.2" r="1.22"/><circle cx="368.3" cy="238.9" r="1.27"/><circle cx="378.7" cy="222.6" r="1.17"/><circle cx="384.7" cy="226.6" r="1.12"/><circle cx="379.1" cy="230.6" r="1.17"/><circle cx="375.2" cy="229.2" r="1.2"/><circle cx="386.3" cy="236.3" r="1.1"/><circle cx="373.5" cy="238.0" r="1.22"/><circle cx="383.3" cy="228.7" r="1.13"/><circle cx="370.9" cy="226.7" r="1.24"/><circle cx="371.5" cy="241.9" r="1.24"/><circle cx="360.7" cy="224.6" r="1.33"/><circle cx="379.9" cy="239.6" r="1.16"/><circle cx="385.7" cy="235.0" r="1.11"/><circle cx="383.9" cy="230.1" r="1.13"/><circle cx="378.4" cy="242.1" r="1.17"/><circle cx="376.9" cy="222.5" r="1.19"/><circle cx="376.8" cy="226.2" r="1.19"/><circle cx="367.7" cy="223.2" r="1.27"/><circle cx="380.5" cy="239.1" r="1.16"/><circle cx="366.8" cy="224.0" r="1.28"/><circle cx="385.0" cy="222.9" r="1.12"/><circle cx="388.1" cy="233.4" r="1.09"/><circle cx="367.6" cy="231.1" r="1.27"/><circle cx="339.4" cy="224.4" r="1.53"/><circle cx="385.9" cy="232.6" r="1.11"/><circle cx="382.0" cy="224.2" r="1.14"/><circle cx="368.8" cy="237.0" r="1.26"/><circle cx="372.6" cy="223.0" r="1.23"/><circle cx="370.0" cy="228.9" r="1.25"/><circle cx="375.4" cy="238.7" r="1.2"/><circle cx="367.8" cy="228.6" r="1.27"/><circle cx="389.4" cy="224.4" r="1.08"/><circle cx="388.6" cy="229.8" r="1.08"/><circle cx="380.4" cy="224.1" r="1.16"/><circle cx="381.9" cy="232.8" r="1.14"/><circle cx="363.7" cy="234.5" r="1.31"/><circle cx="334.6" cy="225.7" r="1.57"/><circle cx="383.9" cy="236.6" r="1.13"/><circle cx="369.9" cy="234.5" r="1.25"/><circle cx="384.1" cy="231.6" r="1.12"/><circle cx="368.0" cy="235.6" r="1.27"/><circle cx="371.9" cy="223.6" r="1.23"/><circle cx="356.3" cy="224.4" r="1.38"/><circle cx="374.3" cy="222.3" r="1.21"/><circle cx="376.0" cy="233.9" r="1.2"/><circle cx="361.7" cy="236.4" r="1.33"/><circle cx="362.7" cy="222.1" r="1.32"/><circle cx="366.8" cy="227.8" r="1.28"/><circle cx="380.0" cy="229.1" r="1.16"/><circle cx="387.2" cy="238.7" r="1.09"/><circle cx="374.7" cy="239.8" r="1.21"/><circle cx="374.7" cy="238.7" r="1.21"/><circle cx="381.4" cy="227.7" r="1.15"/><circle cx="358.9" cy="237.7" r="1.35"/><circle cx="384.0" cy="242.2" r="1.12"/><circle cx="367.8" cy="228.3" r="1.27"/><circle cx="377.9" cy="228.6" r="1.18"/><circle cx="376.1" cy="226.1" r="1.2"/><circle cx="376.1" cy="228.4" r="1.2"/><circle cx="373.5" cy="226.5" r="1.22"/><circle cx="361.5" cy="236.2" r="1.33"/><circle cx="380.4" cy="240.0" r="1.16"/><circle cx="344.5" cy="231.2" r="1.48"/><circle cx="365.9" cy="230.7" r="1.29"/><circle cx="374.5" cy="230.0" r="1.21"/><circle cx="376.8" cy="223.8" r="1.19"/><circle cx="384.8" cy="235.2" r="1.12"/><circle cx="372.0" cy="236.0" r="1.23"/><circle cx="380.3" cy="223.5" r="1.16"/><circle cx="378.5" cy="236.5" r="1.17"/><circle cx="376.6" cy="238.9" r="1.19"/><circle cx="382.2" cy="225.1" r="1.14"/><circle cx="386.4" cy="230.5" r="1.1"/><circle cx="347.9" cy="225.4" r="1.45"/><circle cx="380.6" cy="242.3" r="1.15"/><circle cx="381.7" cy="231.4" r="1.15"/><circle cx="379.1" cy="226.8" r="1.17"/><circle cx="375.5" cy="236.7" r="1.2"/><circle cx="374.8" cy="235.7" r="1.21"/><circle cx="372.5" cy="228.3" r="1.23"/><circle cx="388.2" cy="238.8" r="1.09"/><circle cx="354.9" cy="240.4" r="1.39"/><circle cx="369.2" cy="224.1" r="1.26"/><circle cx="379.1" cy="232.7" r="1.17"/><circle cx="369.5" cy="230.9" r="1.26"/><circle cx="384.5" cy="241.6" r="1.12"/><circle cx="370.0" cy="232.0" r="1.25"/><circle cx="360.3" cy="227.0" r="1.34"/><circle cx="380.5" cy="224.7" r="1.16"/><circle cx="365.1" cy="225.0" r="1.3"/><circle cx="378.2" cy="227.0" r="1.18"/><circle cx="386.1" cy="232.8" r="1.11"/><circle cx="363.5" cy="228.5" r="1.31"/><circle cx="368.4" cy="229.8" r="1.27"/><circle cx="379.4" cy="231.1" r="1.17"/><circle cx="371.0" cy="232.0" r="1.24"/><circle cx="383.1" cy="229.1" r="1.13"/><circle cx="383.1" cy="239.4" r="1.13"/><circle cx="361.8" cy="222.7" r="1.33"/><circle cx="376.0" cy="229.6" r="1.2"/><circle cx="377.0" cy="229.2" r="1.19"/><circle cx="365.8" cy="240.9" r="1.29"/><circle cx="364.8" cy="230.5" r="1.3"/><circle cx="362.2" cy="233.6" r="1.32"/><circle cx="387.8" cy="238.8" r="1.09"/><circle cx="366.6" cy="228.2" r="1.28"/><circle cx="380.5" cy="224.2" r="1.16"/><circle cx="377.1" cy="227.8" r="1.19"/><circle cx="363.6" cy="223.9" r="1.31"/><circle cx="362.2" cy="229.0" r="1.32"/><circle cx="389.6" cy="235.0" r="1.07"/><circle cx="358.1" cy="234.8" r="1.36"/><circle cx="386.4" cy="235.2" r="1.1"/><circle cx="385.1" cy="240.8" r="1.11"/><circle cx="379.9" cy="223.2" r="1.16"/><circle cx="387.1" cy="221.9" r="1.1"/><circle cx="367.5" cy="235.6" r="1.27"/><circle cx="378.0" cy="224.2" r="1.18"/><circle cx="380.8" cy="227.4" r="1.15"/><circle cx="383.7" cy="238.0" r="1.13"/><circle cx="388.9" cy="226.1" r="1.08"/><circle cx="379.9" cy="225.9" r="1.16"/><circle cx="380.4" cy="237.1" r="1.16"/><circle cx="357.4" cy="235.7" r="1.37"/><circle cx="363.9" cy="225.6" r="1.31"/><circle cx="381.9" cy="228.2" r="1.14"/><circle cx="350.1" cy="223.4" r="1.43"/><circle cx="381.1" cy="226.2" r="1.15"/><circle cx="386.5" cy="237.9" r="1.1"/><circle cx="367.6" cy="239.8" r="1.27"/><circle cx="379.5" cy="231.4" r="1.17"/><circle cx="371.2" cy="224.1" r="1.24"/><circle cx="381.9" cy="231.0" r="1.14"/><circle cx="381.2" cy="233.1" r="1.15"/><circle cx="375.8" cy="236.3" r="1.2"/><circle cx="380.5" cy="231.7" r="1.16"/><circle cx="378.0" cy="225.1" r="1.18"/><circle cx="382.5" cy="234.2" r="1.14"/><circle cx="386.6" cy="236.5" r="1.1"/><circle cx="380.4" cy="241.8" r="1.16"/><circle cx="389.3" cy="233.4" r="1.08"/><circle cx="381.8" cy="238.3" r="1.14"/><circle cx="377.6" cy="239.6" r="1.18"/><circle cx="370.6" cy="234.4" r="1.25"/><circle cx="382.2" cy="228.7" r="1.14"/><circle cx="355.9" cy="231.3" r="1.38"/><circle cx="386.2" cy="236.7" r="1.1"/><circle cx="389.9" cy="222.1" r="1.07"/><circle cx="380.8" cy="232.0" r="1.15"/><circle cx="359.4" cy="225.4" r="1.35"/><circle cx="380.4" cy="228.9" r="1.16"/><circle cx="374.6" cy="225.8" r="1.21"/><circle cx="378.7" cy="230.7" r="1.17"/><circle cx="357.5" cy="230.8" r="1.36"/><circle cx="348.0" cy="239.0" r="1.45"/><circle cx="377.1" cy="236.3" r="1.19"/><circle cx="361.6" cy="237.0" r="1.33"/><circle cx="379.1" cy="235.7" r="1.17"/><circle cx="371.4" cy="225.4" r="1.24"/><circle cx="369.6" cy="232.0" r="1.25"/><circle cx="366.9" cy="241.6" r="1.28"/><circle cx="383.2" cy="221.9" r="1.13"/><circle cx="381.8" cy="240.4" r="1.14"/><circle cx="384.7" cy="234.0" r="1.12"/><circle cx="365.4" cy="235.9" r="1.29"/><circle cx="383.8" cy="229.6" r="1.13"/><circle cx="376.1" cy="233.4" r="1.2"/><circle cx="378.3" cy="234.1" r="1.18"/><circle cx="358.2" cy="241.4" r="1.36"/><circle cx="389.5" cy="237.8" r="1.07"/><circle cx="367.1" cy="240.1" r="1.28"/><circle cx="388.6" cy="226.8" r="1.08"/><circle cx="371.8" cy="237.7" r="1.23"/><circle cx="383.4" cy="237.1" r="1.13"/><circle cx="376.6" cy="236.3" r="1.19"/><circle cx="377.6" cy="236.4" r="1.18"/><circle cx="369.1" cy="227.8" r="1.26"/><circle cx="383.2" cy="228.8" r="1.13"/><circle cx="385.5" cy="233.3" r="1.11"/><circle cx="371.5" cy="225.0" r="1.24"/><circle cx="389.2" cy="237.0" r="1.08"/><circle cx="385.9" cy="224.1" r="1.11"/><circle cx="380.7" cy="231.7" r="1.15"/><circle cx="349.9" cy="242.2" r="1.43"/><circle cx="367.0" cy="241.4" r="1.28"/><circle cx="370.2" cy="224.8" r="1.25"/><circle cx="353.9" cy="237.4" r="1.4"/><circle cx="383.3" cy="228.0" r="1.13"/><circle cx="376.3" cy="240.5" r="1.19"/><circle cx="370.1" cy="236.8" r="1.25"/><circle cx="389.0" cy="227.2" r="1.08"/><circle cx="385.9" cy="238.7" r="1.11"/><circle cx="378.6" cy="241.2" r="1.17"/><circle cx="377.4" cy="226.5" r="1.18"/><circle cx="369.7" cy="231.0" r="1.25"/><circle cx="362.1" cy="232.6" r="1.32"/><circle cx="357.8" cy="226.4" r="1.36"/><circle cx="386.5" cy="223.1" r="1.1"/><circle cx="385.9" cy="231.7" r="1.11"/><circle cx="378.2" cy="237.7" r="1.18"/><circle cx="381.1" cy="230.9" r="1.15"/><circle cx="325.7" cy="234.2" r="1.65"/><circle cx="357.5" cy="222.6" r="1.36"/><circle cx="386.6" cy="241.9" r="1.1"/><circle cx="388.5" cy="242.3" r="1.08"/><circle cx="370.4" cy="226.2" r="1.25"/><circle cx="380.4" cy="228.9" r="1.16"/><circle cx="372.3" cy="224.4" r="1.23"/><circle cx="368.1" cy="239.8" r="1.27"/><circle cx="369.9" cy="237.8" r="1.25"/><circle cx="356.2" cy="221.9" r="1.38"/><circle cx="358.0" cy="230.4" r="1.36"/><circle cx="360.6" cy="226.9" r="1.34"/><circle cx="326.6" cy="237.6" r="1.64"/><circle cx="373.6" cy="222.5" r="1.22"/><circle cx="376.1" cy="229.8" r="1.2"/><circle cx="385.7" cy="231.1" r="1.11"/><circle cx="378.2" cy="234.6" r="1.18"/><circle cx="361.8" cy="239.3" r="1.33"/><circle cx="354.4" cy="240.5" r="1.39"/><circle cx="389.1" cy="227.8" r="1.08"/><circle cx="359.1" cy="235.4" r="1.35"/><circle cx="382.1" cy="221.8" r="1.14"/><circle cx="385.8" cy="241.0" r="1.11"/><circle cx="349.7" cy="235.6" r="1.44"/><circle cx="360.8" cy="224.2" r="1.33"/><circle cx="369.9" cy="222.5" r="1.25"/><circle cx="377.6" cy="232.4" r="1.18"/><circle cx="377.4" cy="240.9" r="1.18"/><circle cx="378.4" cy="239.4" r="1.17"/><circle cx="373.6" cy="232.5" r="1.22"/><circle cx="373.1" cy="225.5" r="1.22"/><circle cx="357.8" cy="226.7" r="1.36"/><circle cx="373.2" cy="227.6" r="1.22"/><circle cx="372.5" cy="228.1" r="1.23"/><circle cx="375.9" cy="231.8" r="1.2"/><circle cx="373.8" cy="237.6" r="1.22"/><circle cx="331.2" cy="235.2" r="1.6"/><circle cx="370.6" cy="233.1" r="1.25"/><circle cx="371.2" cy="239.4" r="1.24"/><circle cx="366.1" cy="236.9" r="1.29"/><circle cx="383.2" cy="240.3" r="1.13"/><circle cx="381.8" cy="228.1" r="1.14"/><circle cx="354.3" cy="239.5" r="1.39"/><circle cx="383.6" cy="234.1" r="1.13"/><circle cx="380.3" cy="231.5" r="1.16"/><circle cx="352.9" cy="235.7" r="1.41"/><circle cx="365.0" cy="233.5" r="1.3"/><circle cx="362.4" cy="237.7" r="1.32"/><circle cx="369.6" cy="234.8" r="1.25"/><circle cx="373.4" cy="238.7" r="1.22"/><circle cx="378.7" cy="241.8" r="1.17"/><circle cx="382.0" cy="240.7" r="1.14"/><circle cx="390.0" cy="221.8" r="1.07"/><circle cx="382.9" cy="230.6" r="1.13"/><circle cx="388.7" cy="222.5" r="1.08"/><circle cx="375.7" cy="238.9" r="1.2"/><circle cx="366.3" cy="225.8" r="1.28"/><circle cx="366.0" cy="223.3" r="1.29"/><circle cx="376.6" cy="235.7" r="1.19"/><circle cx="361.4" cy="237.8" r="1.33"/><circle cx="371.7" cy="232.4" r="1.24"/><circle cx="374.9" cy="231.0" r="1.21"/><circle cx="361.6" cy="236.9" r="1.33"/><circle cx="373.4" cy="221.8" r="1.22"/><circle cx="363.3" cy="237.8" r="1.31"/><circle cx="379.3" cy="227.5" r="1.17"/><circle cx="372.1" cy="224.7" r="1.23"/><circle cx="388.9" cy="230.7" r="1.08"/><circle cx="384.7" cy="232.7" r="1.12"/><circle cx="366.3" cy="233.1" r="1.28"/><circle cx="374.5" cy="238.1" r="1.21"/><circle cx="368.1" cy="235.5" r="1.27"/><circle cx="376.0" cy="237.7" r="1.2"/><circle cx="384.7" cy="228.5" r="1.12"/><circle cx="354.6" cy="222.9" r="1.39"/><circle cx="384.9" cy="223.3" r="1.12"/><circle cx="367.5" cy="230.1" r="1.27"/><circle cx="376.3" cy="224.2" r="1.19"/><circle cx="385.4" cy="228.1" r="1.11"/><circle cx="380.7" cy="230.3" r="1.15"/><circle cx="375.4" cy="221.7" r="1.2"/><circle cx="387.0" cy="222.8" r="1.1"/><circle cx="369.1" cy="225.5" r="1.26"/><circle cx="349.7" cy="240.3" r="1.43"/><circle cx="356.6" cy="223.6" r="1.37"/><circle cx="336.1" cy="234.0" r="1.56"/><circle cx="366.2" cy="237.2" r="1.28"/><circle cx="352.6" cy="240.5" r="1.41"/><circle cx="359.4" cy="240.2" r="1.35"/><circle cx="384.3" cy="229.9" r="1.12"/><circle cx="384.3" cy="226.1" r="1.12"/><circle cx="381.5" cy="232.7" r="1.15"/><circle cx="361.4" cy="224.1" r="1.33"/><circle cx="374.0" cy="226.9" r="1.21"/><circle cx="383.0" cy="239.9" r="1.13"/><circle cx="376.7" cy="236.9" r="1.19"/><circle cx="379.3" cy="227.0" r="1.17"/><circle cx="384.5" cy="234.3" r="1.12"/><circle cx="337.2" cy="238.3" r="1.55"/><circle cx="363.3" cy="223.4" r="1.31"/><circle cx="374.2" cy="222.3" r="1.21"/><circle cx="368.7" cy="225.8" r="1.26"/><circle cx="373.4" cy="230.1" r="1.22"/><circle cx="385.8" cy="222.5" r="1.11"/><circle cx="375.2" cy="230.4" r="1.2"/><circle cx="385.6" cy="237.8" r="1.11"/><circle cx="379.3" cy="227.8" r="1.17"/><circle cx="379.7" cy="237.3" r="1.16"/><circle cx="368.9" cy="238.4" r="1.26"/><circle cx="348.6" cy="238.6" r="1.44"/><circle cx="389.4" cy="227.8" r="1.08"/><circle cx="341.1" cy="242.2" r="1.51"/><circle cx="384.5" cy="238.1" r="1.12"/><circle cx="381.3" cy="234.5" r="1.15"/><circle cx="358.4" cy="232.5" r="1.36"/><circle cx="383.9" cy="235.7" r="1.13"/><circle cx="383.1" cy="228.7" r="1.13"/><circle cx="376.1" cy="232.4" r="1.2"/><circle cx="389.9" cy="230.2" r="1.07"/><circle cx="384.5" cy="237.1" r="1.12"/><circle cx="327.2" cy="240.7" r="1.64"/><circle cx="374.5" cy="221.7" r="1.21"/><circle cx="374.3" cy="240.2" r="1.21"/><circle cx="376.0" cy="225.9" r="1.2"/><circle cx="353.0" cy="240.5" r="1.41"/><circle cx="361.8" cy="222.4" r="1.32"/><circle cx="383.8" cy="226.3" r="1.13"/><circle cx="370.0" cy="222.1" r="1.25"/><circle cx="362.7" cy="240.3" r="1.32"/><circle cx="384.7" cy="239.5" r="1.12"/><circle cx="361.9" cy="226.6" r="1.32"/><circle cx="377.8" cy="200.9" r="1.18"/><circle cx="381.1" cy="216.1" r="1.15"/><circle cx="376.3" cy="216.2" r="1.19"/><circle cx="353.4" cy="206.6" r="1.4"/><circle cx="362.3" cy="212.3" r="1.32"/><circle cx="380.5" cy="214.5" r="1.16"/><circle cx="388.4" cy="213.3" r="1.08"/><circle cx="382.6" cy="200.2" r="1.14"/><circle cx="332.8" cy="206.6" r="1.59"/><circle cx="362.4" cy="200.1" r="1.32"/><circle cx="358.3" cy="219.9" r="1.36"/><circle cx="358.8" cy="212.9" r="1.35"/><circle cx="371.4" cy="200.2" r="1.24"/><circle cx="381.0" cy="205.8" r="1.15"/><circle cx="367.0" cy="197.2" r="1.28"/><circle cx="364.9" cy="203.1" r="1.3"/><circle cx="386.2" cy="205.8" r="1.1"/><circle cx="353.4" cy="219.3" r="1.4"/><circle cx="355.2" cy="200.3" r="1.38"/><circle cx="375.8" cy="198.3" r="1.2"/><circle cx="385.5" cy="214.2" r="1.11"/><circle cx="374.8" cy="206.9" r="1.21"/><circle cx="337.6" cy="212.7" r="1.54"/><circle cx="376.2" cy="220.7" r="1.2"/><circle cx="388.6" cy="196.7" r="1.08"/><circle cx="370.3" cy="212.0" r="1.25"/><circle cx="373.3" cy="219.5" r="1.22"/><circle cx="386.7" cy="214.8" r="1.1"/><circle cx="371.8" cy="218.4" r="1.23"/><circle cx="382.0" cy="215.2" r="1.14"/><circle cx="388.4" cy="197.6" r="1.08"/><circle cx="386.0" cy="196.0" r="1.11"/><circle cx="363.5" cy="221.6" r="1.31"/><circle cx="353.4" cy="205.7" r="1.4"/><circle cx="310.9" cy="221.6" r="1.79"/><circle cx="377.4" cy="218.8" r="1.18"/><circle cx="367.7" cy="211.5" r="1.27"/><circle cx="355.3" cy="206.4" r="1.38"/><circle cx="380.6" cy="205.3" r="1.15"/><circle cx="383.3" cy="218.3" r="1.13"/><circle cx="343.1" cy="218.7" r="1.49"/><circle cx="329.8" cy="204.1" r="1.61"/><circle cx="369.2" cy="212.9" r="1.26"/><circle cx="375.6" cy="207.4" r="1.2"/><circle cx="387.3" cy="202.5" r="1.09"/><circle cx="348.3" cy="204.9" r="1.45"/><circle cx="360.9" cy="202.2" r="1.33"/><circle cx="360.5" cy="212.5" r="1.34"/><circle cx="348.5" cy="196.5" r="1.45"/><circle cx="387.7" cy="212.5" r="1.09"/><circle cx="389.7" cy="207.3" r="1.07"/><circle cx="377.3" cy="201.1" r="1.18"/><circle cx="363.0" cy="202.8" r="1.31"/><circle cx="371.1" cy="198.6" r="1.24"/><circle cx="376.1" cy="202.3" r="1.2"/><circle cx="367.7" cy="197.0" r="1.27"/><circle cx="377.7" cy="205.3" r="1.18"/><circle cx="384.6" cy="206.7" r="1.12"/><circle cx="366.4" cy="220.0" r="1.28"/><circle cx="360.9" cy="221.3" r="1.33"/><circle cx="365.0" cy="203.7" r="1.3"/><circle cx="374.1" cy="219.5" r="1.21"/><circle cx="371.5" cy="199.9" r="1.24"/><circle cx="370.8" cy="199.9" r="1.24"/><circle cx="363.4" cy="201.0" r="1.31"/><circle cx="370.4" cy="211.1" r="1.25"/><circle cx="364.9" cy="209.8" r="1.3"/><circle cx="365.8" cy="202.6" r="1.29"/><circle cx="380.0" cy="198.6" r="1.16"/><circle cx="379.3" cy="198.2" r="1.17"/><circle cx="355.3" cy="211.4" r="1.38"/><circle cx="355.2" cy="206.2" r="1.39"/><circle cx="380.0" cy="220.7" r="1.16"/><circle cx="364.2" cy="200.9" r="1.3"/><circle cx="376.2" cy="215.8" r="1.19"/><circle cx="359.6" cy="218.5" r="1.34"/><circle cx="374.6" cy="198.4" r="1.21"/><circle cx="368.2" cy="218.1" r="1.27"/><circle cx="375.5" cy="207.7" r="1.2"/><circle cx="384.7" cy="215.4" r="1.12"/><circle cx="374.2" cy="210.0" r="1.21"/><circle cx="385.2" cy="212.0" r="1.11"/><circle cx="375.5" cy="201.7" r="1.2"/><circle cx="388.8" cy="213.3" r="1.08"/><circle cx="335.2" cy="210.8" r="1.57"/><circle cx="382.8" cy="197.8" r="1.14"/><circle cx="373.4" cy="212.1" r="1.22"/><circle cx="387.9" cy="200.3" r="1.09"/><circle cx="379.4" cy="200.1" r="1.17"/><circle cx="363.2" cy="221.5" r="1.31"/><circle cx="369.2" cy="214.7" r="1.26"/><circle cx="387.5" cy="214.6" r="1.09"/><circle cx="361.2" cy="205.5" r="1.33"/><circle cx="384.8" cy="212.4" r="1.12"/><circle cx="364.0" cy="198.6" r="1.3"/><circle cx="378.8" cy="221.4" r="1.17"/><circle cx="381.6" cy="210.9" r="1.15"/><circle cx="387.5" cy="215.7" r="1.09"/><circle cx="385.2" cy="213.7" r="1.11"/><circle cx="350.9" cy="211.4" r="1.42"/><circle cx="370.9" cy="218.9" r="1.24"/><circle cx="378.6" cy="215.2" r="1.17"/><circle cx="341.4" cy="206.1" r="1.51"/><circle cx="359.2" cy="203.4" r="1.35"/><circle cx="368.4" cy="204.2" r="1.27"/><circle cx="371.4" cy="220.8" r="1.24"/><circle cx="363.4" cy="198.3" r="1.31"/><circle cx="379.8" cy="206.7" r="1.16"/><circle cx="364.6" cy="221.4" r="1.3"/><circle cx="368.3" cy="197.6" r="1.27"/><circle cx="371.7" cy="208.9" r="1.24"/><circle cx="367.9" cy="207.6" r="1.27"/><circle cx="364.0" cy="219.0" r="1.31"/><circle cx="379.7" cy="211.9" r="1.16"/><circle cx="371.5" cy="207.7" r="1.24"/><circle cx="370.5" cy="200.1" r="1.25"/><circle cx="385.0" cy="211.2" r="1.12"/><circle cx="386.7" cy="218.9" r="1.1"/><circle cx="362.7" cy="203.7" r="1.32"/><circle cx="383.5" cy="202.4" r="1.13"/><circle cx="373.3" cy="201.1" r="1.22"/><circle cx="381.3" cy="197.4" r="1.15"/><circle cx="370.7" cy="215.9" r="1.24"/><circle cx="374.1" cy="218.0" r="1.21"/><circle cx="377.4" cy="216.9" r="1.18"/><circle cx="372.4" cy="211.1" r="1.23"/><circle cx="355.2" cy="198.8" r="1.38"/><circle cx="364.4" cy="221.4" r="1.3"/><circle cx="386.3" cy="210.1" r="1.1"/><circle cx="383.4" cy="221.6" r="1.13"/><circle cx="330.6" cy="219.9" r="1.61"/><circle cx="359.2" cy="214.0" r="1.35"/><circle cx="370.2" cy="213.3" r="1.25"/><circle cx="371.1" cy="220.1" r="1.24"/><circle cx="377.8" cy="207.1" r="1.18"/><circle cx="350.2" cy="198.2" r="1.43"/><circle cx="381.9" cy="219.7" r="1.14"/><circle cx="367.5" cy="220.6" r="1.27"/><circle cx="372.6" cy="213.7" r="1.23"/><circle cx="374.1" cy="202.4" r="1.21"/><circle cx="386.5" cy="198.7" r="1.1"/><circle cx="369.0" cy="217.1" r="1.26"/><circle cx="377.1" cy="211.5" r="1.19"/><circle cx="387.8" cy="220.3" r="1.09"/><circle cx="370.5" cy="201.5" r="1.25"/><circle cx="377.0" cy="203.2" r="1.19"/><circle cx="389.6" cy="204.5" r="1.07"/><circle cx="372.2" cy="219.0" r="1.23"/><circle cx="365.7" cy="196.3" r="1.29"/><circle cx="363.9" cy="215.9" r="1.31"/><circle cx="364.4" cy="209.5" r="1.3"/><circle cx="384.3" cy="208.6" r="1.12"/><circle cx="388.0" cy="207.0" r="1.09"/><circle cx="388.5" cy="211.6" r="1.08"/><circle cx="350.3" cy="213.8" r="1.43"/><circle cx="359.1" cy="200.0" r="1.35"/><circle cx="367.4" cy="219.7" r="1.27"/><circle cx="382.1" cy="218.2" r="1.14"/><circle cx="385.8" cy="214.0" r="1.11"/><circle cx="369.3" cy="198.1" r="1.26"/><circle cx="384.8" cy="203.4" r="1.12"/><circle cx="368.0" cy="218.8" r="1.27"/><circle cx="364.1" cy="221.6" r="1.3"/><circle cx="379.4" cy="217.1" r="1.17"/><circle cx="380.2" cy="212.6" r="1.16"/><circle cx="380.1" cy="200.1" r="1.16"/><circle cx="373.9" cy="211.3" r="1.22"/><circle cx="376.1" cy="199.8" r="1.2"/><circle cx="377.9" cy="206.2" r="1.18"/><circle cx="386.4" cy="210.1" r="1.1"/><circle cx="371.5" cy="208.9" r="1.24"/><circle cx="363.0" cy="200.5" r="1.31"/><circle cx="385.1" cy="196.6" r="1.11"/><circle cx="384.6" cy="197.8" r="1.12"/><circle cx="388.0" cy="196.8" r="1.09"/><circle cx="380.0" cy="205.2" r="1.16"/><circle cx="385.4" cy="203.9" r="1.11"/><circle cx="319.3" cy="208.4" r="1.71"/><circle cx="380.3" cy="207.7" r="1.16"/><circle cx="384.4" cy="198.7" r="1.12"/><circle cx="349.3" cy="217.6" r="1.44"/><circle cx="385.4" cy="209.3" r="1.11"/><circle cx="362.6" cy="216.4" r="1.32"/><circle cx="376.5" cy="203.7" r="1.19"/><circle cx="386.5" cy="215.9" r="1.1"/><circle cx="365.1" cy="202.0" r="1.29"/><circle cx="385.9" cy="197.7" r="1.11"/><circle cx="362.4" cy="219.5" r="1.32"/><circle cx="365.8" cy="200.9" r="1.29"/><circle cx="385.4" cy="213.6" r="1.11"/><circle cx="383.9" cy="213.7" r="1.12"/><circle cx="388.0" cy="208.3" r="1.09"/><circle cx="374.2" cy="198.1" r="1.21"/><circle cx="373.0" cy="209.2" r="1.22"/><circle cx="357.6" cy="216.4" r="1.36"/><circle cx="373.3" cy="208.7" r="1.22"/><circle cx="368.9" cy="206.6" r="1.26"/><circle cx="386.6" cy="220.6" r="1.1"/><circle cx="379.0" cy="210.8" r="1.17"/><circle cx="371.2" cy="218.8" r="1.24"/><circle cx="382.1" cy="211.4" r="1.14"/><circle cx="384.1" cy="210.9" r="1.12"/><circle cx="366.1" cy="201.2" r="1.29"/><circle cx="381.0" cy="218.5" r="1.15"/><circle cx="363.9" cy="203.8" r="1.31"/><circle cx="383.5" cy="198.4" r="1.13"/><circle cx="367.3" cy="215.0" r="1.28"/><circle cx="365.0" cy="209.4" r="1.3"/><circle cx="350.6" cy="209.4" r="1.43"/><circle cx="375.6" cy="199.2" r="1.2"/><circle cx="374.3" cy="201.7" r="1.21"/><circle cx="375.3" cy="209.2" r="1.2"/><circle cx="380.3" cy="197.7" r="1.16"/><circle cx="384.7" cy="209.1" r="1.12"/><circle cx="383.2" cy="203.4" r="1.13"/><circle cx="351.6" cy="206.2" r="1.42"/><circle cx="371.3" cy="198.8" r="1.24"/><circle cx="379.9" cy="197.1" r="1.16"/><circle cx="383.4" cy="201.9" r="1.13"/><circle cx="354.8" cy="201.4" r="1.39"/><circle cx="373.6" cy="207.9" r="1.22"/><circle cx="378.3" cy="209.8" r="1.18"/><circle cx="366.2" cy="201.6" r="1.29"/><circle cx="371.8" cy="213.8" r="1.23"/><circle cx="372.6" cy="203.4" r="1.23"/><circle cx="375.6" cy="221.3" r="1.2"/><circle cx="387.7" cy="202.8" r="1.09"/><circle cx="384.0" cy="199.7" r="1.12"/><circle cx="380.9" cy="211.7" r="1.15"/><circle cx="381.0" cy="213.6" r="1.15"/><circle cx="335.6" cy="216.2" r="1.56"/><circle cx="375.2" cy="198.0" r="1.2"/><circle cx="372.8" cy="203.1" r="1.23"/><circle cx="367.9" cy="203.3" r="1.27"/><circle cx="373.9" cy="205.2" r="1.22"/><circle cx="369.8" cy="196.8" r="1.25"/><circle cx="377.1" cy="216.1" r="1.19"/><circle cx="380.3" cy="221.3" r="1.16"/><circle cx="372.5" cy="197.2" r="1.23"/><circle cx="389.6" cy="211.5" r="1.07"/><circle cx="375.5" cy="209.0" r="1.2"/><circle cx="358.0" cy="217.6" r="1.36"/><circle cx="373.9" cy="196.1" r="1.22"/><circle cx="384.3" cy="204.9" r="1.12"/><circle cx="352.4" cy="217.2" r="1.41"/><circle cx="370.7" cy="214.4" r="1.24"/><circle cx="338.3" cy="196.6" r="1.54"/><circle cx="381.1" cy="213.8" r="1.15"/><circle cx="372.2" cy="197.9" r="1.23"/><circle cx="382.5" cy="201.8" r="1.14"/><circle cx="373.6" cy="210.4" r="1.22"/><circle cx="359.6" cy="211.6" r="1.34"/><circle cx="356.2" cy="218.5" r="1.38"/><circle cx="381.4" cy="204.5" r="1.15"/><circle cx="359.3" cy="221.0" r="1.35"/><circle cx="359.9" cy="205.6" r="1.34"/><circle cx="376.4" cy="199.4" r="1.19"/><circle cx="365.0" cy="212.5" r="1.3"/><circle cx="369.4" cy="196.3" r="1.26"/><circle cx="375.3" cy="203.7" r="1.2"/><circle cx="352.4" cy="207.2" r="1.41"/><circle cx="374.6" cy="208.0" r="1.21"/><circle cx="385.2" cy="203.6" r="1.11"/><circle cx="367.1" cy="198.9" r="1.28"/><circle cx="379.4" cy="212.6" r="1.17"/><circle cx="365.4" cy="211.4" r="1.29"/><circle cx="360.6" cy="198.9" r="1.34"/><circle cx="363.9" cy="207.0" r="1.31"/><circle cx="385.1" cy="218.2" r="1.11"/><circle cx="357.2" cy="211.3" r="1.37"/><circle cx="346.6" cy="196.3" r="1.46"/><circle cx="385.3" cy="215.9" r="1.11"/><circle cx="361.7" cy="218.4" r="1.33"/><circle cx="345.5" cy="221.1" r="1.47"/><circle cx="355.9" cy="204.9" r="1.38"/><circle cx="383.4" cy="218.0" r="1.13"/><circle cx="365.0" cy="201.3" r="1.3"/><circle cx="383.4" cy="206.6" r="1.13"/><circle cx="364.6" cy="202.7" r="1.3"/><circle cx="369.5" cy="211.4" r="1.26"/><circle cx="373.4" cy="212.5" r="1.22"/><circle cx="381.8" cy="206.5" r="1.14"/><circle cx="377.9" cy="214.3" r="1.18"/><circle cx="380.7" cy="218.3" r="1.15"/><circle cx="388.8" cy="219.0" r="1.08"/><circle cx="387.9" cy="198.9" r="1.09"/><circle cx="378.1" cy="212.5" r="1.18"/><circle cx="373.2" cy="203.2" r="1.22"/><circle cx="379.8" cy="198.9" r="1.16"/><circle cx="363.4" cy="172.4" r="1.31"/><circle cx="386.0" cy="187.3" r="1.11"/><circle cx="344.5" cy="194.4" r="1.48"/><circle cx="356.7" cy="180.9" r="1.37"/><circle cx="368.7" cy="172.3" r="1.26"/><circle cx="373.2" cy="193.9" r="1.22"/><circle cx="358.3" cy="195.7" r="1.36"/><circle cx="369.1" cy="174.6" r="1.26"/><circle cx="384.3" cy="176.1" r="1.12"/><circle cx="382.3" cy="173.0" r="1.14"/><circle cx="353.3" cy="173.5" r="1.4"/><circle cx="360.2" cy="187.7" r="1.34"/><circle cx="376.6" cy="188.7" r="1.19"/><circle cx="366.4" cy="176.2" r="1.28"/><circle cx="363.2" cy="193.2" r="1.31"/><circle cx="369.8" cy="181.5" r="1.25"/><circle cx="386.1" cy="181.8" r="1.11"/><circle cx="366.8" cy="187.8" r="1.28"/><circle cx="388.6" cy="173.0" r="1.08"/><circle cx="383.2" cy="180.8" r="1.13"/><circle cx="384.6" cy="174.2" r="1.12"/><circle cx="355.9" cy="195.5" r="1.38"/><circle cx="365.9" cy="194.4" r="1.29"/><circle cx="332.5" cy="175.5" r="1.59"/><circle cx="381.5" cy="195.2" r="1.15"/><circle cx="379.5" cy="190.9" r="1.16"/><circle cx="372.4" cy="192.4" r="1.23"/><circle cx="364.9" cy="182.5" r="1.3"/><circle cx="371.6" cy="180.7" r="1.24"/><circle cx="335.6" cy="187.6" r="1.56"/><circle cx="374.6" cy="183.0" r="1.21"/><circle cx="364.0" cy="180.4" r="1.31"/><circle cx="354.4" cy="188.1" r="1.39"/><circle cx="364.8" cy="177.7" r="1.3"/><circle cx="330.9" cy="186.0" r="1.6"/><circle cx="376.4" cy="195.4" r="1.19"/><circle cx="359.6" cy="172.5" r="1.35"/><circle cx="379.3" cy="193.2" r="1.17"/><circle cx="360.6" cy="192.2" r="1.34"/><circle cx="367.3" cy="173.5" r="1.28"/><circle cx="374.4" cy="175.8" r="1.21"/><circle cx="378.7" cy="194.6" r="1.17"/><circle cx="352.0" cy="179.6" r="1.41"/><circle cx="371.0" cy="186.7" r="1.24"/><circle cx="375.6" cy="182.9" r="1.2"/><circle cx="383.2" cy="182.4" r="1.13"/><circle cx="386.2" cy="187.7" r="1.1"/><circle cx="357.3" cy="192.8" r="1.37"/><circle cx="372.0" cy="192.4" r="1.23"/><circle cx="379.6" cy="189.1" r="1.16"/><circle cx="364.3" cy="177.9" r="1.3"/><circle cx="368.9" cy="172.3" r="1.26"/><circle cx="380.4" cy="188.9" r="1.16"/><circle cx="372.4" cy="173.1" r="1.23"/><circle cx="386.5" cy="175.8" r="1.1"/><circle cx="382.7" cy="193.2" r="1.14"/><circle cx="363.0" cy="177.0" r="1.31"/><circle cx="350.6" cy="179.1" r="1.43"/><circle cx="365.0" cy="171.9" r="1.3"/><circle cx="387.8" cy="182.9" r="1.09"/><circle cx="376.0" cy="175.6" r="1.2"/><circle cx="363.4" cy="174.1" r="1.31"/><circle cx="382.3" cy="182.6" r="1.14"/><circle cx="371.9" cy="189.2" r="1.23"/><circle cx="368.5" cy="170.0" r="1.26"/><circle cx="337.2" cy="172.8" r="1.55"/><circle cx="372.2" cy="176.9" r="1.23"/><circle cx="385.0" cy="184.7" r="1.12"/><circle cx="366.3" cy="182.0" r="1.28"/><circle cx="372.6" cy="180.0" r="1.23"/><circle cx="347.3" cy="177.6" r="1.46"/><circle cx="363.6" cy="173.0" r="1.31"/><circle cx="375.9" cy="194.2" r="1.2"/><circle cx="368.9" cy="187.3" r="1.26"/><circle cx="375.9" cy="175.7" r="1.2"/><circle cx="386.4" cy="179.5" r="1.1"/><circle cx="368.7" cy="179.4" r="1.26"/><circle cx="381.0" cy="184.5" r="1.15"/><circle cx="367.8" cy="189.2" r="1.27"/><circle cx="361.9" cy="172.4" r="1.32"/><circle cx="379.7" cy="192.3" r="1.16"/><circle cx="369.5" cy="194.3" r="1.26"/><circle cx="371.3" cy="189.2" r="1.24"/><circle cx="376.0" cy="175.4" r="1.2"/><circle cx="384.1" cy="183.1" r="1.12"/><circle cx="364.6" cy="177.9" r="1.3"/><circle cx="381.6" cy="195.6" r="1.15"/><circle cx="366.8" cy="176.8" r="1.28"/><circle cx="372.0" cy="178.4" r="1.23"/><circle cx="379.5" cy="181.2" r="1.16"/><circle cx="369.3" cy="192.0" r="1.26"/><circle cx="367.5" cy="189.7" r="1.27"/><circle cx="380.1" cy="182.3" r="1.16"/><circle cx="383.3" cy="172.0" r="1.13"/><circle cx="382.3" cy="174.4" r="1.14"/><circle cx="360.6" cy="170.6" r="1.34"/><circle cx="375.4" cy="171.5" r="1.2"/><circle cx="382.6" cy="171.4" r="1.14"/><circle cx="363.6" cy="195.4" r="1.31"/><circle cx="363.5" cy="179.8" r="1.31"/><circle cx="387.9" cy="186.9" r="1.09"/><circle cx="369.6" cy="179.1" r="1.25"/><circle cx="385.7" cy="184.9" r="1.11"/><circle cx="360.7" cy="190.7" r="1.34"/><circle cx="372.8" cy="180.5" r="1.23"/><circle cx="368.5" cy="170.3" r="1.26"/><circle cx="375.8" cy="176.7" r="1.2"/><circle cx="340.0" cy="190.0" r="1.52"/><circle cx="376.3" cy="194.0" r="1.19"/><circle cx="379.7" cy="186.5" r="1.16"/><circle cx="357.9" cy="189.5" r="1.36"/><circle cx="380.7" cy="177.3" r="1.15"/><circle cx="384.3" cy="189.2" r="1.12"/><circle cx="368.4" cy="175.7" r="1.27"/><circle cx="386.4" cy="195.7" r="1.1"/><circle cx="337.8" cy="182.4" r="1.54"/><circle cx="333.3" cy="187.4" r="1.58"/><circle cx="377.2" cy="170.9" r="1.19"/><circle cx="376.9" cy="189.9" r="1.19"/><circle cx="320.1" cy="193.6" r="1.7"/><circle cx="380.1" cy="181.1" r="1.16"/><circle cx="374.4" cy="172.6" r="1.21"/><circle cx="357.9" cy="192.3" r="1.36"/><circle cx="388.2" cy="191.7" r="1.09"/><circle cx="374.4" cy="193.9" r="1.21"/><circle cx="365.0" cy="181.0" r="1.3"/><circle cx="371.0" cy="181.4" r="1.24"/><circle cx="351.0" cy="170.9" r="1.42"/><circle cx="361.7" cy="186.2" r="1.33"/><circle cx="386.2" cy="183.1" r="1.1"/><circle cx="362.8" cy="176.1" r="1.32"/><circle cx="374.5" cy="174.3" r="1.21"/><circle cx="363.6" cy="193.3" r="1.31"/><circle cx="376.6" cy="191.2" r="1.19"/><circle cx="383.7" cy="173.8" r="1.13"/><circle cx="368.0" cy="182.6" r="1.27"/><circle cx="380.2" cy="183.0" r="1.16"/><circle cx="377.1" cy="192.2" r="1.19"/><circle cx="383.8" cy="173.9" r="1.13"/><circle cx="356.3" cy="193.6" r="1.38"/><circle cx="353.2" cy="176.3" r="1.4"/><circle cx="359.2" cy="193.2" r="1.35"/><circle cx="374.9" cy="191.7" r="1.21"/><circle cx="362.4" cy="189.1" r="1.32"/><circle cx="373.2" cy="187.8" r="1.22"/><circle cx="366.6" cy="187.8" r="1.28"/><circle cx="337.9" cy="182.9" r="1.54"/><circle cx="374.3" cy="194.6" r="1.21"/><circle cx="380.4" cy="191.4" r="1.16"/><circle cx="354.7" cy="170.4" r="1.39"/><circle cx="362.8" cy="180.3" r="1.32"/><circle cx="330.6" cy="181.8" r="1.61"/><circle cx="381.7" cy="181.0" r="1.14"/><circle cx="341.8" cy="193.3" r="1.51"/><circle cx="366.6" cy="182.8" r="1.28"/><circle cx="380.1" cy="187.2" r="1.16"/><circle cx="350.0" cy="188.0" r="1.43"/><circle cx="375.6" cy="175.9" r="1.2"/><circle cx="369.7" cy="186.4" r="1.25"/><circle cx="357.6" cy="175.8" r="1.36"/><circle cx="385.0" cy="188.0" r="1.12"/><circle cx="377.1" cy="194.0" r="1.19"/><circle cx="371.4" cy="187.5" r="1.24"/><circle cx="381.9" cy="173.8" r="1.14"/><circle cx="383.2" cy="157.9" r="1.13"/><circle cx="351.0" cy="149.7" r="1.42"/><circle cx="386.3" cy="165.9" r="1.1"/><circle cx="367.0" cy="157.9" r="1.28"/><circle cx="350.7" cy="166.9" r="1.43"/><circle cx="375.3" cy="151.2" r="1.2"/><circle cx="380.7" cy="140.0" r="1.15"/><circle cx="352.7" cy="165.9" r="1.41"/><circle cx="381.6" cy="165.8" r="1.15"/><circle cx="362.3" cy="161.7" r="1.32"/><circle cx="370.3" cy="147.6" r="1.25"/><circle cx="378.8" cy="151.0" r="1.17"/><circle cx="364.9" cy="162.3" r="1.3"/><circle cx="369.4" cy="141.3" r="1.26"/><circle cx="363.2" cy="166.4" r="1.31"/><circle cx="346.5" cy="150.9" r="1.46"/><circle cx="370.9" cy="163.5" r="1.24"/><circle cx="365.0" cy="144.5" r="1.3"/><circle cx="378.4" cy="169.6" r="1.17"/><circle cx="361.7" cy="152.7" r="1.33"/><circle cx="363.6" cy="161.5" r="1.31"/><circle cx="317.2" cy="166.3" r="1.73"/><circle cx="372.0" cy="167.4" r="1.23"/><circle cx="380.0" cy="140.8" r="1.16"/><circle cx="367.2" cy="159.2" r="1.28"/><circle cx="321.8" cy="155.7" r="1.69"/><circle cx="379.5" cy="145.7" r="1.17"/><circle cx="330.1" cy="148.8" r="1.61"/><circle cx="366.4" cy="146.2" r="1.28"/><circle cx="383.5" cy="166.6" r="1.13"/><circle cx="371.8" cy="165.8" r="1.23"/><circle cx="378.7" cy="142.5" r="1.17"/><circle cx="376.2" cy="160.8" r="1.2"/><circle cx="377.9" cy="158.4" r="1.18"/><circle cx="383.1" cy="164.5" r="1.13"/><circle cx="316.2" cy="154.5" r="1.74"/><circle cx="372.3" cy="150.4" r="1.23"/><circle cx="368.7" cy="168.0" r="1.26"/><circle cx="380.7" cy="153.2" r="1.15"/><circle cx="377.9" cy="143.4" r="1.18"/><circle cx="334.7" cy="167.2" r="1.57"/><circle cx="386.7" cy="155.9" r="1.1"/><circle cx="359.8" cy="163.7" r="1.34"/><circle cx="387.6" cy="163.1" r="1.09"/><circle cx="371.4" cy="142.1" r="1.24"/><circle cx="372.6" cy="166.9" r="1.23"/><circle cx="381.9" cy="152.5" r="1.14"/><circle cx="362.8" cy="157.5" r="1.32"/><circle cx="382.2" cy="159.4" r="1.14"/><circle cx="362.3" cy="165.0" r="1.32"/><circle cx="368.3" cy="157.1" r="1.27"/><circle cx="373.6" cy="167.0" r="1.22"/><circle cx="382.2" cy="147.7" r="1.14"/><circle cx="371.0" cy="141.9" r="1.24"/><circle cx="365.4" cy="150.6" r="1.29"/><circle cx="382.7" cy="141.8" r="1.14"/><circle cx="376.6" cy="165.7" r="1.19"/><circle cx="332.5" cy="157.0" r="1.59"/><circle cx="365.9" cy="159.3" r="1.29"/><circle cx="351.9" cy="168.2" r="1.42"/><circle cx="376.2" cy="163.6" r="1.19"/><circle cx="379.7" cy="168.9" r="1.16"/><circle cx="372.2" cy="160.7" r="1.23"/><circle cx="355.4" cy="160.5" r="1.38"/><circle cx="373.8" cy="160.0" r="1.22"/><circle cx="348.4" cy="146.8" r="1.45"/><circle cx="339.7" cy="151.9" r="1.52"/><circle cx="382.9" cy="167.0" r="1.13"/><circle cx="372.1" cy="169.2" r="1.23"/><circle cx="363.2" cy="142.5" r="1.31"/><circle cx="375.7" cy="166.3" r="1.2"/><circle cx="347.5" cy="157.9" r="1.45"/><circle cx="366.9" cy="166.7" r="1.28"/><circle cx="355.7" cy="159.9" r="1.38"/><circle cx="351.5" cy="169.9" r="1.42"/><circle cx="382.9" cy="155.6" r="1.13"/><circle cx="375.3" cy="142.4" r="1.2"/><circle cx="380.1" cy="154.7" r="1.16"/><circle cx="381.0" cy="161.5" r="1.15"/></g><g fill="#ff0000"><circle cx="208.8" cy="160.7" r="1.27"/><circle cx="208.8" cy="165.9" r="1.27"/><circle cx="252.2" cy="160.7" r="1.61"/><circle cx="256.1" cy="180.3" r="1.64"/><circle cx="195.3" cy="174.5" r="1.17"/><circle cx="188.3" cy="177.6" r="1.11"/><circle cx="186.8" cy="183.0" r="1.1"/><circle cx="182.5" cy="187.8" r="1.07"/><circle cx="191.1" cy="193.0" r="1.14"/><circle cx="191.9" cy="196.6" r="1.14"/><circle cx="197.2" cy="198.9" r="1.18"/><circle cx="194.0" cy="201.3" r="1.16"/><circle cx="225.3" cy="201.5" r="1.4"/><circle cx="195.3" cy="209.6" r="1.17"/><circle cx="201.6" cy="210.1" r="1.22"/><circle cx="187.6" cy="212.8" r="1.11"/><circle cx="190.8" cy="211.9" r="1.13"/><circle cx="206.1" cy="214.9" r="1.25"/><circle cx="211.2" cy="217.0" r="1.29"/><circle cx="202.8" cy="217.3" r="1.23"/><circle cx="188.9" cy="218.9" r="1.12"/><circle cx="194.0" cy="218.1" r="1.16"/><circle cx="196.9" cy="218.9" r="1.18"/><circle cx="201.7" cy="224.4" r="1.22"/><circle cx="187.3" cy="225.3" r="1.11"/><circle cx="192.7" cy="228.2" r="1.15"/><circle cx="224.3" cy="229.2" r="1.39"/><circle cx="183.1" cy="232.1" r="1.07"/><circle cx="189.2" cy="232.9" r="1.12"/><circle cx="200.1" cy="231.8" r="1.21"/><circle cx="207.3" cy="232.1" r="1.26"/><circle cx="196.9" cy="234.6" r="1.18"/><circle cx="213.3" cy="236.6" r="1.31"/><circle cx="214.1" cy="239.0" r="1.31"/><circle cx="184.7" cy="237.8" r="1.09"/><circle cx="190.2" cy="238.5" r="1.13"/><circle cx="187.9" cy="241.7" r="1.11"/><circle cx="192.1" cy="242.2" r="1.14"/><circle cx="209.3" cy="242.7" r="1.28"/><circle cx="183.1" cy="243.0" r="1.07"/><circle cx="218.1" cy="244.9" r="1.34"/><circle cx="198.8" cy="246.2" r="1.2"/><circle cx="202.8" cy="246.8" r="1.23"/><circle cx="188.3" cy="250.2" r="1.11"/><circle cx="208.8" cy="251.8" r="1.27"/><circle cx="196.9" cy="252.6" r="1.18"/><circle cx="198.2" cy="254.5" r="1.19"/><circle cx="183.3" cy="252.0" r="1.08"/><circle cx="184.7" cy="257.7" r="1.09"/><circle cx="186.3" cy="260.6" r="1.1"/><circle cx="188.4" cy="260.3" r="1.12"/><circle cx="193.7" cy="261.9" r="1.16"/><circle cx="186.8" cy="265.1" r="1.1"/><circle cx="182.8" cy="264.6" r="1.07"/><circle cx="438.7" cy="108.2" r="1.13"/><circle cx="454.0" cy="155.3" r="1.27"/><circle cx="454.0" cy="164.8" r="1.27"/><circle cx="475.3" cy="188.0" r="1.46"/><circle cx="491.4" cy="197.0" r="1.61"/><circle cx="440.1" cy="191.3" r="1.14"/><circle cx="441.5" cy="196.0" r="1.16"/><circle cx="452.9" cy="198.6" r="1.26"/><circle cx="473.0" cy="203.6" r="1.44"/><circle cx="452.1" cy="206.0" r="1.25"/><circle cx="444.6" cy="213.1" r="1.18"/><circle cx="451.9" cy="215.2" r="1.25"/><circle cx="453.6" cy="218.3" r="1.27"/><circle cx="455.9" cy="220.9" r="1.29"/><circle cx="432.7" cy="215.9" r="1.08"/><circle cx="438.2" cy="223.0" r="1.13"/><circle cx="447.4" cy="225.4" r="1.21"/><circle cx="446.5" cy="227.8" r="1.2"/><circle cx="435.6" cy="228.5" r="1.1"/><circle cx="437.9" cy="228.5" r="1.12"/><circle cx="480.1" cy="227.8" r="1.51"/><circle cx="446.2" cy="231.1" r="1.2"/><circle cx="452.9" cy="230.4" r="1.26"/><circle cx="470.8" cy="233.0" r="1.42"/><circle cx="450.2" cy="237.0" r="1.23"/><circle cx="454.7" cy="237.0" r="1.28"/><circle cx="462.1" cy="242.2" r="1.34"/><circle cx="476.5" cy="243.6" r="1.47"/><circle cx="437.0" cy="242.0" r="1.12"/><circle cx="435.1" cy="249.0" r="1.1"/><circle cx="444.1" cy="251.9" r="1.18"/><circle cx="446.9" cy="254.5" r="1.2"/><circle cx="436.3" cy="256.2" r="1.11"/></g><text transform="translate(27.3,186.2) rotate(-90)" text-anchor="middle" font-size="13.9" font-family="Liberation Sans, sans-serif" font-weight="bold">Log<tspan font-size="8" dy="3.6">10</tspan><tspan dy="-3.6" xml:space="preserve">( p value)</tspan></text><text x="154.2" y="356.8" text-anchor="middle" font-size="12.8" font-family="Liberation Sans, sans-serif" font-weight="bold">Log<tspan font-size="9" dy="3.8">2</tspan><tspan dy="-3.8" xml:space="preserve"> (FoldChange)</tspan></text><text x="421.8" y="355" text-anchor="middle" font-size="12.8" font-family="Liberation Sans, sans-serif" font-weight="bold">Log<tspan font-size="9" dy="3.8">2</tspan><tspan dy="-3.8" xml:space="preserve"> (FoldChange)</tspan></text><ellipse cx="501.5" cy="18" rx="3.7" ry="4" fill="#1a1aff"/><ellipse cx="520.5" cy="18" rx="3.7" ry="4" fill="#000"/><ellipse cx="537.3" cy="18" rx="3.7" ry="4" fill="#ff1a3c"/><text transform="translate(496,30.4) rotate(90)" font-size="12.7" font-family="Liberation Sans, sans-serif" font-weight="bold">Down-regulated</text><text transform="translate(515,30.4) rotate(90)" font-size="12.7" font-family="Liberation Sans, sans-serif" font-weight="bold">No-Changed</text><text transform="translate(532.6,28) rotate(90)" font-size="12.7" font-family="Liberation Sans, sans-serif" font-weight="bold">Up-regulated</text><rect x="86.00" y="387.60" width="31.40" height="18.06" fill="#ee2424"/><rect x="118.40" y="387.60" width="31.40" height="18.06" fill="#f59070"/><rect x="150.80" y="387.60" width="31.40" height="18.06" fill="#f4d4a0"/><rect x="183.20" y="387.60" width="31.40" height="18.06" fill="#c4c8ac"/><text x="219.3" y="400.9" font-size="11.2" font-family="Liberation Sans, sans-serif" font-weight="bold">sir11345</text><rect x="86.00" y="406.66" width="31.40" height="18.06" fill="#e8e0a8"/><rect x="118.40" y="406.66" width="31.40" height="18.06" fill="#f4e4a8"/><rect x="150.80" y="406.66" width="31.40" height="18.06" fill="#1a5cb4"/><rect x="183.20" y="406.66" width="31.40" height="18.06" fill="#2a64b8"/><text x="219.3" y="420.0" font-size="11.2" font-family="Liberation Sans, sans-serif" font-weight="bold">sir8414</text><rect x="86.00" y="425.72" width="31.40" height="18.06" fill="#e8e2ac"/><rect x="118.40" y="425.72" width="31.40" height="18.06" fill="#4070b8"/><rect x="150.80" y="425.72" width="31.40" height="18.06" fill="#f48c6c"/><rect x="183.20" y="425.72" width="31.40" height="18.06" fill="#f4e6ac"/><text x="219.3" y="439.0" font-size="11.2" font-family="Liberation Sans, sans-serif" font-weight="bold">sir2582</text><rect x="86.00" y="444.78" width="31.40" height="18.06" fill="#c4c4aa"/><rect x="118.40" y="444.78" width="31.40" height="18.06" fill="#6088b8"/><rect x="150.80" y="444.78" width="31.40" height="18.06" fill="#f49c78"/><rect x="183.20" y="444.78" width="31.40" height="18.06" fill="#f2e4ac"/><text x="219.3" y="458.1" font-size="11.2" font-family="Liberation Sans, sans-serif" font-weight="bold">sir2716</text><rect x="86.00" y="463.84" width="31.40" height="18.06" fill="#cacca8"/><rect x="118.40" y="463.84" width="31.40" height="18.06" fill="#1458b8"/><rect x="150.80" y="463.84" width="31.40" height="18.06" fill="#f49472"/><rect x="183.20" y="463.84" width="31.40" height="18.06" fill="#f4dcaa"/><text x="219.3" y="477.1" font-size="11.2" font-family="Liberation Sans, sans-serif" font-weight="bold">sir423</text><rect x="86.00" y="482.90" width="31.40" height="18.06" fill="#f4b088"/><rect x="118.40" y="482.90" width="31.40" height="18.06" fill="#f2e4ac"/><rect x="150.80" y="482.90" width="31.40" height="18.06" fill="#f03a2c"/><rect x="183.20" y="482.90" width="31.40" height="18.06" fill="#ec4434"/><text x="219.3" y="496.2" font-size="11.2" font-family="Liberation Sans, sans-serif" font-weight="bold">sir7356</text><rect x="86.00" y="501.96" width="31.40" height="18.06" fill="#c8cca8"/><rect x="118.40" y="501.96" width="31.40" height="18.06" fill="#8aa0b0"/><rect x="150.80" y="501.96" width="31.40" height="18.06" fill="#f48c6c"/><rect x="183.20" y="501.96" width="31.40" height="18.06" fill="#f4c494"/><text x="219.3" y="515.3" font-size="11.2" font-family="Liberation Sans, sans-serif" font-weight="bold">sir3341</text><rect x="86.00" y="521.02" width="31.40" height="18.06" fill="#f4e6a8"/><rect x="118.40" y="521.02" width="31.40" height="18.06" fill="#a8b4ac"/><rect x="150.80" y="521.02" width="31.40" height="18.06" fill="#f26a50"/><rect x="183.20" y="521.02" width="31.40" height="18.06" fill="#f4886a"/><text x="219.3" y="534.3" font-size="11.2" font-family="Liberation Sans, sans-serif" font-weight="bold">sir5171</text><rect x="86.00" y="540.08" width="31.40" height="18.06" fill="#8aa0b0"/><rect x="118.40" y="540.08" width="31.40" height="18.06" fill="#4070b4"/><rect x="150.80" y="540.08" width="31.40" height="18.06" fill="#f4c494"/><rect x="183.20" y="540.08" width="31.40" height="18.06" fill="#f4c494"/><text x="219.3" y="553.4" font-size="11.2" font-family="Liberation Sans, sans-serif" font-weight="bold">sir2879</text><rect x="86.00" y="559.14" width="31.40" height="18.06" fill="#1c5cb8"/><rect x="118.40" y="559.14" width="31.40" height="18.06" fill="#0c54b8"/><rect x="150.80" y="559.14" width="31.40" height="18.06" fill="#c8ccac"/><rect x="183.20" y="559.14" width="31.40" height="18.06" fill="#a8b8a8"/><text x="219.3" y="572.4" font-size="11.2" font-family="Liberation Sans, sans-serif" font-weight="bold">sir10896</text><rect x="86.00" y="578.20" width="31.40" height="18.06" fill="#f4e4a8"/><rect x="118.40" y="578.20" width="31.40" height="18.06" fill="#6a8cb8"/><rect x="150.80" y="578.20" width="31.40" height="18.06" fill="#f0503c"/><rect x="183.20" y="578.20" width="31.40" height="18.06" fill="#f4a07c"/><text x="219.3" y="591.5" font-size="11.2" font-family="Liberation Sans, sans-serif" font-weight="bold">sir4748</text><rect x="86.00" y="597.26" width="31.40" height="18.06" fill="#8aa0b0"/><rect x="118.40" y="597.26" width="31.40" height="18.06" fill="#7898b4"/><rect x="150.80" y="597.26" width="31.40" height="18.06" fill="#f4c094"/><rect x="183.20" y="597.26" width="31.40" height="18.06" fill="#f4bc90"/><text x="219.3" y="610.6" font-size="11.2" font-family="Liberation Sans, sans-serif" font-weight="bold">sir13627</text><rect x="86.00" y="616.32" width="31.40" height="18.06" fill="#8aa0b0"/><rect x="118.40" y="616.32" width="31.40" height="18.06" fill="#0e56b8"/><rect x="150.80" y="616.32" width="31.40" height="18.06" fill="#f4bc8c"/><rect x="183.20" y="616.32" width="31.40" height="18.06" fill="#ece4aa"/><text x="219.3" y="629.6" font-size="11.2" font-family="Liberation Sans, sans-serif" font-weight="bold">sir6443</text><rect x="86.00" y="635.38" width="31.40" height="18.06" fill="#9aacac"/><rect x="118.40" y="635.38" width="31.40" height="18.06" fill="#5078b8"/><rect x="150.80" y="635.38" width="31.40" height="18.06" fill="#f49c78"/><rect x="183.20" y="635.38" width="31.40" height="18.06" fill="#f4b088"/><text x="219.3" y="648.7" font-size="11.2" font-family="Liberation Sans, sans-serif" font-weight="bold">sir5088</text><rect x="86.00" y="654.44" width="31.40" height="18.06" fill="#e8e4ac"/><rect x="118.40" y="654.44" width="31.40" height="18.06" fill="#5e86b6"/><rect x="150.80" y="654.44" width="31.40" height="18.06" fill="#f03a30"/><rect x="183.20" y="654.44" width="31.40" height="18.06" fill="#f4907a"/><text x="219.3" y="667.7" font-size="11.2" font-family="Liberation Sans, sans-serif" font-weight="bold">sir6424</text><rect x="86.00" y="673.50" width="31.40" height="18.06" fill="#5078b8"/><rect x="118.40" y="673.50" width="31.40" height="18.06" fill="#0a50bc"/><rect x="150.80" y="673.50" width="31.40" height="18.06" fill="#f4bc8c"/><rect x="183.20" y="673.50" width="31.40" height="18.06" fill="#f2e4ac"/><text x="219.3" y="686.8" font-size="11.2" font-family="Liberation Sans, sans-serif" font-weight="bold">sir11201</text><rect x="86.00" y="692.56" width="31.40" height="18.06" fill="#a8b8a8"/><rect x="118.40" y="692.56" width="31.40" height="18.06" fill="#98acac"/><rect x="150.80" y="692.56" width="31.40" height="18.06" fill="#f03c30"/><rect x="183.20" y="692.56" width="31.40" height="18.06" fill="#f04034"/><text x="219.3" y="705.9" font-size="11.2" font-family="Liberation Sans, sans-serif" font-weight="bold">sir4707</text><text transform="translate(109,719.8) rotate(-45)" text-anchor="end" font-size="12" font-family="Liberation Sans, sans-serif" font-weight="bold">CSM</text><text transform="translate(142,719.8) rotate(-45)" text-anchor="end" font-size="12" font-family="Liberation Sans, sans-serif" font-weight="bold">CSI</text><text transform="translate(174.5,719.8) rotate(-45)" text-anchor="end" font-size="12" font-family="Liberation Sans, sans-serif" font-weight="bold">SMM</text><text transform="translate(206.5,719.8) rotate(-45)" text-anchor="end" font-size="12" font-family="Liberation Sans, sans-serif" font-weight="bold">SMI</text><defs><linearGradient id="cb" x1="0" y1="0" x2="0" y2="1"><stop offset="0" stop-color="#ec1b24"/><stop offset="0.08" stop-color="#ee2a2a"/><stop offset="0.20" stop-color="#f04d3c"/><stop offset="0.30" stop-color="#f27a5a"/><stop offset="0.38" stop-color="#f4a07a"/><stop offset="0.45" stop-color="#f5c391"/><stop offset="0.52" stop-color="#f1e6a6"/><stop offset="0.58" stop-color="#d9d6a8"/><stop offset="0.65" stop-color="#b3bcac"/><stop offset="0.72" stop-color="#8ea3b2"/><stop offset="0.82" stop-color="#5b84bb"/><stop offset="0.92" stop-color="#2e63b8"/><stop offset="1" stop-color="#0a45b3"/></linearGradient></defs><rect x="33.4" y="426" width="15.4" height="120.6" fill="url(#cb)"/><line x1="49" y1="426" x2="49" y2="546.6" stroke="#222" stroke-width="1"/><line x1="49" y1="426.4" x2="51" y2="426.4" stroke="#222" stroke-width="1"/><text x="52.3" y="430.0" font-size="10" font-family="Liberation Sans, sans-serif" font-weight="bold">11.50</text><line x1="49" y1="443.6" x2="51" y2="443.6" stroke="#222" stroke-width="1"/><text x="52.3" y="447.2" font-size="10" font-family="Liberation Sans, sans-serif" font-weight="bold">11.00</text><line x1="49" y1="460.7" x2="51" y2="460.7" stroke="#222" stroke-width="1"/><text x="52.3" y="464.3" font-size="10" font-family="Liberation Sans, sans-serif" font-weight="bold">10.50</text><line x1="49" y1="477.9" x2="51" y2="477.9" stroke="#222" stroke-width="1"/><text x="52.3" y="481.5" font-size="10" font-family="Liberation Sans, sans-serif" font-weight="bold">10.00</text><line x1="49" y1="495.1" x2="51" y2="495.1" stroke="#222" stroke-width="1"/><text x="52.3" y="498.7" font-size="10" font-family="Liberation Sans, sans-serif" font-weight="bold">9.50</text><line x1="49" y1="512.2" x2="51" y2="512.2" stroke="#222" stroke-width="1"/><text x="52.3" y="515.9" font-size="10" font-family="Liberation Sans, sans-serif" font-weight="bold">9.00</text><line x1="49" y1="529.4" x2="51" y2="529.4" stroke="#222" stroke-width="1"/><text x="52.3" y="533.0" font-size="10" font-family="Liberation Sans, sans-serif" font-weight="bold">8.50</text><line x1="49" y1="546.6" x2="51" y2="546.6" stroke="#222" stroke-width="1"/><text x="52.3" y="550.2" font-size="10" font-family="Liberation Sans, sans-serif" font-weight="bold">8.00</text><text x="2.5" y="413.2" font-size="12.7" font-family="Liberation Sans, sans-serif" font-weight="bold">Log<tspan font-size="9.8" dy="5">2</tspan><tspan dy="-5">(TPM+1)</tspan></text><rect x="408.30" y="392.10" width="84.30" height="5.7" fill="#9e0000"/><rect x="408.30" y="397.80" width="58.62" height="5.8" fill="#b8c200"/><line x1="273.8" y1="397.8" x2="277.3" y2="397.8" stroke="#444" stroke-width="1"/><rect x="408.30" y="411.14" width="82.98" height="5.7" fill="#9e0000"/><rect x="408.30" y="416.84" width="86.94" height="5.8" fill="#b8c200"/><line x1="273.8" y1="416.8" x2="277.3" y2="416.8" stroke="#444" stroke-width="1"/><rect x="359.96" y="430.18" width="48.34" height="5.7" fill="#9e0000"/><rect x="328.61" y="435.88" width="79.69" height="5.8" fill="#b8c200"/><line x1="273.8" y1="435.9" x2="277.3" y2="435.9" stroke="#444" stroke-width="1"/><rect x="351.27" y="449.22" width="57.03" height="5.7" fill="#9e0000"/><rect x="339.15" y="454.92" width="69.15" height="5.8" fill="#b8c200"/><line x1="273.8" y1="454.9" x2="277.3" y2="454.9" stroke="#444" stroke-width="1"/><rect x="350.74" y="468.26" width="57.56" height="5.7" fill="#9e0000"/><rect x="310.83" y="473.96" width="97.47" height="5.8" fill="#b8c200"/><line x1="273.8" y1="474.0" x2="277.3" y2="474.0" stroke="#444" stroke-width="1"/><rect x="349.03" y="487.30" width="59.27" height="5.7" fill="#9e0000"/><rect x="334.54" y="493.00" width="73.76" height="5.8" fill="#b8c200"/><line x1="273.8" y1="493.0" x2="277.3" y2="493.0" stroke="#444" stroke-width="1"/><rect x="347.97" y="506.34" width="60.33" height="5.7" fill="#9e0000"/><rect x="342.44" y="512.04" width="65.86" height="5.8" fill="#b8c200"/><line x1="273.8" y1="512.0" x2="277.3" y2="512.0" stroke="#444" stroke-width="1"/><rect x="345.73" y="525.38" width="62.57" height="5.7" fill="#9e0000"/><rect x="332.23" y="531.08" width="76.07" height="5.8" fill="#b8c200"/><line x1="273.8" y1="531.1" x2="277.3" y2="531.1" stroke="#444" stroke-width="1"/><rect x="342.44" y="544.42" width="65.86" height="5.7" fill="#9e0000"/><rect x="314.12" y="550.12" width="94.18" height="5.8" fill="#b8c200"/><line x1="273.8" y1="550.1" x2="277.3" y2="550.1" stroke="#444" stroke-width="1"/><rect x="341.78" y="563.46" width="66.52" height="5.7" fill="#9e0000"/><rect x="347.05" y="569.16" width="61.25" height="5.8" fill="#b8c200"/><line x1="273.8" y1="569.2" x2="277.3" y2="569.2" stroke="#444" stroke-width="1"/><rect x="339.81" y="582.50" width="68.49" height="5.7" fill="#9e0000"/><rect x="311.49" y="588.20" width="96.81" height="5.8" fill="#b8c200"/><line x1="273.8" y1="588.2" x2="277.3" y2="588.2" stroke="#444" stroke-width="1"/><rect x="337.83" y="601.54" width="70.47" height="5.7" fill="#9e0000"/><rect x="330.59" y="607.24" width="77.71" height="5.8" fill="#b8c200"/><line x1="273.8" y1="607.2" x2="277.3" y2="607.2" stroke="#444" stroke-width="1"/><rect x="335.20" y="620.58" width="73.10" height="5.7" fill="#9e0000"/><rect x="323.34" y="626.28" width="84.96" height="5.8" fill="#b8c200"/><line x1="273.8" y1="626.3" x2="277.3" y2="626.3" stroke="#444" stroke-width="1"/><rect x="330.59" y="639.62" width="77.71" height="5.7" fill="#9e0000"/><rect x="310.17" y="645.32" width="98.13" height="5.8" fill="#b8c200"/><line x1="273.8" y1="645.3" x2="277.3" y2="645.3" stroke="#444" stroke-width="1"/><rect x="319.39" y="658.66" width="88.91" height="5.7" fill="#9e0000"/><rect x="304.90" y="664.36" width="103.40" height="5.8" fill="#b8c200"/><line x1="273.8" y1="664.4" x2="277.3" y2="664.4" stroke="#444" stroke-width="1"/><rect x="319.06" y="677.70" width="89.24" height="5.7" fill="#9e0000"/><rect x="312.14" y="683.40" width="96.16" height="5.8" fill="#b8c200"/><line x1="273.8" y1="683.4" x2="277.3" y2="683.4" stroke="#444" stroke-width="1"/><rect x="294.36" y="696.74" width="113.94" height="5.7" fill="#9e0000"/><rect x="284.48" y="702.44" width="123.82" height="5.8" fill="#b8c200"/><line x1="273.8" y1="702.4" x2="277.3" y2="702.4" stroke="#444" stroke-width="1"/><line x1="408.3" y1="388.3" x2="408.3" y2="712.0" stroke="#444" stroke-width="1"/><rect x="277.3" y="388.3" width="230.5" height="323.7" fill="none" stroke="#4a4a4a" stroke-width="1.2"/><line x1="276.6" y1="712.0" x2="276.6" y2="715.5" stroke="#444" stroke-width="1"/><text x="280.4" y="727.3" text-anchor="end" font-size="12.5" font-family="Liberation Sans, sans-serif" font-weight="bold">− 2</text><line x1="309.5" y1="712.0" x2="309.5" y2="715.5" stroke="#444" stroke-width="1"/><text x="318.5" y="727.3" text-anchor="end" font-size="12.5" font-family="Liberation Sans, sans-serif" font-weight="bold">−1.5</text><line x1="342.4" y1="712.0" x2="342.4" y2="715.5" stroke="#444" stroke-width="1"/><text x="346.2" y="727.3" text-anchor="end" font-size="12.5" font-family="Liberation Sans, sans-serif" font-weight="bold">−1</text><line x1="375.4" y1="712.0" x2="375.4" y2="715.5" stroke="#444" stroke-width="1"/><text x="384.4" y="727.3" text-anchor="end" font-size="12.5" font-family="Liberation Sans, sans-serif" font-weight="bold">−0.5</text><line x1="408.3" y1="712.0" x2="408.3" y2="715.5" stroke="#444" stroke-width="1"/><text x="409.8" y="727.3" text-anchor="middle" font-size="12.5" font-family="Liberation Sans, sans-serif" font-weight="bold">0</text><line x1="441.2" y1="712.0" x2="441.2" y2="715.5" stroke="#444" stroke-width="1"/><text x="442.7" y="727.3" text-anchor="middle" font-size="12.5" font-family="Liberation Sans, sans-serif" font-weight="bold">0.5</text><line x1="474.2" y1="712.0" x2="474.2" y2="715.5" stroke="#444" stroke-width="1"/><text x="475.7" y="727.3" text-anchor="middle" font-size="12.5" font-family="Liberation Sans, sans-serif" font-weight="bold">1</text><line x1="507.1" y1="712.0" x2="507.1" y2="715.5" stroke="#444" stroke-width="1"/><text x="506.8" y="727.3" text-anchor="middle" font-size="12.5" font-family="Liberation Sans, sans-serif" font-weight="bold">1.5</text><text x="393.6" y="748.6" text-anchor="middle" font-size="12.6" font-family="Liberation Sans, sans-serif" font-weight="bold">Log<tspan font-size="9" dy="3.8">2</tspan><tspan dy="-3.8" xml:space="preserve"> (FoldChange)</tspan></text><rect x="530.5" y="396" width="6.4" height="23.3" fill="#9e0000"/><rect x="517" y="396" width="6.2" height="23.3" fill="#b8c200"/><text transform="translate(529.5,425.6) rotate(90)" font-size="11" font-family="Liberation Sans, sans-serif" font-weight="bold" xml:space="preserve">CSM vs SMM</text><text transform="translate(516,425.6) rotate(90)" font-size="11" font-family="Liberation Sans, sans-serif" font-weight="bold" xml:space="preserve">CSI vs SMI</text></svg></body></html>
